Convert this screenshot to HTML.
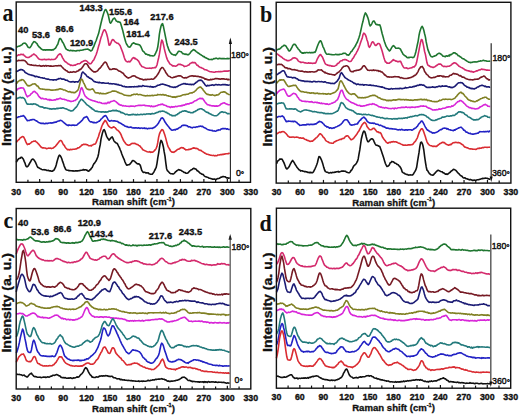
<!DOCTYPE html>
<html><head><meta charset="utf-8"><style>
html,body{margin:0;padding:0;background:#fff;}
svg{display:block;}
.tl{font-family:"Liberation Sans", sans-serif;font-weight:bold;font-size:8.8px;fill:#111;stroke:#111;stroke-width:0.35px;}
.ax{font-family:"Liberation Sans", sans-serif;font-weight:bold;font-size:9.6px;fill:#111;stroke:#111;stroke-width:0.3px;}
.ay{font-family:"Liberation Sans", sans-serif;font-weight:bold;font-size:12.7px;fill:#111;stroke:#111;stroke-width:0.35px;}
.pl{font-family:"Liberation Serif", serif;font-weight:bold;font-size:22px;fill:#111;}
.pk{font-family:"Liberation Sans", sans-serif;font-weight:bold;font-size:9.3px;fill:#111;stroke:#111;stroke-width:0.35px;}
.ang{font-family:"Liberation Sans", sans-serif;font-size:8.8px;fill:#111;stroke:#111;stroke-width:0.4px;}
</style></head><body>
<svg width="520" height="415" viewBox="0 0 520 415">
<polyline points="16.2,47.0 17.0,46.9 17.8,46.6 18.6,46.3 19.4,46.1 20.2,45.7 21.0,45.3 21.8,44.9 22.6,43.9 23.4,43.3 24.2,43.2 25.0,43.1 25.8,43.7 26.6,44.6 27.4,46.0 28.2,47.3 29.0,47.6 29.8,47.8 30.6,46.8 31.4,45.6 32.2,43.9 33.0,42.8 33.8,41.6 34.6,41.7 35.4,42.1 36.2,43.0 37.0,43.7 37.8,45.3 38.6,46.4 39.4,47.3 40.2,47.8 41.0,48.8 41.8,49.3 42.6,49.7 43.4,50.1 44.2,49.7 45.0,49.9 45.8,50.1 46.6,49.8 47.4,49.9 48.2,49.9 49.0,49.9 49.8,49.7 50.6,49.9 51.4,50.2 52.2,49.6 53.0,50.0 53.8,49.5 54.6,48.7 55.4,48.3 56.2,47.0 57.0,45.4 57.8,44.2 58.6,41.6 59.4,39.0 60.2,38.5 61.0,39.1 61.8,40.6 62.6,42.3 63.4,43.3 64.2,45.1 65.0,46.8 65.8,48.6 66.6,49.4 67.4,49.9 68.2,50.1 69.0,50.5 69.8,50.7 70.6,50.3 71.4,50.5 72.2,50.9 73.0,50.4 73.8,50.7 74.6,50.8 75.4,51.0 76.2,50.9 77.0,50.6 77.8,50.5 78.6,50.5 79.4,50.7 80.2,50.3 81.0,50.2 81.8,50.2 82.6,50.0 83.4,49.9 84.2,49.5 85.0,49.5 85.8,49.2 86.6,49.3 87.4,49.1 88.2,49.2 89.0,49.8 89.8,50.2 90.6,50.9 91.4,50.8 92.2,50.0 93.0,47.9 93.8,46.5 94.6,44.3 95.4,42.3 96.2,40.5 97.0,38.0 97.8,35.8 98.6,33.6 99.4,30.1 100.2,26.7 101.0,23.3 101.8,20.0 102.6,17.0 103.4,14.2 104.2,11.8 105.0,10.0 105.8,9.5 106.6,10.9 107.4,12.8 108.2,14.9 109.0,18.5 109.8,22.2 110.6,23.2 111.4,22.1 112.2,20.6 113.0,19.1 113.8,18.4 114.6,18.1 115.4,19.4 116.2,20.9 117.0,21.2 117.8,22.0 118.6,21.6 119.4,22.2 120.2,22.3 121.0,24.5 121.8,27.2 122.6,29.9 123.4,33.2 124.2,36.6 125.0,39.5 125.8,42.3 126.6,44.2 127.4,45.3 128.2,46.7 129.0,47.0 129.8,47.1 130.6,46.2 131.4,45.0 132.2,43.6 133.0,43.2 133.8,42.8 134.6,43.5 135.4,43.9 136.2,44.1 137.0,44.3 137.8,44.4 138.6,44.6 139.4,44.7 140.2,45.6 141.0,47.0 141.8,48.8 142.6,50.8 143.4,51.4 144.2,52.1 145.0,53.2 145.8,54.1 146.6,54.1 147.4,54.7 148.2,54.9 149.0,54.9 149.8,55.6 150.6,55.6 151.4,55.7 152.2,55.7 153.0,56.0 153.8,55.8 154.6,55.2 155.4,53.7 156.2,51.8 157.0,50.1 157.8,46.8 158.6,41.1 159.4,34.2 160.2,29.7 161.0,26.3 161.8,24.1 162.6,23.7 163.4,26.3 164.2,30.3 165.0,34.4 165.8,38.3 166.6,42.4 167.4,45.8 168.2,47.9 169.0,50.2 169.8,51.7 170.6,52.7 171.4,53.7 172.2,54.2 173.0,54.6 173.8,55.0 174.6,54.9 175.4,55.4 176.2,54.4 177.0,53.7 177.8,52.3 178.6,51.3 179.4,51.2 180.2,51.5 181.0,51.7 181.8,52.4 182.6,53.6 183.4,53.6 184.2,54.0 185.0,54.4 185.8,54.1 186.6,54.2 187.4,54.7 188.2,54.7 189.0,54.2 189.8,53.5 190.6,52.4 191.4,51.3 192.2,50.7 193.0,49.9 193.8,49.6 194.6,50.3 195.4,50.8 196.2,51.6 197.0,52.1 197.8,52.8 198.6,53.2 199.4,53.8 200.2,54.5 201.0,54.8 201.8,55.4 202.6,55.9 203.4,56.7 204.2,56.5 205.0,57.5 205.8,57.8 206.6,58.3 207.4,58.5 208.2,59.0 209.0,59.5 209.8,59.5 210.6,59.5 211.4,59.4 212.2,59.6 213.0,59.2 213.8,58.6 214.6,58.8 215.4,58.4 216.2,58.1 217.0,58.5 217.8,58.9 218.6,58.6 219.4,58.4 220.2,58.4 221.0,58.8 221.8,58.6 222.6,58.6 223.4,58.6 224.2,58.6 225.0,58.8 225.8,58.7 226.6,58.6 227.4,58.4 228.2,58.7 229.0,58.4 229.8,58.7" fill="none" stroke="#1f7630" stroke-width="1.6" stroke-linejoin="round"/>
<polyline points="16.2,56.3 17.0,55.9 17.8,55.4 18.6,54.7 19.4,55.0 20.2,54.8 21.0,54.2 21.8,54.5 22.6,54.6 23.4,54.4 24.2,55.6 25.0,56.2 25.8,56.9 26.6,57.2 27.4,57.5 28.2,57.5 29.0,57.4 29.8,56.8 30.6,56.2 31.4,55.9 32.2,55.0 33.0,54.6 33.8,54.0 34.6,54.6 35.4,55.0 36.2,55.8 37.0,56.8 37.8,57.7 38.6,58.7 39.4,59.3 40.2,59.5 41.0,59.5 41.8,59.8 42.6,59.6 43.4,59.5 44.2,59.4 45.0,59.4 45.8,59.8 46.6,59.6 47.4,59.5 48.2,59.4 49.0,59.3 49.8,59.5 50.6,59.7 51.4,59.4 52.2,59.5 53.0,59.5 53.8,59.5 54.6,59.2 55.4,59.0 56.2,58.0 57.0,57.1 57.8,55.5 58.6,54.7 59.4,54.2 60.2,53.7 61.0,54.5 61.8,56.1 62.6,57.8 63.4,59.2 64.2,60.6 65.0,61.6 65.8,61.9 66.6,62.6 67.4,63.1 68.2,64.0 69.0,64.2 69.8,64.6 70.6,65.4 71.4,65.1 72.2,65.5 73.0,65.5 73.8,65.2 74.6,65.1 75.4,65.2 76.2,64.5 77.0,64.2 77.8,63.8 78.6,63.8 79.4,63.8 80.2,63.4 81.0,62.5 81.8,62.0 82.6,61.5 83.4,61.2 84.2,60.7 85.0,60.6 85.8,60.6 86.6,61.0 87.4,61.7 88.2,62.6 89.0,63.2 89.8,63.7 90.6,63.8 91.4,63.1 92.2,62.1 93.0,60.7 93.8,60.0 94.6,58.1 95.4,56.3 96.2,54.5 97.0,52.0 97.8,49.2 98.6,46.3 99.4,43.7 100.2,40.5 101.0,37.6 101.8,35.4 102.6,33.0 103.4,31.0 104.2,29.8 105.0,30.1 105.8,31.6 106.6,33.8 107.4,36.7 108.2,40.5 109.0,45.0 109.8,45.2 110.6,43.7 111.4,41.4 112.2,40.0 113.0,39.5 113.8,40.2 114.6,41.3 115.4,42.1 116.2,42.5 117.0,43.2 117.8,43.3 118.6,43.8 119.4,44.7 120.2,45.7 121.0,47.9 121.8,50.0 122.6,52.1 123.4,54.5 124.2,57.3 125.0,59.5 125.8,60.8 126.6,61.5 127.4,61.9 128.2,61.8 129.0,61.3 129.8,61.9 130.6,61.1 131.4,60.1 132.2,58.6 133.0,57.9 133.8,57.6 134.6,58.6 135.4,58.4 136.2,59.3 137.0,59.5 137.8,60.4 138.6,61.1 139.4,62.7 140.2,64.4 141.0,65.2 141.8,66.5 142.6,66.8 143.4,67.0 144.2,67.4 145.0,67.8 145.8,68.1 146.6,68.2 147.4,68.2 148.2,68.3 149.0,68.2 149.8,68.1 150.6,68.3 151.4,68.4 152.2,67.8 153.0,68.0 153.8,67.8 154.6,67.5 155.4,67.7 156.2,66.7 157.0,65.0 157.8,61.4 158.6,58.0 159.4,54.2 160.2,49.2 161.0,43.5 161.8,40.0 162.6,41.3 163.4,44.4 164.2,48.2 165.0,51.6 165.8,54.6 166.6,57.6 167.4,59.6 168.2,61.3 169.0,62.3 169.8,63.9 170.6,64.4 171.4,64.9 172.2,65.5 173.0,66.1 173.8,65.8 174.6,66.0 175.4,66.2 176.2,65.9 177.0,65.6 177.8,64.8 178.6,64.3 179.4,64.4 180.2,64.3 181.0,64.8 181.8,64.9 182.6,65.3 183.4,65.5 184.2,66.6 185.0,66.2 185.8,66.3 186.6,66.0 187.4,65.6 188.2,65.1 189.0,65.0 189.8,63.9 190.6,63.2 191.4,62.9 192.2,62.4 193.0,62.6 193.8,62.6 194.6,62.5 195.4,63.0 196.2,64.1 197.0,65.3 197.8,65.3 198.6,66.5 199.4,66.7 200.2,67.5 201.0,67.5 201.8,68.0 202.6,68.2 203.4,68.6 204.2,69.4 205.0,69.7 205.8,69.8 206.6,70.1 207.4,70.3 208.2,70.9 209.0,71.3 209.8,71.6 210.6,71.8 211.4,71.7 212.2,72.0 213.0,72.0 213.8,72.2 214.6,72.3 215.4,71.9 216.2,71.7 217.0,71.8 217.8,71.7 218.6,71.6 219.4,71.7 220.2,71.4 221.0,71.7 221.8,71.5 222.6,71.5 223.4,71.3 224.2,71.1 225.0,71.0 225.8,71.1 226.6,71.0 227.4,71.1 228.2,71.1 229.0,70.7 229.8,71.0" fill="none" stroke="#d42a6c" stroke-width="1.6" stroke-linejoin="round"/>
<polyline points="16.2,61.1 17.0,61.0 17.8,60.7 18.6,60.2 19.4,60.5 20.2,60.5 21.0,60.5 21.8,60.4 22.6,60.4 23.4,60.3 24.2,60.5 25.0,60.8 25.8,61.7 26.6,62.4 27.4,63.6 28.2,64.3 29.0,64.5 29.8,64.7 30.6,65.0 31.4,64.7 32.2,65.3 33.0,65.3 33.8,65.4 34.6,65.5 35.4,65.3 36.2,65.5 37.0,65.7 37.8,65.7 38.6,65.7 39.4,65.4 40.2,65.9 41.0,66.1 41.8,66.1 42.6,65.9 43.4,65.6 44.2,66.1 45.0,65.9 45.8,65.5 46.6,66.1 47.4,65.7 48.2,65.7 49.0,65.9 49.8,66.3 50.6,65.9 51.4,66.1 52.2,66.3 53.0,66.3 53.8,66.0 54.6,66.0 55.4,65.7 56.2,65.8 57.0,65.9 57.8,65.8 58.6,65.6 59.4,65.7 60.2,65.4 61.0,65.8 61.8,66.7 62.6,67.5 63.4,68.5 64.2,69.2 65.0,69.7 65.8,70.4 66.6,70.7 67.4,71.2 68.2,72.1 69.0,72.2 69.8,72.4 70.6,71.9 71.4,72.2 72.2,72.1 73.0,72.0 73.8,71.6 74.6,72.0 75.4,72.1 76.2,71.8 77.0,71.3 77.8,71.0 78.6,70.7 79.4,69.5 80.2,69.6 81.0,69.0 81.8,68.1 82.6,67.1 83.4,65.8 84.2,64.6 85.0,63.8 85.8,63.7 86.6,63.7 87.4,64.7 88.2,66.0 89.0,67.5 89.8,68.2 90.6,69.1 91.4,69.9 92.2,70.8 93.0,71.2 93.8,72.0 94.6,71.8 95.4,71.9 96.2,71.6 97.0,71.2 97.8,70.6 98.6,69.3 99.4,68.6 100.2,68.0 101.0,67.0 101.8,65.8 102.6,65.0 103.4,63.7 104.2,62.7 105.0,62.0 105.8,62.4 106.6,63.3 107.4,65.3 108.2,66.8 109.0,68.4 109.8,69.5 110.6,69.3 111.4,69.5 112.2,69.2 113.0,68.8 113.8,68.9 114.6,68.8 115.4,69.2 116.2,69.1 117.0,69.5 117.8,70.2 118.6,70.8 119.4,71.2 120.2,71.3 121.0,71.9 121.8,72.6 122.6,72.9 123.4,73.5 124.2,74.7 125.0,75.7 125.8,76.4 126.6,77.0 127.4,77.6 128.2,78.1 129.0,77.7 129.8,77.5 130.6,77.1 131.4,76.7 132.2,76.1 133.0,76.0 133.8,75.7 134.6,76.0 135.4,76.3 136.2,77.2 137.0,77.4 137.8,77.7 138.6,78.1 139.4,78.5 140.2,79.0 141.0,78.9 141.8,79.2 142.6,79.4 143.4,80.0 144.2,79.7 145.0,79.4 145.8,79.6 146.6,79.8 147.4,79.3 148.2,79.3 149.0,79.5 149.8,79.3 150.6,79.3 151.4,78.9 152.2,79.3 153.0,79.2 153.8,78.8 154.6,78.3 155.4,77.0 156.2,76.7 157.0,75.4 157.8,74.2 158.6,73.0 159.4,71.4 160.2,69.6 161.0,68.6 161.8,67.5 162.6,67.5 163.4,68.3 164.2,69.6 165.0,70.7 165.8,72.6 166.6,73.5 167.4,74.8 168.2,75.9 169.0,76.3 169.8,76.5 170.6,77.2 171.4,77.5 172.2,77.7 173.0,77.7 173.8,77.1 174.6,77.3 175.4,76.6 176.2,76.7 177.0,76.3 177.8,76.0 178.6,75.9 179.4,75.8 180.2,75.9 181.0,76.0 181.8,76.7 182.6,77.4 183.4,77.8 184.2,77.9 185.0,77.9 185.8,77.6 186.6,77.9 187.4,77.3 188.2,77.0 189.0,76.6 189.8,76.3 190.6,76.0 191.4,75.9 192.2,75.7 193.0,75.9 193.8,76.4 194.6,76.0 195.4,76.1 196.2,76.3 197.0,76.5 197.8,76.2 198.6,76.5 199.4,76.9 200.2,76.9 201.0,77.0 201.8,77.6 202.6,77.5 203.4,78.0 204.2,78.3 205.0,79.2 205.8,78.8 206.6,79.4 207.4,79.6 208.2,79.9 209.0,79.9 209.8,80.0 210.6,79.3 211.4,79.7 212.2,79.4 213.0,79.2 213.8,79.3 214.6,78.9 215.4,78.5 216.2,78.8 217.0,78.5 217.8,78.7 218.6,78.9 219.4,78.9 220.2,79.2 221.0,78.9 221.8,78.7 222.6,78.9 223.4,78.9 224.2,78.9 225.0,79.3 225.8,79.2 226.6,79.0 227.4,79.6 228.2,79.4 229.0,79.6 229.8,79.5" fill="none" stroke="#761a24" stroke-width="1.6" stroke-linejoin="round"/>
<polyline points="16.2,72.1 17.0,71.3 17.8,71.0 18.6,70.4 19.4,70.1 20.2,69.9 21.0,69.4 21.8,69.7 22.6,69.9 23.4,70.5 24.2,70.9 25.0,72.3 25.8,72.8 26.6,73.2 27.4,73.6 28.2,74.2 29.0,74.5 29.8,74.6 30.6,75.0 31.4,75.0 32.2,75.5 33.0,75.4 33.8,75.7 34.6,76.2 35.4,76.7 36.2,76.2 37.0,76.6 37.8,76.7 38.6,77.3 39.4,77.1 40.2,77.5 41.0,77.7 41.8,77.7 42.6,77.9 43.4,78.2 44.2,78.0 45.0,78.4 45.8,78.7 46.6,79.0 47.4,79.1 48.2,79.0 49.0,79.4 49.8,79.8 50.6,79.8 51.4,79.8 52.2,79.7 53.0,80.1 53.8,79.9 54.6,79.8 55.4,79.7 56.2,80.0 57.0,79.4 57.8,79.3 58.6,78.6 59.4,78.7 60.2,78.4 61.0,78.5 61.8,79.2 62.6,79.1 63.4,79.0 64.2,79.3 65.0,79.7 65.8,80.2 66.6,80.2 67.4,80.4 68.2,81.1 69.0,81.5 69.8,81.7 70.6,82.0 71.4,81.8 72.2,81.9 73.0,81.5 73.8,81.9 74.6,82.1 75.4,81.9 76.2,81.8 77.0,81.7 77.8,82.1 78.6,81.3 79.4,80.5 80.2,79.3 81.0,77.0 81.8,73.4 82.6,72.1 83.4,72.3 84.2,73.2 85.0,74.0 85.8,74.6 86.6,75.7 87.4,76.7 88.2,76.9 89.0,77.6 89.8,78.3 90.6,78.4 91.4,79.1 92.2,79.4 93.0,80.5 93.8,81.3 94.6,81.8 95.4,81.8 96.2,82.2 97.0,82.2 97.8,82.4 98.6,82.8 99.4,82.3 100.2,82.8 101.0,82.7 101.8,83.1 102.6,82.9 103.4,82.8 104.2,83.0 105.0,83.2 105.8,83.2 106.6,83.3 107.4,83.2 108.2,83.0 109.0,83.6 109.8,83.7 110.6,83.6 111.4,83.7 112.2,84.0 113.0,83.8 113.8,83.8 114.6,84.0 115.4,84.4 116.2,84.0 117.0,84.7 117.8,84.5 118.6,84.6 119.4,85.3 120.2,85.3 121.0,85.3 121.8,85.7 122.6,86.2 123.4,86.5 124.2,86.3 125.0,86.7 125.8,86.9 126.6,86.7 127.4,87.0 128.2,87.0 129.0,86.9 129.8,86.9 130.6,86.9 131.4,86.9 132.2,86.7 133.0,86.7 133.8,86.9 134.6,86.6 135.4,86.7 136.2,86.7 137.0,86.5 137.8,86.8 138.6,86.1 139.4,86.4 140.2,86.1 141.0,86.5 141.8,86.4 142.6,85.6 143.4,85.8 144.2,86.1 145.0,86.2 145.8,86.2 146.6,86.2 147.4,86.4 148.2,86.5 149.0,86.5 149.8,86.9 150.6,86.3 151.4,87.0 152.2,86.7 153.0,87.2 153.8,86.9 154.6,86.7 155.4,86.8 156.2,86.2 157.0,85.8 157.8,85.3 158.6,85.2 159.4,84.9 160.2,84.7 161.0,84.2 161.8,84.3 162.6,84.1 163.4,84.2 164.2,84.5 165.0,84.9 165.8,84.9 166.6,85.2 167.4,85.5 168.2,85.9 169.0,85.9 169.8,86.6 170.6,86.6 171.4,87.0 172.2,87.0 173.0,87.3 173.8,87.4 174.6,87.1 175.4,87.4 176.2,86.8 177.0,86.8 177.8,86.3 178.6,85.6 179.4,85.2 180.2,85.0 181.0,84.6 181.8,84.3 182.6,84.0 183.4,83.6 184.2,83.9 185.0,83.5 185.8,84.1 186.6,84.0 187.4,84.1 188.2,84.3 189.0,84.5 189.8,84.3 190.6,84.4 191.4,84.6 192.2,84.4 193.0,84.5 193.8,84.6 194.6,83.6 195.4,83.3 196.2,82.2 197.0,81.9 197.8,81.1 198.6,80.6 199.4,80.3 200.2,80.4 201.0,80.1 201.8,80.7 202.6,81.3 203.4,82.6 204.2,83.3 205.0,84.8 205.8,85.6 206.6,86.1 207.4,85.4 208.2,85.6 209.0,85.8 209.8,85.4 210.6,85.2 211.4,85.2 212.2,84.8 213.0,85.0 213.8,85.4 214.6,85.1 215.4,84.6 216.2,84.6 217.0,84.7 217.8,85.0 218.6,84.6 219.4,84.7 220.2,85.0 221.0,85.0 221.8,84.7 222.6,84.6 223.4,84.5 224.2,84.7 225.0,84.4 225.8,84.9 226.6,84.7 227.4,84.9 228.2,85.2 229.0,85.0 229.8,84.6" fill="none" stroke="#1b1b74" stroke-width="1.6" stroke-linejoin="round"/>
<polyline points="16.2,84.0 17.0,83.0 17.8,81.8 18.6,81.1 19.4,80.7 20.2,80.1 21.0,80.5 21.8,79.6 22.6,79.8 23.4,80.1 24.2,80.9 25.0,82.0 25.8,83.3 26.6,84.4 27.4,85.6 28.2,85.5 29.0,86.0 29.8,85.6 30.6,85.4 31.4,85.0 32.2,84.3 33.0,84.0 33.8,84.0 34.6,83.9 35.4,84.0 36.2,85.1 37.0,85.9 37.8,86.0 38.6,87.2 39.4,88.5 40.2,88.7 41.0,89.0 41.8,89.0 42.6,89.1 43.4,89.3 44.2,89.3 45.0,89.6 45.8,89.5 46.6,89.6 47.4,89.5 48.2,89.8 49.0,89.6 49.8,89.8 50.6,90.1 51.4,90.0 52.2,90.1 53.0,90.1 53.8,90.0 54.6,90.0 55.4,89.9 56.2,89.9 57.0,89.4 57.8,89.7 58.6,89.2 59.4,88.9 60.2,88.9 61.0,88.9 61.8,89.2 62.6,89.3 63.4,90.0 64.2,90.0 65.0,90.0 65.8,90.7 66.6,90.8 67.4,91.4 68.2,91.8 69.0,91.9 69.8,91.6 70.6,91.9 71.4,92.5 72.2,92.3 73.0,92.4 73.8,92.6 74.6,92.8 75.4,92.3 76.2,91.6 77.0,91.0 77.8,90.3 78.6,88.5 79.4,85.3 80.2,82.1 81.0,79.3 81.8,79.1 82.6,80.3 83.4,82.6 84.2,83.8 85.0,85.6 85.8,87.4 86.6,88.6 87.4,89.2 88.2,89.4 89.0,89.6 89.8,89.6 90.6,89.6 91.4,89.3 92.2,88.9 93.0,89.1 93.8,90.3 94.6,91.6 95.4,92.7 96.2,92.8 97.0,93.0 97.8,92.8 98.6,93.0 99.4,93.7 100.2,93.0 101.0,93.5 101.8,93.6 102.6,93.6 103.4,93.5 104.2,93.7 105.0,93.7 105.8,93.7 106.6,93.2 107.4,93.3 108.2,92.8 109.0,92.5 109.8,92.3 110.6,92.0 111.4,91.6 112.2,91.1 113.0,91.1 113.8,91.0 114.6,91.1 115.4,91.3 116.2,91.4 117.0,91.8 117.8,92.4 118.6,92.4 119.4,93.0 120.2,93.2 121.0,93.5 121.8,93.6 122.6,94.1 123.4,94.5 124.2,95.0 125.0,95.3 125.8,95.3 126.6,95.5 127.4,95.5 128.2,95.8 129.0,95.6 129.8,95.7 130.6,95.8 131.4,95.3 132.2,94.8 133.0,94.7 133.8,94.3 134.6,94.2 135.4,94.6 136.2,94.3 137.0,94.0 137.8,94.5 138.6,94.7 139.4,94.5 140.2,94.5 141.0,94.7 141.8,95.0 142.6,95.2 143.4,95.5 144.2,95.6 145.0,95.7 145.8,95.9 146.6,95.8 147.4,95.4 148.2,95.7 149.0,95.7 149.8,95.6 150.6,95.8 151.4,95.5 152.2,95.3 153.0,95.7 153.8,95.5 154.6,95.3 155.4,95.3 156.2,95.3 157.0,95.1 157.8,94.4 158.6,94.7 159.4,94.7 160.2,94.6 161.0,94.8 161.8,94.9 162.6,94.6 163.4,94.5 164.2,95.3 165.0,94.9 165.8,95.0 166.6,95.5 167.4,95.8 168.2,95.8 169.0,96.3 169.8,96.3 170.6,96.4 171.4,96.8 172.2,97.1 173.0,96.9 173.8,97.1 174.6,96.9 175.4,97.4 176.2,96.6 177.0,96.9 177.8,96.4 178.6,96.2 179.4,96.2 180.2,96.0 181.0,95.9 181.8,95.4 182.6,95.0 183.4,94.8 184.2,94.8 185.0,94.6 185.8,94.6 186.6,94.2 187.4,94.2 188.2,94.1 189.0,93.6 189.8,93.1 190.6,93.0 191.4,92.7 192.2,93.0 193.0,92.2 193.8,92.2 194.6,91.4 195.4,90.9 196.2,90.0 197.0,89.0 197.8,88.3 198.6,87.7 199.4,87.3 200.2,86.9 201.0,87.2 201.8,88.3 202.6,88.9 203.4,90.5 204.2,91.2 205.0,92.3 205.8,93.3 206.6,93.9 207.4,94.5 208.2,94.3 209.0,94.9 209.8,94.7 210.6,95.1 211.4,95.1 212.2,94.6 213.0,95.0 213.8,95.3 214.6,95.6 215.4,95.4 216.2,95.3 217.0,94.8 217.8,95.0 218.6,94.6 219.4,93.7 220.2,93.0 221.0,92.2 221.8,92.2 222.6,92.2 223.4,91.7 224.2,91.9 225.0,92.1 225.8,92.4 226.6,93.5 227.4,93.6 228.2,94.2 229.0,94.5 229.8,94.7" fill="none" stroke="#808024" stroke-width="1.6" stroke-linejoin="round"/>
<polyline points="16.2,90.7 17.0,89.9 17.8,89.0 18.6,88.5 19.4,88.4 20.2,88.1 21.0,87.9 21.8,87.9 22.6,88.0 23.4,88.1 24.2,89.6 25.0,91.6 25.8,94.0 26.6,95.7 27.4,96.9 28.2,96.1 29.0,95.8 29.8,95.4 30.6,94.4 31.4,93.5 32.2,93.1 33.0,92.0 33.8,91.5 34.6,91.4 35.4,92.1 36.2,92.8 37.0,93.4 37.8,94.6 38.6,96.0 39.4,97.0 40.2,97.6 41.0,98.4 41.8,98.6 42.6,98.3 43.4,98.7 44.2,99.0 45.0,99.0 45.8,98.8 46.6,99.3 47.4,99.6 48.2,99.9 49.0,99.3 49.8,100.3 50.6,99.6 51.4,100.1 52.2,100.2 53.0,100.2 53.8,100.0 54.6,99.8 55.4,100.0 56.2,99.5 57.0,98.8 57.8,99.5 58.6,98.7 59.4,98.7 60.2,98.1 61.0,98.7 61.8,98.9 62.6,99.2 63.4,99.2 64.2,99.3 65.0,99.8 65.8,99.7 66.6,100.1 67.4,100.6 68.2,100.5 69.0,100.9 69.8,101.0 70.6,101.5 71.4,101.4 72.2,101.2 73.0,101.3 73.8,100.7 74.6,100.5 75.4,100.4 76.2,99.5 77.0,99.1 77.8,97.7 78.6,96.3 79.4,94.6 80.2,91.0 81.0,88.4 81.8,87.7 82.6,89.3 83.4,91.7 84.2,94.0 85.0,95.8 85.8,96.7 86.6,97.4 87.4,98.3 88.2,98.5 89.0,99.2 89.8,99.5 90.6,99.8 91.4,100.3 92.2,100.4 93.0,100.7 93.8,100.7 94.6,101.2 95.4,101.3 96.2,101.7 97.0,101.8 97.8,102.2 98.6,102.5 99.4,102.3 100.2,102.6 101.0,102.7 101.8,103.2 102.6,103.5 103.4,103.5 104.2,103.3 105.0,103.7 105.8,103.1 106.6,103.6 107.4,102.9 108.2,102.2 109.0,103.0 109.8,102.5 110.6,101.6 111.4,101.5 112.2,101.2 113.0,101.0 113.8,100.6 114.6,100.8 115.4,101.4 116.2,101.9 117.0,102.7 117.8,103.2 118.6,104.4 119.4,104.4 120.2,105.1 121.0,105.0 121.8,105.3 122.6,105.9 123.4,105.6 124.2,106.0 125.0,106.0 125.8,105.9 126.6,106.2 127.4,106.2 128.2,106.2 129.0,106.4 129.8,106.4 130.6,106.1 131.4,106.0 132.2,106.2 133.0,106.1 133.8,106.2 134.6,106.5 135.4,106.1 136.2,105.8 137.0,105.7 137.8,105.5 138.6,105.4 139.4,105.3 140.2,105.4 141.0,105.3 141.8,105.5 142.6,105.2 143.4,105.3 144.2,105.1 145.0,105.7 145.8,105.5 146.6,105.8 147.4,105.7 148.2,106.0 149.0,105.8 149.8,106.1 150.6,106.6 151.4,105.9 152.2,106.5 153.0,106.6 153.8,106.4 154.6,106.4 155.4,106.3 156.2,105.7 157.0,105.7 157.8,105.2 158.6,104.9 159.4,104.7 160.2,104.6 161.0,104.4 161.8,104.4 162.6,104.0 163.4,104.9 164.2,105.0 165.0,105.3 165.8,105.5 166.6,106.0 167.4,106.5 168.2,106.8 169.0,106.6 169.8,107.2 170.6,107.6 171.4,106.6 172.2,107.1 173.0,106.9 173.8,106.7 174.6,106.9 175.4,106.3 176.2,106.5 177.0,106.6 177.8,106.2 178.6,106.0 179.4,106.0 180.2,105.8 181.0,106.0 181.8,105.4 182.6,105.6 183.4,105.0 184.2,105.2 185.0,104.8 185.8,104.1 186.6,104.4 187.4,103.9 188.2,103.8 189.0,104.0 189.8,103.2 190.6,103.0 191.4,103.2 192.2,102.6 193.0,102.4 193.8,101.7 194.6,101.0 195.4,100.7 196.2,100.5 197.0,100.0 197.8,99.3 198.6,99.0 199.4,98.6 200.2,98.3 201.0,98.7 201.8,98.4 202.6,98.6 203.4,99.5 204.2,100.8 205.0,101.9 205.8,102.9 206.6,103.8 207.4,104.7 208.2,104.8 209.0,105.0 209.8,105.5 210.6,105.4 211.4,105.7 212.2,105.9 213.0,105.9 213.8,105.8 214.6,106.3 215.4,106.1 216.2,105.9 217.0,106.1 217.8,106.1 218.6,105.7 219.4,105.5 220.2,104.9 221.0,103.9 221.8,103.7 222.6,103.3 223.4,103.0 224.2,102.8 225.0,103.3 225.8,103.7 226.6,104.1 227.4,104.2 228.2,104.8 229.0,104.7 229.8,105.0" fill="none" stroke="#d826d8" stroke-width="1.6" stroke-linejoin="round"/>
<polyline points="16.2,99.6 17.0,98.5 17.8,98.1 18.6,98.0 19.4,97.5 20.2,97.4 21.0,97.6 21.8,97.9 22.6,97.5 23.4,98.1 24.2,98.4 25.0,99.6 25.8,101.5 26.6,103.2 27.4,104.3 28.2,104.1 29.0,104.3 29.8,104.3 30.6,104.0 31.4,104.1 32.2,104.4 33.0,104.1 33.8,103.9 34.6,104.0 35.4,104.0 36.2,104.5 37.0,105.0 37.8,105.1 38.6,105.8 39.4,106.5 40.2,106.6 41.0,107.0 41.8,106.9 42.6,107.1 43.4,107.4 44.2,108.1 45.0,107.7 45.8,107.9 46.6,108.0 47.4,108.2 48.2,108.5 49.0,108.5 49.8,109.0 50.6,108.7 51.4,109.1 52.2,108.9 53.0,109.0 53.8,108.6 54.6,108.9 55.4,108.9 56.2,108.7 57.0,108.3 57.8,108.7 58.6,108.3 59.4,108.2 60.2,108.1 61.0,108.0 61.8,108.1 62.6,107.8 63.4,107.9 64.2,108.3 65.0,108.6 65.8,108.8 66.6,109.1 67.4,109.4 68.2,109.9 69.0,110.4 69.8,110.2 70.6,111.0 71.4,110.9 72.2,110.7 73.0,110.6 73.8,109.6 74.6,108.8 75.4,107.9 76.2,107.2 77.0,106.1 77.8,104.6 78.6,103.3 79.4,101.5 80.2,100.7 81.0,99.4 81.8,99.4 82.6,100.1 83.4,100.8 84.2,101.7 85.0,102.5 85.8,103.5 86.6,104.4 87.4,105.1 88.2,105.5 89.0,106.2 89.8,106.7 90.6,107.6 91.4,107.7 92.2,109.0 93.0,109.3 93.8,109.8 94.6,110.6 95.4,111.1 96.2,111.1 97.0,111.4 97.8,111.4 98.6,111.7 99.4,111.8 100.2,111.7 101.0,112.1 101.8,111.9 102.6,111.9 103.4,111.8 104.2,111.9 105.0,112.2 105.8,111.7 106.6,112.1 107.4,111.9 108.2,111.8 109.0,111.1 109.8,111.3 110.6,111.3 111.4,110.8 112.2,110.8 113.0,110.2 113.8,110.7 114.6,110.4 115.4,110.7 116.2,110.2 117.0,110.9 117.8,110.9 118.6,111.4 119.4,111.3 120.2,111.7 121.0,112.7 121.8,112.4 122.6,112.8 123.4,113.3 124.2,113.5 125.0,114.2 125.8,114.6 126.6,114.3 127.4,114.3 128.2,114.9 129.0,114.9 129.8,114.9 130.6,114.9 131.4,114.5 132.2,114.6 133.0,114.4 133.8,114.4 134.6,114.8 135.4,114.5 136.2,115.0 137.0,114.6 137.8,114.4 138.6,114.7 139.4,114.8 140.2,114.5 141.0,114.2 141.8,114.5 142.6,114.6 143.4,114.2 144.2,114.1 145.0,114.5 145.8,114.2 146.6,113.9 147.4,114.0 148.2,113.9 149.0,114.0 149.8,113.9 150.6,114.1 151.4,113.9 152.2,113.4 153.0,113.7 153.8,113.7 154.6,113.4 155.4,113.3 156.2,112.8 157.0,112.4 157.8,112.5 158.6,111.8 159.4,111.4 160.2,111.8 161.0,111.3 161.8,111.3 162.6,111.0 163.4,111.2 164.2,111.4 165.0,111.9 165.8,112.4 166.6,112.3 167.4,113.4 168.2,113.4 169.0,113.9 169.8,114.7 170.6,114.9 171.4,115.0 172.2,115.9 173.0,115.5 173.8,115.7 174.6,115.6 175.4,115.6 176.2,114.8 177.0,114.7 177.8,113.8 178.6,113.6 179.4,112.7 180.2,112.2 181.0,112.2 181.8,111.5 182.6,111.1 183.4,111.3 184.2,110.9 185.0,110.7 185.8,111.2 186.6,111.1 187.4,111.8 188.2,112.1 189.0,112.1 189.8,112.3 190.6,112.7 191.4,112.8 192.2,112.6 193.0,112.7 193.8,111.9 194.6,111.8 195.4,111.3 196.2,110.8 197.0,110.4 197.8,109.6 198.6,109.5 199.4,109.0 200.2,108.8 201.0,108.7 201.8,108.9 202.6,109.5 203.4,109.7 204.2,110.4 205.0,111.1 205.8,111.6 206.6,112.3 207.4,112.4 208.2,112.6 209.0,113.4 209.8,113.6 210.6,114.2 211.4,114.4 212.2,115.0 213.0,115.2 213.8,115.5 214.6,115.7 215.4,115.8 216.2,115.7 217.0,115.4 217.8,114.9 218.6,113.9 219.4,113.5 220.2,112.4 221.0,112.2 221.8,111.8 222.6,111.8 223.4,112.4 224.2,112.2 225.0,112.2 225.8,112.6 226.6,113.0 227.4,113.8 228.2,113.6 229.0,113.8 229.8,113.5" fill="none" stroke="#237a7c" stroke-width="1.6" stroke-linejoin="round"/>
<polyline points="16.2,117.7 17.0,117.5 17.8,117.4 18.6,116.7 19.4,116.8 20.2,116.5 21.0,116.1 21.8,116.2 22.6,116.0 23.4,115.5 24.2,116.3 25.0,117.3 25.8,118.5 26.6,119.6 27.4,120.8 28.2,120.5 29.0,120.5 29.8,120.4 30.6,119.9 31.4,119.9 32.2,119.6 33.0,119.5 33.8,119.5 34.6,119.8 35.4,120.4 36.2,120.7 37.0,121.2 37.8,121.8 38.6,122.5 39.4,122.7 40.2,123.1 41.0,123.4 41.8,123.3 42.6,123.4 43.4,123.2 44.2,123.7 45.0,123.6 45.8,123.4 46.6,123.2 47.4,123.6 48.2,123.2 49.0,123.0 49.8,123.0 50.6,122.9 51.4,123.1 52.2,122.7 53.0,123.0 53.8,122.3 54.6,122.5 55.4,122.0 56.2,122.3 57.0,121.5 57.8,121.2 58.6,121.0 59.4,120.9 60.2,120.3 61.0,120.5 61.8,120.7 62.6,121.5 63.4,122.2 64.2,122.9 65.0,123.5 65.8,124.2 66.6,124.7 67.4,125.3 68.2,125.6 69.0,124.9 69.8,125.3 70.6,125.2 71.4,125.4 72.2,125.1 73.0,125.3 73.8,125.1 74.6,125.4 75.4,125.3 76.2,125.2 77.0,124.9 77.8,124.2 78.6,123.2 79.4,122.9 80.2,122.2 81.0,121.4 81.8,120.7 82.6,119.8 83.4,118.4 84.2,117.6 85.0,117.4 85.8,117.0 86.6,116.5 87.4,117.3 88.2,118.9 89.0,120.5 89.8,121.3 90.6,121.9 91.4,121.8 92.2,122.1 93.0,122.6 93.8,122.4 94.6,122.6 95.4,122.8 96.2,122.8 97.0,122.3 97.8,122.0 98.6,121.2 99.4,121.1 100.2,120.2 101.0,119.2 101.8,118.5 102.6,117.7 103.4,116.7 104.2,116.2 105.0,115.7 105.8,115.6 106.6,116.9 107.4,118.2 108.2,120.0 109.0,120.7 109.8,121.3 110.6,120.9 111.4,120.5 112.2,120.8 113.0,121.0 113.8,120.8 114.6,120.9 115.4,121.0 116.2,121.3 117.0,121.3 117.8,121.6 118.6,122.4 119.4,122.6 120.2,123.1 121.0,123.4 121.8,124.0 122.6,124.7 123.4,124.8 124.2,125.5 125.0,126.1 125.8,126.3 126.6,126.7 127.4,126.6 128.2,127.3 129.0,127.4 129.8,127.3 130.6,127.0 131.4,127.3 132.2,127.8 133.0,128.0 133.8,127.8 134.6,128.1 135.4,127.8 136.2,127.9 137.0,128.0 137.8,128.1 138.6,127.8 139.4,128.3 140.2,128.4 141.0,128.0 141.8,128.0 142.6,128.4 143.4,128.2 144.2,127.9 145.0,128.5 145.8,128.4 146.6,128.3 147.4,128.9 148.2,128.5 149.0,128.3 149.8,128.5 150.6,128.3 151.4,128.3 152.2,128.5 153.0,128.0 153.8,127.5 154.6,127.4 155.4,126.5 156.2,125.8 157.0,125.1 157.8,124.1 158.6,123.0 159.4,121.2 160.2,120.2 161.0,118.5 161.8,118.0 162.6,117.9 163.4,118.9 164.2,120.4 165.0,122.1 165.8,123.1 166.6,124.3 167.4,125.3 168.2,126.3 169.0,127.2 169.8,128.5 170.6,128.9 171.4,129.9 172.2,130.2 173.0,130.0 173.8,129.9 174.6,129.6 175.4,130.0 176.2,129.0 177.0,129.3 177.8,128.7 178.6,128.2 179.4,127.5 180.2,127.4 181.0,126.9 181.8,125.8 182.6,125.4 183.4,125.4 184.2,125.1 185.0,125.5 185.8,125.2 186.6,125.8 187.4,125.8 188.2,126.9 189.0,126.7 189.8,126.8 190.6,127.4 191.4,127.5 192.2,127.9 193.0,127.3 193.8,127.3 194.6,127.3 195.4,127.4 196.2,126.9 197.0,127.0 197.8,126.7 198.6,126.4 199.4,126.4 200.2,126.3 201.0,126.1 201.8,126.6 202.6,126.3 203.4,127.2 204.2,127.6 205.0,127.9 205.8,128.3 206.6,128.9 207.4,129.4 208.2,129.8 209.0,129.9 209.8,130.3 210.6,130.2 211.4,130.5 212.2,130.4 213.0,131.0 213.8,131.0 214.6,130.9 215.4,131.2 216.2,131.0 217.0,130.2 217.8,130.5 218.6,129.9 219.4,130.0 220.2,130.0 221.0,129.0 221.8,128.9 222.6,128.6 223.4,128.6 224.2,128.6 225.0,128.8 225.8,128.5 226.6,129.2 227.4,128.8 228.2,129.2 229.0,129.5 229.8,129.4" fill="none" stroke="#2222c4" stroke-width="1.6" stroke-linejoin="round"/>
<polyline points="16.2,142.5 17.0,141.5 17.8,140.5 18.6,139.7 19.4,139.2 20.2,137.9 21.0,137.5 21.8,136.9 22.6,136.6 23.4,136.7 24.2,138.0 25.0,139.6 25.8,141.6 26.6,143.3 27.4,144.6 28.2,143.9 29.0,144.3 29.8,143.6 30.6,143.1 31.4,142.4 32.2,141.7 33.0,141.5 33.8,141.1 34.6,141.2 35.4,140.9 36.2,141.9 37.0,142.4 37.8,143.2 38.6,144.1 39.4,145.1 40.2,146.0 41.0,147.0 41.8,147.6 42.6,147.9 43.4,147.7 44.2,148.0 45.0,148.0 45.8,148.3 46.6,148.7 47.4,148.5 48.2,148.3 49.0,148.1 49.8,148.2 50.6,148.1 51.4,148.6 52.2,148.3 53.0,148.2 53.8,147.5 54.6,146.9 55.4,146.4 56.2,145.3 57.0,144.4 57.8,143.2 58.6,142.4 59.4,141.1 60.2,140.6 61.0,140.5 61.8,141.3 62.6,143.0 63.4,144.8 64.2,145.2 65.0,146.9 65.8,148.0 66.6,148.8 67.4,149.6 68.2,149.6 69.0,149.5 69.8,150.0 70.6,149.2 71.4,149.6 72.2,149.5 73.0,149.2 73.8,149.3 74.6,149.3 75.4,149.0 76.2,148.9 77.0,148.6 77.8,147.7 78.6,147.9 79.4,147.5 80.2,146.6 81.0,146.1 81.8,145.1 82.6,144.9 83.4,144.4 84.2,144.2 85.0,144.5 85.8,144.3 86.6,144.7 87.4,144.7 88.2,145.4 89.0,145.7 89.8,145.7 90.6,145.6 91.4,145.9 92.2,145.0 93.0,144.7 93.8,144.3 94.6,144.2 95.4,143.8 96.2,142.4 97.0,140.3 97.8,138.2 98.6,136.2 99.4,133.2 100.2,131.3 101.0,128.8 101.8,126.3 102.6,124.5 103.4,123.0 104.2,121.8 105.0,120.4 105.8,121.0 106.6,122.2 107.4,123.9 108.2,125.5 109.0,126.4 109.8,127.1 110.6,127.6 111.4,127.9 112.2,127.8 113.0,127.2 113.8,126.8 114.6,127.4 115.4,127.9 116.2,128.9 117.0,129.9 117.8,130.3 118.6,131.1 119.4,132.1 120.2,133.1 121.0,134.5 121.8,136.6 122.6,138.4 123.4,140.3 124.2,141.5 125.0,142.5 125.8,143.7 126.6,144.5 127.4,144.9 128.2,145.1 129.0,145.2 129.8,144.8 130.6,144.6 131.4,143.6 132.2,143.5 133.0,143.3 133.8,143.5 134.6,143.4 135.4,143.6 136.2,144.2 137.0,144.4 137.8,144.5 138.6,145.4 139.4,145.8 140.2,146.3 141.0,147.5 141.8,148.2 142.6,149.5 143.4,150.0 144.2,150.4 145.0,150.8 145.8,151.1 146.6,151.5 147.4,151.8 148.2,152.0 149.0,152.0 149.8,151.6 150.6,152.4 151.4,152.0 152.2,152.3 153.0,152.0 153.8,151.3 154.6,150.4 155.4,149.6 156.2,148.3 157.0,146.3 157.8,142.4 158.6,137.4 159.4,134.1 160.2,132.1 161.0,130.8 161.8,129.6 162.6,129.7 163.4,131.0 164.2,133.3 165.0,135.6 165.8,138.4 166.6,141.6 167.4,144.5 168.2,146.9 169.0,148.1 169.8,149.5 170.6,151.0 171.4,151.8 172.2,152.2 173.0,152.0 173.8,152.4 174.6,151.7 175.4,151.3 176.2,150.6 177.0,149.9 177.8,149.3 178.6,149.2 179.4,148.7 180.2,148.2 181.0,147.8 181.8,147.6 182.6,147.9 183.4,147.9 184.2,148.7 185.0,149.2 185.8,149.9 186.6,149.8 187.4,149.8 188.2,149.8 189.0,149.2 189.8,149.4 190.6,149.1 191.4,148.9 192.2,148.4 193.0,148.1 193.8,147.9 194.6,148.1 195.4,148.4 196.2,148.2 197.0,148.6 197.8,148.8 198.6,149.8 199.4,150.1 200.2,150.4 201.0,150.4 201.8,151.1 202.6,151.6 203.4,152.2 204.2,152.6 205.0,153.3 205.8,153.6 206.6,154.2 207.4,154.3 208.2,154.4 209.0,154.7 209.8,154.9 210.6,155.3 211.4,155.3 212.2,155.5 213.0,155.5 213.8,155.4 214.6,155.9 215.4,155.5 216.2,155.7 217.0,155.6 217.8,155.0 218.6,155.0 219.4,154.9 220.2,154.7 221.0,154.4 221.8,154.7 222.6,154.3 223.4,154.4 224.2,154.1 225.0,154.1 225.8,153.7 226.6,153.7 227.4,153.8 228.2,153.6 229.0,153.4 229.8,153.3" fill="none" stroke="#da2c32" stroke-width="1.6" stroke-linejoin="round"/>
<polyline points="16.2,162.3 17.0,161.0 17.8,159.8 18.6,158.8 19.4,158.4 20.2,158.2 21.0,157.2 21.8,157.4 22.6,158.3 23.4,159.3 24.2,161.4 25.0,163.1 25.8,165.7 26.6,166.7 27.4,166.7 28.2,165.9 29.0,164.5 29.8,163.0 30.6,161.8 31.4,160.1 32.2,159.2 33.0,159.0 33.8,159.8 34.6,160.8 35.4,162.1 36.2,164.0 37.0,165.8 37.8,167.3 38.6,167.8 39.4,168.1 40.2,168.7 41.0,169.0 41.8,169.4 42.6,169.7 43.4,169.7 44.2,169.6 45.0,170.0 45.8,169.9 46.6,170.4 47.4,170.5 48.2,170.3 49.0,170.8 49.8,170.9 50.6,170.8 51.4,171.2 52.2,171.3 53.0,170.6 53.8,170.4 54.6,169.0 55.4,167.4 56.2,165.0 57.0,161.7 57.8,159.1 58.6,156.5 59.4,155.1 60.2,155.7 61.0,157.0 61.8,158.8 62.6,161.4 63.4,163.5 64.2,166.1 65.0,167.9 65.8,169.6 66.6,170.0 67.4,170.3 68.2,170.3 69.0,170.7 69.8,170.6 70.6,170.7 71.4,170.8 72.2,170.9 73.0,170.8 73.8,171.1 74.6,171.0 75.4,170.9 76.2,170.9 77.0,170.9 77.8,170.9 78.6,170.8 79.4,170.6 80.2,170.5 81.0,170.2 81.8,170.3 82.6,170.0 83.4,169.5 84.2,170.1 85.0,169.8 85.8,169.7 86.6,170.2 87.4,170.4 88.2,171.3 89.0,171.0 89.8,170.0 90.6,169.5 91.4,168.3 92.2,167.5 93.0,165.5 93.8,163.9 94.6,163.1 95.4,161.9 96.2,160.7 97.0,158.9 97.8,157.0 98.6,153.7 99.4,148.7 100.2,144.9 101.0,139.2 101.8,135.6 102.6,132.4 103.4,130.2 104.2,129.7 105.0,131.2 105.8,133.7 106.6,136.3 107.4,137.7 108.2,138.9 109.0,140.2 109.8,139.2 110.6,138.2 111.4,137.4 112.2,136.9 113.0,138.4 113.8,140.6 114.6,141.7 115.4,142.4 116.2,143.0 117.0,143.2 117.8,144.5 118.6,146.1 119.4,147.6 120.2,149.7 121.0,151.5 121.8,154.0 122.6,156.0 123.4,157.9 124.2,159.6 125.0,162.0 125.8,163.7 126.6,165.1 127.4,165.1 128.2,164.7 129.0,164.7 129.8,164.3 130.6,163.2 131.4,162.4 132.2,161.0 133.0,160.5 133.8,160.9 134.6,161.3 135.4,162.1 136.2,162.8 137.0,163.6 137.8,163.9 138.6,163.7 139.4,164.4 140.2,165.1 141.0,167.8 141.8,170.6 142.6,171.6 143.4,172.5 144.2,172.3 145.0,172.3 145.8,173.0 146.6,172.8 147.4,173.0 148.2,172.7 149.0,173.8 149.8,174.0 150.6,174.2 151.4,174.3 152.2,174.2 153.0,173.2 153.8,172.3 154.6,170.5 155.4,169.0 156.2,167.3 157.0,163.3 157.8,157.9 158.6,153.4 159.4,148.2 160.2,142.9 161.0,140.4 161.8,141.2 162.6,143.7 163.4,147.0 164.2,151.9 165.0,156.1 165.8,162.9 166.6,168.7 167.4,170.7 168.2,171.3 169.0,172.3 169.8,173.1 170.6,173.7 171.4,173.7 172.2,173.8 173.0,174.1 173.8,173.8 174.6,173.0 175.4,172.0 176.2,171.4 177.0,170.6 177.8,170.2 178.6,169.6 179.4,169.9 180.2,170.1 181.0,170.2 181.8,171.0 182.6,171.4 183.4,171.9 184.2,172.5 185.0,172.5 185.8,173.1 186.6,173.3 187.4,173.1 188.2,172.8 189.0,171.7 189.8,170.9 190.6,170.4 191.4,169.7 192.2,169.4 193.0,168.7 193.8,168.3 194.6,168.8 195.4,168.9 196.2,169.2 197.0,170.7 197.8,170.9 198.6,171.7 199.4,172.4 200.2,173.2 201.0,173.5 201.8,174.2 202.6,174.3 203.4,174.8 204.2,175.9 205.0,176.4 205.8,176.7 206.6,177.0 207.4,177.3 208.2,177.5 209.0,178.2 209.8,178.3 210.6,178.5 211.4,178.8 212.2,179.1 213.0,179.1 213.8,179.3 214.6,179.0 215.4,179.3 216.2,179.5 217.0,178.7 217.8,178.6 218.6,178.5 219.4,178.2 220.2,177.8 221.0,177.0 221.8,177.2 222.6,176.6 223.4,176.6 224.2,176.8 225.0,176.7 225.8,177.2 226.6,178.0 227.4,177.8 228.2,178.1 229.0,178.0 229.8,178.1" fill="none" stroke="#111111" stroke-width="1.6" stroke-linejoin="round"/>
<polyline points="276.6,49.7 277.4,49.7 278.2,49.3 279.0,49.1 279.8,48.9 280.6,48.2 281.4,47.4 282.2,46.5 283.0,46.1 283.8,45.4 284.6,45.3 285.4,45.7 286.2,46.4 287.0,48.0 287.8,48.9 288.6,50.8 289.4,51.0 290.2,50.4 291.0,49.0 291.8,47.7 292.6,45.7 293.4,44.6 294.2,44.3 295.0,44.4 295.8,45.2 296.6,46.7 297.4,47.7 298.2,49.0 299.0,49.8 299.8,50.8 300.6,52.0 301.4,52.4 302.2,53.2 303.0,52.7 303.8,53.2 304.6,52.6 305.4,52.9 306.2,52.5 307.0,52.5 307.8,52.8 308.6,52.8 309.4,52.4 310.2,52.9 311.0,52.5 311.8,52.6 312.6,52.6 313.4,52.6 314.2,52.1 315.0,52.5 315.8,50.9 316.6,48.6 317.4,46.3 318.2,44.3 319.0,42.5 319.8,41.3 320.6,40.8 321.4,42.0 322.2,44.2 323.0,46.8 323.8,48.2 324.6,50.2 325.4,52.4 326.2,53.7 327.0,54.3 327.8,54.2 328.6,54.1 329.4,54.2 330.2,54.4 331.0,54.5 331.8,54.6 332.6,54.7 333.4,54.7 334.2,54.7 335.0,54.5 335.8,54.2 336.6,54.6 337.4,54.5 338.2,54.6 339.0,54.6 339.8,54.4 340.6,54.3 341.4,54.2 342.2,53.9 343.0,53.4 343.8,53.4 344.6,53.2 345.4,53.3 346.2,54.0 347.0,55.0 347.8,54.9 348.6,55.2 349.4,54.2 350.2,53.1 351.0,51.7 351.8,51.3 352.6,49.9 353.4,48.8 354.2,47.6 355.0,46.5 355.8,45.0 356.6,43.4 357.4,42.0 358.2,39.7 359.0,37.5 359.8,34.9 360.6,31.5 361.4,27.9 362.2,24.1 363.0,21.3 363.8,17.5 364.6,14.7 365.4,12.9 366.2,13.9 367.0,15.6 367.8,17.6 368.6,20.2 369.4,24.1 370.2,25.9 371.0,25.2 371.8,23.8 372.6,22.0 373.4,21.0 374.2,21.1 375.0,22.6 375.8,24.2 376.6,24.6 377.4,24.6 378.2,24.9 379.0,25.0 379.8,24.9 380.6,27.0 381.4,30.5 382.2,33.8 383.0,36.5 383.8,39.4 384.6,41.9 385.4,44.2 386.2,46.4 387.0,47.6 387.8,49.0 388.6,49.9 389.4,51.0 390.2,50.3 391.0,48.8 391.8,47.4 392.6,46.3 393.4,45.6 394.2,46.2 395.0,47.1 395.8,48.2 396.6,48.2 397.4,48.2 398.2,48.1 399.0,48.2 399.8,48.6 400.6,49.4 401.4,51.2 402.2,52.5 403.0,54.2 403.8,54.8 404.6,55.6 405.4,55.9 406.2,56.6 407.0,57.4 407.8,57.7 408.6,57.4 409.4,57.6 410.2,57.3 411.0,57.3 411.8,57.3 412.6,57.6 413.4,57.5 414.2,56.8 415.0,54.8 415.8,52.0 416.6,48.4 417.4,44.5 418.2,40.8 419.0,35.5 419.8,31.7 420.6,29.3 421.4,27.2 422.2,26.3 423.0,27.8 423.8,30.3 424.6,33.8 425.4,36.9 426.2,41.9 427.0,45.7 427.8,49.4 428.6,51.4 429.4,53.4 430.2,55.3 431.0,56.4 431.8,56.7 432.6,56.9 433.4,56.4 434.2,56.3 435.0,55.7 435.8,55.6 436.6,55.0 437.4,54.1 438.2,53.6 439.0,53.2 439.8,53.3 440.6,53.9 441.4,54.5 442.2,55.3 443.0,56.3 443.8,56.2 444.6,56.5 445.4,56.8 446.2,55.8 447.0,56.1 447.8,56.1 448.6,55.4 449.4,56.0 450.2,54.5 451.0,54.8 451.8,54.2 452.6,53.6 453.4,52.9 454.2,52.9 455.0,52.8 455.8,53.6 456.6,53.8 457.4,54.7 458.2,55.6 459.0,55.8 459.8,56.5 460.6,57.1 461.4,57.4 462.2,58.4 463.0,58.8 463.8,58.9 464.6,59.6 465.4,60.0 466.2,60.6 467.0,61.2 467.8,61.5 468.6,62.3 469.4,62.2 470.2,62.6 471.0,62.4 471.8,62.5 472.6,62.1 473.4,62.0 474.2,61.8 475.0,62.0 475.8,61.9 476.6,62.0 477.4,61.7 478.2,61.4 479.0,61.2 479.8,61.1 480.6,60.9 481.4,61.0 482.2,60.8 483.0,60.4 483.8,60.4 484.6,60.8 485.4,60.8 486.2,60.9 487.0,61.3 487.8,61.2 488.6,61.3 489.4,61.3 490.2,61.0" fill="none" stroke="#1f7630" stroke-width="1.6" stroke-linejoin="round"/>
<polyline points="276.6,53.9 277.4,54.0 278.2,54.7 279.0,55.2 279.8,56.0 280.6,56.4 281.4,57.1 282.2,57.4 283.0,58.4 283.8,58.8 284.6,59.5 285.4,59.8 286.2,60.0 287.0,60.6 287.8,60.5 288.6,60.6 289.4,60.5 290.2,60.1 291.0,59.8 291.8,59.2 292.6,58.1 293.4,58.1 294.2,57.7 295.0,57.9 295.8,58.3 296.6,58.6 297.4,59.5 298.2,60.9 299.0,61.4 299.8,61.7 300.6,62.4 301.4,62.4 302.2,62.2 303.0,62.2 303.8,62.5 304.6,62.9 305.4,62.9 306.2,63.0 307.0,63.2 307.8,63.3 308.6,62.8 309.4,63.2 310.2,63.1 311.0,63.1 311.8,63.3 312.6,63.4 313.4,63.3 314.2,63.1 315.0,63.2 315.8,62.8 316.6,60.7 317.4,58.8 318.2,57.4 319.0,56.0 319.8,55.0 320.6,54.5 321.4,55.7 322.2,56.7 323.0,58.4 323.8,60.4 324.6,62.3 325.4,63.8 326.2,64.5 327.0,64.7 327.8,65.2 328.6,65.3 329.4,65.8 330.2,65.5 331.0,65.7 331.8,66.3 332.6,66.0 333.4,66.2 334.2,66.3 335.0,65.9 335.8,65.4 336.6,65.1 337.4,63.6 338.2,63.4 339.0,62.9 339.8,61.7 340.6,61.0 341.4,60.7 342.2,60.6 343.0,59.7 343.8,59.8 344.6,59.5 345.4,59.6 346.2,59.7 347.0,60.2 347.8,60.6 348.6,61.2 349.4,61.5 350.2,61.5 351.0,61.2 351.8,60.2 352.6,58.7 353.4,57.9 354.2,56.3 355.0,54.8 355.8,54.0 356.6,52.2 357.4,50.9 358.2,49.1 359.0,47.3 359.8,45.1 360.6,42.6 361.4,40.2 362.2,38.3 363.0,34.6 363.8,33.2 364.6,33.7 365.4,34.9 366.2,36.9 367.0,40.0 367.8,42.0 368.6,46.1 369.4,47.3 370.2,46.2 371.0,44.5 371.8,42.6 372.6,41.7 373.4,42.1 374.2,43.6 375.0,45.0 375.8,45.5 376.6,45.0 377.4,44.0 378.2,43.5 379.0,43.5 379.8,44.3 380.6,46.4 381.4,48.8 382.2,51.2 383.0,54.2 383.8,57.3 384.6,59.8 385.4,61.9 386.2,62.1 387.0,63.2 387.8,63.1 388.6,63.2 389.4,63.1 390.2,62.4 391.0,62.1 391.8,61.1 392.6,60.5 393.4,59.5 394.2,60.4 395.0,60.5 395.8,61.2 396.6,61.0 397.4,61.7 398.2,61.5 399.0,61.6 399.8,61.3 400.6,61.4 401.4,63.1 402.2,64.8 403.0,66.4 403.8,67.6 404.6,68.0 405.4,68.0 406.2,67.9 407.0,68.1 407.8,68.7 408.6,68.5 409.4,68.3 410.2,68.0 411.0,67.9 411.8,67.7 412.6,67.2 413.4,66.8 414.2,66.9 415.0,65.9 415.8,65.0 416.6,62.3 417.4,58.4 418.2,54.1 419.0,50.2 419.8,45.9 420.6,42.0 421.4,39.5 422.2,39.9 423.0,43.2 423.8,47.1 424.6,51.5 425.4,54.4 426.2,58.7 427.0,62.8 427.8,65.1 428.6,65.5 429.4,66.0 430.2,66.6 431.0,66.9 431.8,67.0 432.6,67.4 433.4,67.4 434.2,67.1 435.0,66.7 435.8,66.0 436.6,65.5 437.4,65.0 438.2,64.3 439.0,64.1 439.8,64.0 440.6,64.1 441.4,64.7 442.2,65.7 443.0,66.1 443.8,66.6 444.6,66.3 445.4,66.5 446.2,66.6 447.0,66.5 447.8,66.2 448.6,66.3 449.4,66.2 450.2,65.6 451.0,65.2 451.8,64.5 452.6,63.5 453.4,63.4 454.2,62.7 455.0,62.9 455.8,63.3 456.6,63.8 457.4,64.7 458.2,65.3 459.0,66.3 459.8,66.6 460.6,67.1 461.4,67.5 462.2,67.8 463.0,68.5 463.8,68.8 464.6,69.6 465.4,69.8 466.2,70.4 467.0,70.5 467.8,70.7 468.6,70.9 469.4,71.1 470.2,71.4 471.0,71.6 471.8,71.4 472.6,71.7 473.4,72.2 474.2,71.7 475.0,71.5 475.8,71.2 476.6,70.7 477.4,70.9 478.2,70.3 479.0,70.0 479.8,69.9 480.6,69.8 481.4,69.0 482.2,69.4 483.0,69.4 483.8,69.5 484.6,69.6 485.4,69.7 486.2,70.1 487.0,70.1 487.8,70.1 488.6,70.3 489.4,70.3 490.2,70.2" fill="none" stroke="#d42a6c" stroke-width="1.6" stroke-linejoin="round"/>
<polyline points="276.6,64.4 277.4,64.7 278.2,64.4 279.0,64.4 279.8,64.3 280.6,64.5 281.4,64.4 282.2,64.9 283.0,65.7 283.8,66.1 284.6,67.2 285.4,67.7 286.2,67.9 287.0,67.9 287.8,68.7 288.6,68.5 289.4,68.6 290.2,68.8 291.0,69.2 291.8,69.6 292.6,69.8 293.4,69.8 294.2,69.6 295.0,69.9 295.8,70.0 296.6,70.3 297.4,70.2 298.2,70.7 299.0,71.0 299.8,71.0 300.6,71.3 301.4,71.1 302.2,71.1 303.0,71.4 303.8,71.8 304.6,71.9 305.4,71.6 306.2,72.0 307.0,71.7 307.8,72.1 308.6,72.0 309.4,71.8 310.2,72.1 311.0,71.8 311.8,71.8 312.6,71.7 313.4,72.0 314.2,72.0 315.0,71.9 315.8,71.5 316.6,71.4 317.4,70.5 318.2,69.9 319.0,70.0 319.8,70.0 320.6,70.0 321.4,69.9 322.2,70.6 323.0,71.4 323.8,71.8 324.6,72.6 325.4,72.4 326.2,73.2 327.0,73.2 327.8,73.8 328.6,73.8 329.4,74.3 330.2,74.2 331.0,74.3 331.8,74.5 332.6,74.7 333.4,74.7 334.2,75.1 335.0,74.9 335.8,74.3 336.6,73.5 337.4,73.0 338.2,72.2 339.0,71.9 339.8,71.0 340.6,70.2 341.4,69.1 342.2,67.8 343.0,67.1 343.8,66.4 344.6,66.3 345.4,66.1 346.2,65.8 347.0,65.8 347.8,66.4 348.6,67.1 349.4,68.9 350.2,70.7 351.0,71.5 351.8,71.6 352.6,71.6 353.4,71.7 354.2,70.7 355.0,70.8 355.8,70.6 356.6,70.4 357.4,70.2 358.2,70.0 359.0,70.1 359.8,69.6 360.6,69.4 361.4,68.7 362.2,67.5 363.0,66.2 363.8,65.8 364.6,65.9 365.4,66.9 366.2,68.2 367.0,69.3 367.8,70.2 368.6,70.3 369.4,70.5 370.2,70.3 371.0,70.2 371.8,70.4 372.6,70.4 373.4,69.9 374.2,70.5 375.0,70.2 375.8,70.2 376.6,70.6 377.4,70.5 378.2,70.6 379.0,71.4 379.8,71.0 380.6,71.5 381.4,72.0 382.2,72.1 383.0,73.0 383.8,73.8 384.6,75.0 385.4,75.1 386.2,76.0 387.0,76.7 387.8,76.9 388.6,76.8 389.4,77.1 390.2,77.0 391.0,77.0 391.8,77.1 392.6,77.0 393.4,76.9 394.2,76.8 395.0,76.5 395.8,76.7 396.6,76.8 397.4,76.7 398.2,76.9 399.0,76.9 399.8,77.6 400.6,77.9 401.4,77.6 402.2,78.0 403.0,78.1 403.8,78.5 404.6,78.5 405.4,78.5 406.2,78.5 407.0,78.5 407.8,78.1 408.6,78.3 409.4,77.8 410.2,77.8 411.0,77.4 411.8,77.2 412.6,76.6 413.4,76.4 414.2,75.6 415.0,75.4 415.8,74.8 416.6,73.9 417.4,72.6 418.2,71.3 419.0,69.2 419.8,68.3 420.6,66.9 421.4,66.9 422.2,66.4 423.0,67.6 423.8,69.0 424.6,71.4 425.4,72.4 426.2,73.9 427.0,74.6 427.8,75.1 428.6,76.2 429.4,77.1 430.2,77.4 431.0,77.9 431.8,77.7 432.6,77.7 433.4,77.4 434.2,77.4 435.0,77.4 435.8,76.8 436.6,76.5 437.4,76.1 438.2,75.9 439.0,76.2 439.8,75.7 440.6,75.8 441.4,76.1 442.2,76.1 443.0,76.8 443.8,76.1 444.6,76.8 445.4,76.9 446.2,76.7 447.0,76.8 447.8,76.8 448.6,76.8 449.4,75.8 450.2,75.2 451.0,75.2 451.8,74.8 452.6,74.0 453.4,73.3 454.2,73.9 455.0,73.6 455.8,74.0 456.6,74.1 457.4,74.3 458.2,74.7 459.0,75.5 459.8,75.9 460.6,75.6 461.4,76.3 462.2,77.2 463.0,77.1 463.8,77.2 464.6,77.9 465.4,78.3 466.2,78.7 467.0,79.0 467.8,79.3 468.6,79.5 469.4,79.8 470.2,79.6 471.0,79.7 471.8,79.7 472.6,79.9 473.4,79.7 474.2,79.4 475.0,79.4 475.8,79.3 476.6,79.3 477.4,79.0 478.2,79.1 479.0,78.7 479.8,78.0 480.6,77.4 481.4,77.2 482.2,76.7 483.0,76.4 483.8,76.0 484.6,76.2 485.4,77.2 486.2,78.1 487.0,78.8 487.8,79.1 488.6,79.9 489.4,79.7 490.2,79.9" fill="none" stroke="#761a24" stroke-width="1.6" stroke-linejoin="round"/>
<polyline points="276.6,75.0 277.4,74.3 278.2,73.9 279.0,73.1 279.8,72.9 280.6,72.1 281.4,71.7 282.2,71.0 283.0,70.7 283.8,70.8 284.6,71.7 285.4,73.6 286.2,75.1 287.0,76.6 287.8,77.0 288.6,76.9 289.4,77.2 290.2,77.3 291.0,77.3 291.8,77.6 292.6,77.9 293.4,77.6 294.2,77.7 295.0,77.5 295.8,78.3 296.6,78.7 297.4,78.8 298.2,79.7 299.0,80.2 299.8,80.3 300.6,80.6 301.4,80.6 302.2,81.0 303.0,80.7 303.8,81.0 304.6,81.5 305.4,81.2 306.2,81.4 307.0,81.4 307.8,81.2 308.6,81.5 309.4,81.6 310.2,81.4 311.0,81.7 311.8,81.9 312.6,81.9 313.4,81.4 314.2,81.5 315.0,81.4 315.8,81.9 316.6,81.8 317.4,81.8 318.2,81.5 319.0,81.5 319.8,81.7 320.6,81.7 321.4,81.6 322.2,81.8 323.0,82.0 323.8,82.1 324.6,81.9 325.4,81.9 326.2,82.4 327.0,82.7 327.8,82.7 328.6,82.9 329.4,83.0 330.2,83.4 331.0,83.4 331.8,83.5 332.6,83.4 333.4,83.5 334.2,83.6 335.0,83.0 335.8,82.3 336.6,81.6 337.4,80.9 338.2,79.5 339.0,78.5 339.8,75.9 340.6,73.6 341.4,72.7 342.2,73.4 343.0,74.8 343.8,75.8 344.6,77.1 345.4,77.9 346.2,78.4 347.0,78.9 347.8,79.5 348.6,80.0 349.4,80.4 350.2,80.8 351.0,81.2 351.8,81.5 352.6,82.2 353.4,82.6 354.2,83.5 355.0,83.3 355.8,83.9 356.6,84.6 357.4,84.1 358.2,84.1 359.0,84.4 359.8,84.7 360.6,84.5 361.4,84.7 362.2,84.6 363.0,84.6 363.8,85.3 364.6,84.8 365.4,84.7 366.2,84.7 367.0,85.0 367.8,85.0 368.6,85.2 369.4,85.1 370.2,84.9 371.0,85.4 371.8,85.4 372.6,85.5 373.4,85.4 374.2,85.7 375.0,85.8 375.8,86.0 376.6,85.9 377.4,86.3 378.2,86.5 379.0,86.4 379.8,86.7 380.6,86.8 381.4,87.3 382.2,86.8 383.0,87.5 383.8,87.5 384.6,88.0 385.4,88.5 386.2,88.5 387.0,88.8 387.8,88.7 388.6,89.3 389.4,89.1 390.2,89.1 391.0,88.6 391.8,88.6 392.6,89.1 393.4,88.8 394.2,88.7 395.0,88.8 395.8,88.5 396.6,88.8 397.4,88.6 398.2,88.7 399.0,88.4 399.8,88.6 400.6,88.3 401.4,88.6 402.2,88.6 403.0,88.5 403.8,88.3 404.6,88.2 405.4,87.4 406.2,88.0 407.0,87.7 407.8,87.7 408.6,87.5 409.4,87.1 410.2,87.1 411.0,87.3 411.8,87.3 412.6,86.7 413.4,86.4 414.2,86.7 415.0,86.0 415.8,86.3 416.6,85.6 417.4,85.2 418.2,85.4 419.0,85.3 419.8,84.5 420.6,85.0 421.4,84.6 422.2,85.1 423.0,85.0 423.8,85.1 424.6,85.9 425.4,86.4 426.2,87.1 427.0,87.4 427.8,87.5 428.6,87.4 429.4,87.4 430.2,87.4 431.0,87.3 431.8,87.3 432.6,86.8 433.4,87.2 434.2,87.1 435.0,87.5 435.8,87.1 436.6,86.8 437.4,86.9 438.2,86.4 439.0,86.4 439.8,86.1 440.6,86.6 441.4,86.4 442.2,85.9 443.0,86.1 443.8,86.2 444.6,86.1 445.4,86.1 446.2,85.9 447.0,86.2 447.8,86.6 448.6,87.0 449.4,86.9 450.2,87.1 451.0,87.7 451.8,87.3 452.6,87.6 453.4,87.1 454.2,86.7 455.0,86.3 455.8,85.4 456.6,84.7 457.4,83.6 458.2,83.1 459.0,82.8 459.8,82.7 460.6,82.5 461.4,82.8 462.2,82.9 463.0,83.6 463.8,84.6 464.6,85.3 465.4,86.0 466.2,86.3 467.0,87.1 467.8,87.0 468.6,87.7 469.4,87.6 470.2,88.4 471.0,88.2 471.8,88.7 472.6,88.4 473.4,88.7 474.2,89.0 475.0,88.5 475.8,88.3 476.6,87.8 477.4,87.0 478.2,87.0 479.0,86.5 479.8,85.8 480.6,85.8 481.4,85.4 482.2,85.3 483.0,85.6 483.8,85.7 484.6,86.5 485.4,86.1 486.2,86.8 487.0,87.1 487.8,86.7 488.6,86.8 489.4,87.3 490.2,87.1" fill="none" stroke="#1b1b74" stroke-width="1.6" stroke-linejoin="round"/>
<polyline points="276.6,83.3 277.4,82.4 278.2,81.3 279.0,80.6 279.8,79.8 280.6,80.2 281.4,79.8 282.2,80.0 283.0,79.9 283.8,79.8 284.6,81.3 285.4,82.5 286.2,83.9 287.0,84.9 287.8,86.1 288.6,86.5 289.4,86.4 290.2,86.1 291.0,86.1 291.8,85.8 292.6,85.6 293.4,85.2 294.2,85.5 295.0,85.4 295.8,85.4 296.6,86.7 297.4,87.9 298.2,89.1 299.0,89.9 299.8,90.8 300.6,91.2 301.4,91.7 302.2,91.6 303.0,91.8 303.8,91.9 304.6,92.3 305.4,92.2 306.2,92.1 307.0,92.6 307.8,92.5 308.6,92.8 309.4,92.9 310.2,93.1 311.0,93.1 311.8,92.9 312.6,93.0 313.4,92.9 314.2,93.5 315.0,93.3 315.8,93.6 316.6,93.3 317.4,93.0 318.2,93.8 319.0,93.5 319.8,93.6 320.6,93.7 321.4,93.8 322.2,93.8 323.0,93.5 323.8,94.0 324.6,93.8 325.4,93.8 326.2,94.3 327.0,94.1 327.8,93.9 328.6,93.6 329.4,94.0 330.2,94.1 331.0,93.9 331.8,93.5 332.6,93.3 333.4,92.8 334.2,92.6 335.0,92.2 335.8,91.6 336.6,90.5 337.4,89.9 338.2,88.5 339.0,85.1 339.8,81.9 340.6,80.9 341.4,81.0 342.2,82.3 343.0,83.7 343.8,85.5 344.6,86.9 345.4,88.5 346.2,89.8 347.0,91.1 347.8,92.0 348.6,92.9 349.4,93.6 350.2,94.0 351.0,94.4 351.8,94.4 352.6,93.8 353.4,93.9 354.2,93.7 355.0,94.2 355.8,95.2 356.6,95.9 357.4,96.7 358.2,97.7 359.0,97.6 359.8,97.6 360.6,97.8 361.4,97.9 362.2,97.5 363.0,97.9 363.8,97.7 364.6,97.6 365.4,97.7 366.2,97.2 367.0,97.2 367.8,97.0 368.6,96.8 369.4,96.2 370.2,95.9 371.0,95.8 371.8,95.6 372.6,95.3 373.4,95.4 374.2,95.2 375.0,95.4 375.8,95.9 376.6,96.2 377.4,96.7 378.2,97.6 379.0,97.7 379.8,98.0 380.6,98.6 381.4,99.1 382.2,99.1 383.0,99.6 383.8,99.5 384.6,99.7 385.4,99.9 386.2,100.2 387.0,100.8 387.8,100.2 388.6,100.8 389.4,100.3 390.2,100.4 391.0,100.6 391.8,100.4 392.6,100.3 393.4,99.8 394.2,100.1 395.0,99.7 395.8,100.3 396.6,99.7 397.4,99.7 398.2,99.3 399.0,99.4 399.8,99.2 400.6,99.7 401.4,99.5 402.2,99.7 403.0,99.5 403.8,99.5 404.6,100.0 405.4,99.6 406.2,99.5 407.0,100.0 407.8,99.7 408.6,99.9 409.4,100.2 410.2,99.9 411.0,100.3 411.8,100.0 412.6,100.4 413.4,100.3 414.2,99.9 415.0,99.9 415.8,99.8 416.6,99.9 417.4,100.0 418.2,99.5 419.0,99.9 419.8,99.4 420.6,99.4 421.4,99.2 422.2,99.9 423.0,99.5 423.8,99.6 424.6,99.4 425.4,99.9 426.2,99.4 427.0,100.0 427.8,100.6 428.6,100.3 429.4,100.6 430.2,100.9 431.0,100.8 431.8,101.2 432.6,101.5 433.4,101.5 434.2,101.6 435.0,101.5 435.8,101.7 436.6,101.5 437.4,101.6 438.2,101.3 439.0,100.8 439.8,100.1 440.6,100.5 441.4,100.2 442.2,99.6 443.0,99.2 443.8,99.2 444.6,99.5 445.4,99.1 446.2,99.2 447.0,99.3 447.8,99.5 448.6,99.3 449.4,99.3 450.2,99.2 451.0,99.6 451.8,99.5 452.6,99.3 453.4,98.9 454.2,98.5 455.0,98.1 455.8,96.9 456.6,96.3 457.4,95.1 458.2,94.2 459.0,93.4 459.8,92.8 460.6,92.2 461.4,92.4 462.2,93.4 463.0,93.4 463.8,94.4 464.6,95.7 465.4,96.5 466.2,97.3 467.0,98.1 467.8,99.2 468.6,99.7 469.4,100.3 470.2,100.4 471.0,101.0 471.8,100.9 472.6,101.4 473.4,101.4 474.2,101.6 475.0,101.7 475.8,101.5 476.6,100.8 477.4,100.9 478.2,100.2 479.0,99.7 479.8,99.4 480.6,98.7 481.4,98.5 482.2,98.2 483.0,97.8 483.8,97.7 484.6,97.3 485.4,97.3 486.2,97.2 487.0,98.1 487.8,98.6 488.6,99.1 489.4,99.3 490.2,99.3" fill="none" stroke="#808024" stroke-width="1.6" stroke-linejoin="round"/>
<polyline points="276.6,94.1 277.4,92.7 278.2,91.8 279.0,91.1 279.8,90.4 280.6,90.0 281.4,89.8 282.2,89.5 283.0,89.3 283.8,89.1 284.6,89.9 285.4,91.3 286.2,93.1 287.0,94.7 287.8,95.8 288.6,96.2 289.4,96.2 290.2,95.7 291.0,95.2 291.8,94.6 292.6,93.9 293.4,93.4 294.2,93.5 295.0,93.7 295.8,94.2 296.6,95.2 297.4,97.0 298.2,97.7 299.0,99.0 299.8,100.0 300.6,100.3 301.4,100.8 302.2,101.3 303.0,101.2 303.8,101.3 304.6,101.4 305.4,101.4 306.2,101.6 307.0,101.5 307.8,101.5 308.6,101.7 309.4,101.9 310.2,101.8 311.0,102.0 311.8,101.5 312.6,102.2 313.4,102.5 314.2,102.4 315.0,102.2 315.8,102.2 316.6,102.6 317.4,102.4 318.2,102.9 319.0,102.8 319.8,103.3 320.6,103.5 321.4,103.0 322.2,103.6 323.0,103.5 323.8,103.5 324.6,103.7 325.4,103.9 326.2,104.2 327.0,103.8 327.8,104.3 328.6,104.5 329.4,104.1 330.2,104.0 331.0,103.6 331.8,103.1 332.6,103.1 333.4,102.6 334.2,102.2 335.0,102.0 335.8,101.0 336.6,100.3 337.4,99.9 338.2,98.2 339.0,96.1 339.8,93.6 340.6,91.2 341.4,90.2 342.2,90.4 343.0,92.4 343.8,94.5 344.6,96.4 345.4,97.6 346.2,98.7 347.0,99.5 347.8,99.8 348.6,100.6 349.4,101.2 350.2,101.6 351.0,102.3 351.8,102.7 352.6,102.7 353.4,103.2 354.2,103.5 355.0,104.1 355.8,104.2 356.6,104.9 357.4,105.1 358.2,105.5 359.0,105.5 359.8,105.4 360.6,106.2 361.4,105.9 362.2,106.2 363.0,105.9 363.8,105.9 364.6,105.9 365.4,105.5 366.2,105.5 367.0,104.7 367.8,105.0 368.6,104.6 369.4,104.4 370.2,104.3 371.0,104.2 371.8,104.4 372.6,103.6 373.4,104.0 374.2,104.0 375.0,104.6 375.8,104.7 376.6,105.3 377.4,105.6 378.2,106.2 379.0,106.7 379.8,106.8 380.6,107.2 381.4,107.0 382.2,107.5 383.0,107.8 383.8,107.6 384.6,108.1 385.4,107.6 386.2,107.8 387.0,107.9 387.8,108.2 388.6,108.4 389.4,108.5 390.2,108.5 391.0,108.7 391.8,108.5 392.6,108.3 393.4,108.3 394.2,108.9 395.0,108.0 395.8,108.3 396.6,108.5 397.4,108.1 398.2,107.7 399.0,107.8 399.8,107.8 400.6,107.7 401.4,107.2 402.2,107.4 403.0,107.3 403.8,107.4 404.6,107.5 405.4,107.1 406.2,106.9 407.0,107.3 407.8,107.6 408.6,107.3 409.4,107.2 410.2,107.7 411.0,107.0 411.8,107.4 412.6,107.1 413.4,107.2 414.2,107.2 415.0,107.5 415.8,107.0 416.6,107.0 417.4,106.7 418.2,106.9 419.0,106.6 419.8,106.5 420.6,106.0 421.4,106.0 422.2,106.2 423.0,105.9 423.8,106.1 424.6,106.2 425.4,106.3 426.2,106.4 427.0,107.3 427.8,107.6 428.6,108.2 429.4,108.1 430.2,108.6 431.0,108.9 431.8,109.4 432.6,110.0 433.4,110.0 434.2,109.9 435.0,109.9 435.8,109.9 436.6,109.6 437.4,109.7 438.2,109.5 439.0,108.9 439.8,109.1 440.6,109.2 441.4,108.7 442.2,108.6 443.0,108.3 443.8,108.2 444.6,108.3 445.4,107.9 446.2,107.6 447.0,107.0 447.8,107.3 448.6,106.8 449.4,106.7 450.2,107.0 451.0,106.7 451.8,105.9 452.6,106.2 453.4,105.8 454.2,105.0 455.0,104.6 455.8,103.4 456.6,102.8 457.4,102.0 458.2,101.5 459.0,101.4 459.8,100.6 460.6,100.6 461.4,100.8 462.2,101.5 463.0,102.1 463.8,103.1 464.6,103.7 465.4,104.5 466.2,105.5 467.0,106.3 467.8,106.6 468.6,107.2 469.4,107.8 470.2,107.6 471.0,108.0 471.8,108.5 472.6,108.3 473.4,108.5 474.2,108.6 475.0,108.9 475.8,109.0 476.6,108.8 477.4,108.6 478.2,108.5 479.0,108.0 479.8,107.1 480.6,106.9 481.4,106.4 482.2,106.0 483.0,105.4 483.8,104.9 484.6,104.7 485.4,104.3 486.2,104.9 487.0,105.3 487.8,106.2 488.6,106.3 489.4,106.5 490.2,106.4" fill="none" stroke="#d826d8" stroke-width="1.6" stroke-linejoin="round"/>
<polyline points="276.6,103.9 277.4,103.9 278.2,103.4 279.0,103.4 279.8,103.0 280.6,103.2 281.4,102.8 282.2,103.0 283.0,103.0 283.8,103.5 284.6,105.1 285.4,107.1 286.2,108.8 287.0,108.9 287.8,109.0 288.6,109.0 289.4,108.9 290.2,108.8 291.0,109.0 291.8,108.8 292.6,109.0 293.4,109.1 294.2,109.1 295.0,108.9 295.8,109.0 296.6,109.7 297.4,110.2 298.2,111.0 299.0,111.2 299.8,111.6 300.6,111.9 301.4,111.5 302.2,111.0 303.0,110.6 303.8,110.2 304.6,110.0 305.4,110.0 306.2,109.9 307.0,110.3 307.8,110.3 308.6,110.5 309.4,110.6 310.2,110.9 311.0,111.0 311.8,111.3 312.6,111.7 313.4,111.7 314.2,111.4 315.0,111.7 315.8,111.7 316.6,112.0 317.4,112.4 318.2,112.5 319.0,112.4 319.8,112.7 320.6,112.6 321.4,112.6 322.2,112.7 323.0,113.0 323.8,113.5 324.6,113.1 325.4,113.7 326.2,113.8 327.0,113.5 327.8,113.6 328.6,113.5 329.4,113.7 330.2,113.8 331.0,113.6 331.8,113.7 332.6,113.5 333.4,113.1 334.2,112.8 335.0,112.4 335.8,112.0 336.6,111.3 337.4,111.1 338.2,110.2 339.0,108.1 339.8,106.3 340.6,103.6 341.4,102.6 342.2,102.9 343.0,103.2 343.8,104.6 344.6,105.6 345.4,106.9 346.2,107.9 347.0,108.4 347.8,109.0 348.6,109.3 349.4,109.7 350.2,109.9 351.0,110.0 351.8,110.6 352.6,110.6 353.4,111.0 354.2,112.0 355.0,112.5 355.8,113.0 356.6,113.7 357.4,114.1 358.2,113.8 359.0,114.1 359.8,114.0 360.6,114.3 361.4,114.2 362.2,114.7 363.0,114.6 363.8,114.3 364.6,114.5 365.4,114.3 366.2,114.6 367.0,114.8 367.8,114.8 368.6,114.4 369.4,114.8 370.2,115.1 371.0,115.2 371.8,115.6 372.6,115.3 373.4,115.9 374.2,115.9 375.0,116.3 375.8,116.6 376.6,116.9 377.4,116.9 378.2,117.3 379.0,117.2 379.8,117.3 380.6,117.9 381.4,117.8 382.2,117.6 383.0,117.9 383.8,118.2 384.6,118.6 385.4,118.6 386.2,118.6 387.0,118.2 387.8,118.6 388.6,118.7 389.4,118.8 390.2,118.8 391.0,118.7 391.8,119.1 392.6,119.1 393.4,118.8 394.2,118.6 395.0,119.1 395.8,118.6 396.6,118.9 397.4,119.0 398.2,118.4 399.0,118.5 399.8,118.4 400.6,118.5 401.4,118.3 402.2,118.6 403.0,118.2 403.8,118.0 404.6,118.2 405.4,117.8 406.2,117.7 407.0,118.1 407.8,117.4 408.6,117.3 409.4,117.2 410.2,116.8 411.0,116.5 411.8,116.9 412.6,116.4 413.4,116.2 414.2,116.1 415.0,115.8 415.8,115.6 416.6,115.7 417.4,115.9 418.2,115.4 419.0,115.2 419.8,114.6 420.6,114.7 421.4,114.4 422.2,114.7 423.0,114.6 423.8,114.9 424.6,115.2 425.4,115.6 426.2,116.0 427.0,117.0 427.8,117.2 428.6,117.9 429.4,118.6 430.2,119.1 431.0,119.8 431.8,120.3 432.6,120.4 433.4,120.5 434.2,120.5 435.0,120.5 435.8,119.8 436.6,120.0 437.4,119.4 438.2,119.0 439.0,118.9 439.8,118.5 440.6,118.3 441.4,118.0 442.2,117.0 443.0,117.1 443.8,117.3 444.6,116.9 445.4,116.8 446.2,116.4 447.0,116.0 447.8,116.0 448.6,116.3 449.4,116.3 450.2,115.9 451.0,115.9 451.8,115.9 452.6,115.4 453.4,115.4 454.2,115.5 455.0,115.1 455.8,114.1 456.6,113.9 457.4,112.9 458.2,112.3 459.0,111.7 459.8,112.0 460.6,111.7 461.4,112.4 462.2,112.3 463.0,112.8 463.8,112.9 464.6,114.2 465.4,114.5 466.2,115.2 467.0,115.4 467.8,116.6 468.6,117.0 469.4,117.2 470.2,117.8 471.0,118.3 471.8,118.9 472.6,119.2 473.4,119.9 474.2,119.8 475.0,119.9 475.8,120.0 476.6,119.5 477.4,119.6 478.2,119.7 479.0,119.1 479.8,118.3 480.6,118.0 481.4,117.0 482.2,116.8 483.0,116.5 483.8,116.2 484.6,115.6 485.4,115.9 486.2,116.3 487.0,116.3 487.8,117.2 488.6,117.2 489.4,117.2 490.2,117.7" fill="none" stroke="#237a7c" stroke-width="1.6" stroke-linejoin="round"/>
<polyline points="276.6,117.6 277.4,117.2 278.2,116.6 279.0,116.5 279.8,116.5 280.6,116.6 281.4,116.2 282.2,115.9 283.0,116.5 283.8,117.2 284.6,118.8 285.4,120.2 286.2,121.7 287.0,121.4 287.8,121.5 288.6,121.0 289.4,121.3 290.2,121.3 291.0,121.4 291.8,121.5 292.6,121.2 293.4,121.7 294.2,121.2 295.0,121.4 295.8,121.9 296.6,122.2 297.4,123.3 298.2,124.0 299.0,124.5 299.8,125.4 300.6,125.3 301.4,125.3 302.2,125.0 303.0,124.8 303.8,124.9 304.6,124.9 305.4,124.7 306.2,124.9 307.0,124.2 307.8,124.4 308.6,124.2 309.4,124.8 310.2,124.4 311.0,124.4 311.8,124.3 312.6,124.6 313.4,124.3 314.2,124.4 315.0,123.8 315.8,124.1 316.6,123.4 317.4,122.8 318.2,122.3 319.0,121.6 319.8,121.4 320.6,121.7 321.4,122.0 322.2,122.6 323.0,123.5 323.8,124.2 324.6,125.3 325.4,126.0 326.2,126.3 327.0,127.1 327.8,126.8 328.6,127.4 329.4,128.1 330.2,127.9 331.0,127.8 331.8,128.5 332.6,128.3 333.4,127.8 334.2,128.0 335.0,127.4 335.8,127.0 336.6,126.8 337.4,126.4 338.2,125.8 339.0,125.6 339.8,125.0 340.6,124.6 341.4,123.8 342.2,123.0 343.0,121.8 343.8,120.8 344.6,120.0 345.4,119.7 346.2,119.8 347.0,119.9 347.8,120.6 348.6,122.1 349.4,123.1 350.2,124.6 351.0,124.9 351.8,125.1 352.6,125.0 353.4,124.7 354.2,124.7 355.0,124.2 355.8,124.2 356.6,124.0 357.4,124.0 358.2,122.5 359.0,121.5 359.8,120.4 360.6,120.0 361.4,118.8 362.2,118.1 363.0,117.7 363.8,117.0 364.6,117.7 365.4,118.6 366.2,119.6 367.0,121.0 367.8,121.9 368.6,122.3 369.4,122.9 370.2,123.0 371.0,123.1 371.8,123.2 372.6,123.1 373.4,123.4 374.2,123.1 375.0,123.6 375.8,124.1 376.6,124.3 377.4,124.2 378.2,124.5 379.0,125.1 379.8,125.5 380.6,125.1 381.4,125.6 382.2,126.0 383.0,126.6 383.8,126.5 384.6,127.1 385.4,127.3 386.2,128.1 387.0,128.0 387.8,128.1 388.6,128.2 389.4,128.7 390.2,128.7 391.0,128.5 391.8,128.9 392.6,128.8 393.4,129.0 394.2,129.0 395.0,129.1 395.8,129.3 396.6,129.4 397.4,129.7 398.2,129.9 399.0,129.7 399.8,129.6 400.6,130.0 401.4,129.4 402.2,129.5 403.0,130.0 403.8,130.0 404.6,130.1 405.4,129.9 406.2,129.7 407.0,129.9 407.8,130.1 408.6,129.8 409.4,129.8 410.2,129.7 411.0,129.8 411.8,130.2 412.6,129.9 413.4,129.3 414.2,128.8 415.0,128.3 415.8,127.9 416.6,126.9 417.4,126.4 418.2,124.9 419.0,123.8 419.8,123.0 420.6,122.1 421.4,121.1 422.2,121.1 423.0,122.4 423.8,123.8 424.6,125.5 425.4,127.1 426.2,128.3 427.0,129.6 427.8,130.3 428.6,130.6 429.4,131.3 430.2,131.8 431.0,132.0 431.8,132.5 432.6,133.1 433.4,132.7 434.2,133.1 435.0,132.8 435.8,132.5 436.6,132.2 437.4,131.8 438.2,131.4 439.0,130.6 439.8,130.1 440.6,129.6 441.4,129.6 442.2,129.0 443.0,128.3 443.8,128.2 444.6,128.1 445.4,128.2 446.2,128.4 447.0,129.1 447.8,128.6 448.6,129.5 449.4,129.7 450.2,129.8 451.0,130.2 451.8,130.3 452.6,130.5 453.4,130.6 454.2,129.9 455.0,130.1 455.8,129.3 456.6,129.2 457.4,128.5 458.2,128.3 459.0,127.7 459.8,127.6 460.6,127.3 461.4,127.3 462.2,128.2 463.0,129.0 463.8,130.2 464.6,130.3 465.4,131.4 466.2,132.2 467.0,132.1 467.8,132.6 468.6,133.3 469.4,133.5 470.2,133.2 471.0,133.9 471.8,134.0 472.6,134.1 473.4,134.1 474.2,134.0 475.0,133.7 475.8,133.6 476.6,133.5 477.4,133.1 478.2,133.1 479.0,132.3 479.8,131.6 480.6,131.8 481.4,131.8 482.2,131.8 483.0,131.7 483.8,131.5 484.6,131.9 485.4,131.5 486.2,131.8 487.0,131.5 487.8,131.4 488.6,131.9 489.4,131.1 490.2,131.4" fill="none" stroke="#2222c4" stroke-width="1.6" stroke-linejoin="round"/>
<polyline points="276.6,134.2 277.4,133.3 278.2,133.0 279.0,132.4 279.8,132.1 280.6,132.5 281.4,131.9 282.2,131.8 283.0,131.6 283.8,131.7 284.6,132.3 285.4,133.0 286.2,133.8 287.0,134.7 287.8,136.0 288.6,136.4 289.4,137.1 290.2,137.2 291.0,137.1 291.8,137.3 292.6,137.0 293.4,137.0 294.2,137.4 295.0,137.2 295.8,137.2 296.6,137.0 297.4,137.3 298.2,137.4 299.0,137.7 299.8,138.1 300.6,137.8 301.4,138.2 302.2,138.3 303.0,137.9 303.8,138.5 304.6,139.1 305.4,139.5 306.2,139.6 307.0,140.3 307.8,140.6 308.6,140.6 309.4,141.2 310.2,141.4 311.0,141.3 311.8,141.0 312.6,141.1 313.4,140.3 314.2,139.6 315.0,139.0 315.8,138.0 316.6,137.6 317.4,136.8 318.2,135.9 319.0,134.8 319.8,133.9 320.6,133.9 321.4,134.7 322.2,135.3 323.0,137.0 323.8,137.4 324.6,138.4 325.4,139.9 326.2,140.9 327.0,141.4 327.8,141.8 328.6,142.3 329.4,142.8 330.2,143.0 331.0,143.0 331.8,143.3 332.6,143.3 333.4,143.1 334.2,141.9 335.0,141.8 335.8,141.3 336.6,140.8 337.4,140.5 338.2,140.3 339.0,139.9 339.8,139.5 340.6,139.3 341.4,139.4 342.2,138.6 343.0,138.5 343.8,138.4 344.6,137.6 345.4,136.4 346.2,136.3 347.0,135.7 347.8,135.8 348.6,136.7 349.4,137.8 350.2,138.7 351.0,139.7 351.8,139.6 352.6,139.1 353.4,138.5 354.2,137.6 355.0,136.6 355.8,135.6 356.6,134.6 357.4,133.2 358.2,131.8 359.0,130.9 359.8,129.2 360.6,127.7 361.4,126.1 362.2,124.7 363.0,123.7 363.8,122.9 364.6,122.3 365.4,123.0 366.2,124.1 367.0,126.4 367.8,127.4 368.6,128.4 369.4,129.5 370.2,129.8 371.0,129.7 371.8,129.5 372.6,128.5 373.4,128.4 374.2,128.3 375.0,129.4 375.8,130.3 376.6,131.4 377.4,132.0 378.2,131.9 379.0,132.6 379.8,132.5 380.6,133.0 381.4,134.2 382.2,136.5 383.0,137.8 383.8,139.0 384.6,140.0 385.4,140.9 386.2,142.2 387.0,142.6 387.8,143.3 388.6,142.8 389.4,142.2 390.2,142.6 391.0,142.0 391.8,141.8 392.6,142.0 393.4,141.5 394.2,141.9 395.0,141.8 395.8,141.8 396.6,142.3 397.4,142.3 398.2,143.0 399.0,143.2 399.8,143.4 400.6,143.9 401.4,144.3 402.2,144.6 403.0,145.2 403.8,145.1 404.6,145.3 405.4,145.0 406.2,145.2 407.0,145.2 407.8,144.9 408.6,144.9 409.4,144.8 410.2,145.0 411.0,144.6 411.8,144.7 412.6,144.5 413.4,143.6 414.2,142.3 415.0,141.6 415.8,140.7 416.6,139.1 417.4,137.8 418.2,135.3 419.0,132.9 419.8,131.2 420.6,129.8 421.4,128.9 422.2,128.8 423.0,130.0 423.8,132.1 424.6,134.4 425.4,136.8 426.2,139.6 427.0,141.8 427.8,143.4 428.6,144.3 429.4,145.1 430.2,145.5 431.0,145.8 431.8,145.9 432.6,146.4 433.4,146.4 434.2,146.1 435.0,146.5 435.8,146.2 436.6,146.5 437.4,145.6 438.2,145.0 439.0,144.4 439.8,143.7 440.6,143.2 441.4,143.0 442.2,142.4 443.0,142.4 443.8,142.6 444.6,142.6 445.4,143.7 446.2,144.1 447.0,144.7 447.8,144.7 448.6,145.2 449.4,144.9 450.2,144.4 451.0,144.6 451.8,143.8 452.6,143.1 453.4,142.8 454.2,142.6 455.0,142.5 455.8,142.3 456.6,142.5 457.4,142.7 458.2,142.4 459.0,142.7 459.8,142.9 460.6,143.4 461.4,144.0 462.2,144.5 463.0,144.9 463.8,145.9 464.6,146.9 465.4,147.1 466.2,147.5 467.0,147.9 467.8,147.8 468.6,148.5 469.4,148.7 470.2,148.9 471.0,148.8 471.8,149.0 472.6,149.1 473.4,149.3 474.2,149.3 475.0,149.2 475.8,149.4 476.6,149.2 477.4,148.5 478.2,148.3 479.0,148.6 479.8,148.0 480.6,148.2 481.4,148.1 482.2,147.6 483.0,147.6 483.8,147.6 484.6,147.3 485.4,147.2 486.2,147.3 487.0,147.5 487.8,147.2 488.6,147.3 489.4,147.2 490.2,147.0" fill="none" stroke="#da2c32" stroke-width="1.6" stroke-linejoin="round"/>
<polyline points="276.6,163.8 277.4,161.5 278.2,160.6 279.0,160.1 279.8,159.1 280.6,159.1 281.4,159.1 282.2,159.3 283.0,161.0 283.8,162.4 284.6,164.4 285.4,166.6 286.2,168.4 287.0,169.0 287.8,168.2 288.6,167.4 289.4,166.2 290.2,164.3 291.0,162.8 291.8,161.4 292.6,160.4 293.4,161.5 294.2,162.6 295.0,164.2 295.8,165.4 296.6,166.7 297.4,167.8 298.2,168.7 299.0,169.7 299.8,170.0 300.6,171.1 301.4,170.8 302.2,170.8 303.0,171.2 303.8,171.3 304.6,171.7 305.4,171.5 306.2,171.9 307.0,171.8 307.8,172.5 308.6,172.4 309.4,172.8 310.2,172.3 311.0,172.8 311.8,172.5 312.6,172.7 313.4,172.0 314.2,170.3 315.0,168.8 315.8,167.0 316.6,165.0 317.4,162.7 318.2,159.3 319.0,156.6 319.8,156.7 320.6,158.1 321.4,159.8 322.2,162.0 323.0,164.6 323.8,167.6 324.6,170.0 325.4,171.5 326.2,171.9 327.0,172.2 327.8,172.3 328.6,173.0 329.4,173.0 330.2,172.6 331.0,172.6 331.8,172.9 332.6,172.4 333.4,172.5 334.2,172.4 335.0,172.1 335.8,172.1 336.6,171.7 337.4,171.8 338.2,171.4 339.0,172.1 339.8,171.7 340.6,171.5 341.4,171.1 342.2,171.1 343.0,171.1 343.8,171.0 344.6,171.2 345.4,171.2 346.2,171.9 347.0,172.2 347.8,172.5 348.6,172.7 349.4,172.7 350.2,172.0 351.0,170.5 351.8,169.9 352.6,168.4 353.4,166.6 354.2,165.6 355.0,164.8 355.8,164.2 356.6,162.9 357.4,161.4 358.2,158.9 359.0,154.1 359.8,149.9 360.6,144.2 361.4,138.7 362.2,135.5 363.0,132.6 363.8,131.1 364.6,131.4 365.4,133.5 366.2,136.8 367.0,139.7 367.8,141.6 368.6,141.6 369.4,140.8 370.2,139.8 371.0,139.0 371.8,138.7 372.6,139.0 373.4,140.0 374.2,141.9 375.0,143.6 375.8,144.9 376.6,145.2 377.4,145.4 378.2,145.7 379.0,146.3 379.8,146.6 380.6,148.7 381.4,151.1 382.2,153.4 383.0,155.8 383.8,158.3 384.6,160.9 385.4,163.5 386.2,165.2 387.0,166.5 387.8,166.3 388.6,165.7 389.4,164.7 390.2,162.7 391.0,162.4 391.8,161.4 392.6,161.8 393.4,161.9 394.2,162.5 395.0,163.3 395.8,163.2 396.6,164.0 397.4,164.5 398.2,164.7 399.0,165.9 399.8,166.5 400.6,167.7 401.4,169.3 402.2,171.9 403.0,172.6 403.8,173.0 404.6,173.5 405.4,174.0 406.2,174.2 407.0,174.6 407.8,174.6 408.6,175.1 409.4,175.0 410.2,174.9 411.0,175.0 411.8,175.0 412.6,174.9 413.4,174.0 414.2,172.7 415.0,171.4 415.8,169.9 416.6,167.6 417.4,162.4 418.2,157.4 419.0,152.7 419.8,146.8 420.6,142.7 421.4,142.0 422.2,143.3 423.0,145.8 423.8,150.0 424.6,156.4 425.4,162.0 426.2,166.7 427.0,170.2 427.8,170.9 428.6,172.4 429.4,173.5 430.2,174.1 431.0,174.8 431.8,175.0 432.6,175.1 433.4,174.9 434.2,173.9 435.0,173.2 435.8,172.2 436.6,171.3 437.4,170.7 438.2,170.2 439.0,170.6 439.8,171.0 440.6,171.4 441.4,171.7 442.2,171.8 443.0,172.8 443.8,172.9 444.6,173.5 445.4,174.2 446.2,173.9 447.0,174.4 447.8,174.1 448.6,173.5 449.4,172.7 450.2,172.2 451.0,171.2 451.8,170.8 452.6,170.2 453.4,169.4 454.2,169.5 455.0,169.9 455.8,170.4 456.6,171.2 457.4,172.3 458.2,173.2 459.0,173.8 459.8,174.8 460.6,175.6 461.4,175.9 462.2,176.5 463.0,177.6 463.8,178.0 464.6,177.8 465.4,178.1 466.2,178.8 467.0,178.8 467.8,179.2 468.6,179.4 469.4,179.9 470.2,179.4 471.0,179.7 471.8,180.0 472.6,180.5 473.4,180.4 474.2,180.0 475.0,180.4 475.8,180.3 476.6,180.0 477.4,179.8 478.2,179.7 479.0,179.6 479.8,179.2 480.6,179.1 481.4,178.8 482.2,178.6 483.0,178.4 483.8,178.5 484.6,178.2 485.4,178.1 486.2,178.3 487.0,178.2 487.8,178.6 488.6,178.7 489.4,179.3 490.2,179.1" fill="none" stroke="#111111" stroke-width="1.6" stroke-linejoin="round"/>
<polyline points="16.2,239.1 17.0,239.3 17.8,239.9 18.6,239.9 19.4,239.7 20.2,239.7 21.0,240.0 21.8,239.9 22.6,240.3 23.4,239.6 24.2,239.5 25.0,239.7 25.8,239.6 26.6,239.3 27.4,238.9 28.2,238.7 29.0,237.7 29.8,237.3 30.6,237.0 31.4,237.7 32.2,238.4 33.0,238.9 33.8,239.9 34.6,240.3 35.4,240.9 36.2,240.9 37.0,240.8 37.8,241.1 38.6,241.0 39.4,241.2 40.2,241.7 41.0,241.9 41.8,242.2 42.6,241.9 43.4,241.9 44.2,241.8 45.0,242.2 45.8,242.1 46.6,241.8 47.4,242.0 48.2,241.9 49.0,241.3 49.8,241.7 50.6,241.4 51.4,241.2 52.2,240.9 53.0,240.9 53.8,240.3 54.6,239.8 55.4,238.7 56.2,238.6 57.0,239.0 57.8,238.9 58.6,239.7 59.4,240.2 60.2,241.7 61.0,242.2 61.8,242.5 62.6,242.6 63.4,242.5 64.2,242.6 65.0,242.9 65.8,242.7 66.6,243.2 67.4,242.9 68.2,242.8 69.0,243.3 69.8,243.0 70.6,243.2 71.4,243.0 72.2,242.6 73.0,243.2 73.8,242.8 74.6,243.2 75.4,242.6 76.2,242.4 77.0,242.8 77.8,242.6 78.6,242.4 79.4,242.0 80.2,242.2 81.0,241.5 81.8,241.3 82.6,240.3 83.4,238.9 84.2,237.4 85.0,235.4 85.8,234.2 86.6,232.7 87.4,231.6 88.2,232.5 89.0,234.2 89.8,235.9 90.6,237.5 91.4,238.7 92.2,240.7 93.0,241.3 93.8,241.1 94.6,240.8 95.4,240.9 96.2,240.7 97.0,240.7 97.8,240.4 98.6,240.4 99.4,240.0 100.2,240.1 101.0,239.2 101.8,239.3 102.6,239.4 103.4,239.0 104.2,239.5 105.0,239.3 105.8,239.8 106.6,239.9 107.4,240.2 108.2,240.5 109.0,240.5 109.8,240.5 110.6,241.0 111.4,240.6 112.2,240.4 113.0,240.8 113.8,240.8 114.6,241.0 115.4,241.4 116.2,241.1 117.0,241.8 117.8,242.1 118.6,242.3 119.4,242.6 120.2,242.3 121.0,243.0 121.8,243.8 122.6,243.4 123.4,243.9 124.2,244.4 125.0,244.8 125.8,245.3 126.6,244.8 127.4,245.3 128.2,245.6 129.0,245.1 129.8,245.4 130.6,245.8 131.4,245.7 132.2,245.5 133.0,244.9 133.8,245.4 134.6,245.5 135.4,245.3 136.2,245.4 137.0,246.0 137.8,245.4 138.6,245.2 139.4,245.4 140.2,245.3 141.0,245.3 141.8,245.4 142.6,245.5 143.4,245.4 144.2,245.0 145.0,245.2 145.8,245.2 146.6,245.0 147.4,245.3 148.2,245.1 149.0,244.7 149.8,244.9 150.6,245.1 151.4,244.9 152.2,244.4 153.0,244.5 153.8,244.1 154.6,243.8 155.4,244.0 156.2,243.8 157.0,243.7 157.8,243.4 158.6,243.2 159.4,242.8 160.2,242.8 161.0,242.8 161.8,242.5 162.6,242.7 163.4,242.5 164.2,243.2 165.0,244.3 165.8,244.9 166.6,245.0 167.4,245.2 168.2,245.3 169.0,245.9 169.8,246.3 170.6,246.0 171.4,246.5 172.2,246.5 173.0,246.4 173.8,245.9 174.6,246.0 175.4,245.3 176.2,245.6 177.0,245.1 177.8,244.5 178.6,244.6 179.4,244.1 180.2,243.0 181.0,242.9 181.8,241.5 182.6,241.2 183.4,241.0 184.2,240.1 185.0,241.0 185.8,241.1 186.6,241.7 187.4,242.1 188.2,243.0 189.0,243.3 189.8,244.1 190.6,244.9 191.4,245.4 192.2,246.2 193.0,245.7 193.8,245.9 194.6,246.1 195.4,246.2 196.2,246.4 197.0,246.5 197.8,246.3 198.6,246.3 199.4,246.5 200.2,246.7 201.0,246.7 201.8,246.5 202.6,246.3 203.4,247.2 204.2,247.0 205.0,246.9 205.8,247.0 206.6,246.8 207.4,246.8 208.2,246.9 209.0,247.0 209.8,246.9 210.6,246.8 211.4,247.1 212.2,247.3 213.0,247.1 213.8,247.2 214.6,246.8 215.4,247.2 216.2,247.3 217.0,247.1 217.8,247.0 218.6,247.4 219.4,247.1 220.2,247.4 221.0,247.2 221.8,247.3 222.6,247.1 223.4,246.8 224.2,247.1 225.0,247.0 225.8,247.2 226.6,246.9 227.4,246.9 228.2,247.2 229.0,247.2 229.8,247.2" fill="none" stroke="#1f7630" stroke-width="1.6" stroke-linejoin="round"/>
<polyline points="16.2,254.3 17.0,251.8 17.8,249.7 18.6,248.0 19.4,246.4 20.2,244.9 21.0,243.9 21.8,244.0 22.6,244.1 23.4,245.5 24.2,247.3 25.0,249.2 25.8,251.9 26.6,254.3 27.4,255.6 28.2,255.8 29.0,254.6 29.8,253.9 30.6,252.5 31.4,251.6 32.2,250.8 33.0,250.3 33.8,250.7 34.6,251.9 35.4,253.7 36.2,255.6 37.0,256.4 37.8,257.4 38.6,258.0 39.4,258.6 40.2,258.9 41.0,259.4 41.8,259.6 42.6,259.9 43.4,259.9 44.2,260.4 45.0,260.8 45.8,260.6 46.6,260.7 47.4,260.5 48.2,261.0 49.0,260.6 49.8,260.9 50.6,260.8 51.4,260.6 52.2,261.0 53.0,260.7 53.8,260.3 54.6,259.7 55.4,258.9 56.2,258.5 57.0,258.6 57.8,258.6 58.6,259.0 59.4,259.3 60.2,259.5 61.0,260.1 61.8,260.5 62.6,260.9 63.4,261.5 64.2,261.3 65.0,262.0 65.8,261.9 66.6,262.4 67.4,262.7 68.2,262.3 69.0,262.4 69.8,262.8 70.6,262.7 71.4,262.5 72.2,262.3 73.0,262.7 73.8,262.1 74.6,261.8 75.4,262.1 76.2,261.7 77.0,261.3 77.8,261.4 78.6,260.9 79.4,260.6 80.2,260.0 81.0,259.1 81.8,258.8 82.6,257.9 83.4,256.5 84.2,255.0 85.0,253.7 85.8,252.4 86.6,252.3 87.4,253.3 88.2,254.8 89.0,256.2 89.8,257.9 90.6,258.5 91.4,258.9 92.2,259.4 93.0,259.4 93.8,259.8 94.6,260.1 95.4,259.8 96.2,260.2 97.0,260.0 97.8,259.5 98.6,259.3 99.4,258.6 100.2,257.7 101.0,257.6 101.8,257.0 102.6,256.6 103.4,256.2 104.2,256.3 105.0,256.3 105.8,256.6 106.6,257.8 107.4,258.6 108.2,258.7 109.0,258.5 109.8,257.6 110.6,256.3 111.4,255.2 112.2,254.3 113.0,253.9 113.8,253.9 114.6,254.5 115.4,255.5 116.2,256.5 117.0,256.9 117.8,257.8 118.6,258.3 119.4,258.8 120.2,259.2 121.0,259.7 121.8,260.3 122.6,260.5 123.4,261.2 124.2,261.5 125.0,261.9 125.8,262.2 126.6,262.6 127.4,262.6 128.2,262.8 129.0,262.5 129.8,262.2 130.6,262.0 131.4,262.4 132.2,261.4 133.0,261.5 133.8,261.3 134.6,260.7 135.4,260.9 136.2,260.9 137.0,260.8 137.8,261.4 138.6,261.4 139.4,261.7 140.2,262.4 141.0,262.7 141.8,262.9 142.6,263.1 143.4,264.0 144.2,263.7 145.0,264.0 145.8,264.1 146.6,264.4 147.4,264.5 148.2,264.5 149.0,264.4 149.8,264.4 150.6,264.5 151.4,264.7 152.2,264.9 153.0,264.5 153.8,264.5 154.6,264.0 155.4,263.6 156.2,263.0 157.0,262.9 157.8,261.6 158.6,260.9 159.4,260.2 160.2,259.0 161.0,258.6 161.8,258.3 162.6,258.5 163.4,259.2 164.2,260.0 165.0,261.0 165.8,261.8 166.6,261.8 167.4,262.5 168.2,263.2 169.0,263.5 169.8,263.5 170.6,263.7 171.4,263.6 172.2,263.5 173.0,262.9 173.8,262.9 174.6,262.4 175.4,262.6 176.2,262.0 177.0,261.8 177.8,261.5 178.6,261.1 179.4,260.6 180.2,260.0 181.0,260.3 181.8,259.6 182.6,259.4 183.4,259.7 184.2,259.4 185.0,259.9 185.8,260.1 186.6,260.8 187.4,261.0 188.2,261.2 189.0,261.2 189.8,261.2 190.6,261.2 191.4,260.4 192.2,260.6 193.0,260.5 193.8,260.4 194.6,260.2 195.4,260.9 196.2,260.9 197.0,261.3 197.8,261.7 198.6,261.8 199.4,262.5 200.2,262.6 201.0,263.1 201.8,263.5 202.6,263.8 203.4,263.9 204.2,264.1 205.0,264.7 205.8,264.5 206.6,264.3 207.4,264.6 208.2,264.7 209.0,264.9 209.8,264.9 210.6,264.9 211.4,265.4 212.2,265.1 213.0,265.0 213.8,264.9 214.6,264.8 215.4,265.0 216.2,264.6 217.0,264.6 217.8,263.6 218.6,264.1 219.4,264.1 220.2,264.2 221.0,263.7 221.8,263.4 222.6,263.9 223.4,263.7 224.2,263.6 225.0,264.0 225.8,264.5 226.6,264.7 227.4,264.7 228.2,264.5 229.0,265.2 229.8,264.5" fill="none" stroke="#d42a6c" stroke-width="1.6" stroke-linejoin="round"/>
<polyline points="16.2,280.1 17.0,279.1 17.8,277.8 18.6,275.2 19.4,272.0 20.2,266.6 21.0,261.0 21.8,256.5 22.6,251.6 23.4,250.4 24.2,252.9 25.0,257.2 25.8,262.7 26.6,270.1 27.4,276.1 28.2,278.4 29.0,280.3 29.8,281.0 30.6,279.5 31.4,276.2 32.2,273.0 33.0,270.6 33.8,268.7 34.6,268.5 35.4,269.7 36.2,271.7 37.0,273.9 37.8,276.4 38.6,279.3 39.4,281.9 40.2,282.8 41.0,284.2 41.8,284.4 42.6,285.5 43.4,285.8 44.2,286.5 45.0,286.6 45.8,286.6 46.6,287.1 47.4,286.9 48.2,286.9 49.0,286.9 49.8,287.1 50.6,287.1 51.4,287.0 52.2,286.6 53.0,286.8 53.8,286.9 54.6,287.3 55.4,286.7 56.2,286.1 57.0,285.6 57.8,284.4 58.6,283.6 59.4,283.0 60.2,282.2 61.0,282.6 61.8,283.0 62.6,283.7 63.4,284.6 64.2,286.0 65.0,287.2 65.8,287.5 66.6,287.8 67.4,288.4 68.2,288.3 69.0,288.5 69.8,289.1 70.6,289.3 71.4,289.5 72.2,289.6 73.0,289.8 73.8,289.8 74.6,289.5 75.4,289.0 76.2,288.5 77.0,287.7 77.8,286.7 78.6,285.7 79.4,284.1 80.2,283.9 81.0,283.6 81.8,283.7 82.6,283.7 83.4,285.0 84.2,285.6 85.0,286.3 85.8,287.4 86.6,288.0 87.4,288.6 88.2,289.6 89.0,290.1 89.8,290.2 90.6,290.3 91.4,290.1 92.2,289.5 93.0,289.3 93.8,288.1 94.6,287.8 95.4,286.7 96.2,285.4 97.0,284.7 97.8,284.1 98.6,282.9 99.4,281.5 100.2,280.5 101.0,279.6 101.8,277.8 102.6,277.2 103.4,276.3 104.2,275.9 105.0,276.0 105.8,276.6 106.6,277.9 107.4,278.8 108.2,279.4 109.0,280.4 109.8,279.5 110.6,278.1 111.4,275.4 112.2,272.8 113.0,270.2 113.8,269.0 114.6,268.7 115.4,269.6 116.2,270.5 117.0,272.1 117.8,272.9 118.6,274.6 119.4,275.5 120.2,276.7 121.0,277.7 121.8,279.2 122.6,280.0 123.4,281.3 124.2,282.9 125.0,283.9 125.8,286.0 126.6,287.0 127.4,288.2 128.2,288.8 129.0,288.9 129.8,288.5 130.6,288.0 131.4,287.4 132.2,287.0 133.0,286.3 133.8,285.7 134.6,285.0 135.4,284.5 136.2,284.1 137.0,284.6 137.8,284.8 138.6,284.8 139.4,285.3 140.2,285.8 141.0,285.9 141.8,286.7 142.6,287.5 143.4,288.3 144.2,289.8 145.0,290.9 145.8,291.8 146.6,291.8 147.4,292.2 148.2,292.4 149.0,292.9 149.8,293.1 150.6,293.5 151.4,293.6 152.2,293.6 153.0,293.6 153.8,293.6 154.6,293.2 155.4,292.6 156.2,290.7 157.0,290.0 157.8,289.0 158.6,287.9 159.4,285.8 160.2,284.5 161.0,283.3 161.8,282.4 162.6,282.3 163.4,283.6 164.2,285.0 165.0,287.0 165.8,288.2 166.6,289.8 167.4,290.5 168.2,290.8 169.0,291.3 169.8,291.6 170.6,292.2 171.4,292.7 172.2,292.5 173.0,292.9 173.8,292.5 174.6,292.5 175.4,292.5 176.2,291.3 177.0,291.3 177.8,290.8 178.6,289.8 179.4,289.8 180.2,290.0 181.0,290.5 181.8,290.4 182.6,290.6 183.4,291.0 184.2,291.2 185.0,291.4 185.8,291.6 186.6,292.0 187.4,291.8 188.2,292.4 189.0,292.0 189.8,291.6 190.6,291.2 191.4,290.2 192.2,288.7 193.0,288.5 193.8,287.9 194.6,288.1 195.4,288.5 196.2,288.4 197.0,288.8 197.8,288.9 198.6,289.6 199.4,289.5 200.2,289.5 201.0,289.7 201.8,290.1 202.6,290.6 203.4,290.9 204.2,291.4 205.0,291.6 205.8,291.9 206.6,292.2 207.4,292.4 208.2,292.8 209.0,293.1 209.8,293.4 210.6,293.4 211.4,293.4 212.2,293.8 213.0,294.3 213.8,293.9 214.6,294.4 215.4,294.7 216.2,294.5 217.0,294.4 217.8,294.9 218.6,294.8 219.4,294.5 220.2,294.7 221.0,294.7 221.8,294.1 222.6,294.8 223.4,294.1 224.2,294.1 225.0,293.9 225.8,294.1 226.6,293.8 227.4,294.0 228.2,294.2 229.0,294.1 229.8,294.0" fill="none" stroke="#761a24" stroke-width="1.6" stroke-linejoin="round"/>
<polyline points="16.2,292.0 17.0,288.3 17.8,285.7 18.6,282.8 19.4,280.2 20.2,277.4 21.0,275.2 21.8,274.3 22.6,274.6 23.4,275.8 24.2,277.5 25.0,280.6 25.8,284.6 26.6,287.7 27.4,289.1 28.2,290.5 29.0,291.4 29.8,291.7 30.6,290.9 31.4,289.2 32.2,286.7 33.0,284.5 33.8,284.4 34.6,284.7 35.4,286.2 36.2,287.7 37.0,289.6 37.8,290.4 38.6,291.9 39.4,292.9 40.2,293.7 41.0,294.3 41.8,295.0 42.6,295.2 43.4,295.6 44.2,296.0 45.0,295.9 45.8,296.1 46.6,296.1 47.4,296.3 48.2,296.3 49.0,296.3 49.8,296.9 50.6,296.1 51.4,296.5 52.2,296.4 53.0,296.1 53.8,295.5 54.6,295.4 55.4,295.0 56.2,294.5 57.0,294.4 57.8,293.8 58.6,293.3 59.4,293.2 60.2,292.5 61.0,292.9 61.8,293.4 62.6,294.9 63.4,296.3 64.2,297.6 65.0,298.2 65.8,298.4 66.6,298.5 67.4,298.9 68.2,299.1 69.0,299.3 69.8,299.1 70.6,299.3 71.4,299.0 72.2,298.9 73.0,299.2 73.8,299.3 74.6,298.9 75.4,298.4 76.2,298.2 77.0,297.1 77.8,296.0 78.6,295.9 79.4,294.7 80.2,294.0 81.0,293.8 81.8,293.5 82.6,294.8 83.4,295.4 84.2,296.8 85.0,298.1 85.8,298.4 86.6,299.1 87.4,298.7 88.2,299.0 89.0,299.4 89.8,299.5 90.6,299.7 91.4,299.6 92.2,299.7 93.0,298.8 93.8,298.3 94.6,297.7 95.4,296.7 96.2,295.9 97.0,295.1 97.8,294.4 98.6,293.5 99.4,292.8 100.2,291.7 101.0,291.2 101.8,290.0 102.6,290.0 103.4,289.4 104.2,289.0 105.0,288.8 105.8,289.2 106.6,290.2 107.4,290.8 108.2,291.4 109.0,291.5 109.8,291.6 110.6,289.7 111.4,287.7 112.2,285.0 113.0,283.1 113.8,282.2 114.6,282.0 115.4,282.6 116.2,283.8 117.0,284.9 117.8,286.4 118.6,286.9 119.4,288.6 120.2,289.7 121.0,290.5 121.8,291.8 122.6,293.3 123.4,294.0 124.2,295.0 125.0,296.3 125.8,297.2 126.6,298.3 127.4,298.8 128.2,299.4 129.0,299.6 129.8,299.3 130.6,298.5 131.4,298.6 132.2,298.1 133.0,297.4 133.8,297.5 134.6,296.5 135.4,297.0 136.2,296.4 137.0,296.9 137.8,296.8 138.6,296.8 139.4,297.5 140.2,298.0 141.0,298.5 141.8,299.1 142.6,299.4 143.4,300.4 144.2,301.2 145.0,301.7 145.8,302.0 146.6,302.4 147.4,303.0 148.2,303.3 149.0,303.2 149.8,303.4 150.6,304.1 151.4,303.7 152.2,304.1 153.0,304.0 153.8,303.8 154.6,303.9 155.4,303.3 156.2,302.9 157.0,302.2 157.8,300.9 158.6,300.0 159.4,298.6 160.2,296.9 161.0,295.8 161.8,296.0 162.6,296.5 163.4,298.1 164.2,299.6 165.0,300.7 165.8,301.3 166.6,302.2 167.4,302.7 168.2,302.4 169.0,302.2 169.8,302.4 170.6,302.1 171.4,302.2 172.2,302.5 173.0,302.6 173.8,302.1 174.6,301.7 175.4,302.0 176.2,301.3 177.0,301.5 177.8,301.8 178.6,301.5 179.4,300.9 180.2,300.7 181.0,301.0 181.8,300.7 182.6,300.5 183.4,300.7 184.2,300.5 185.0,300.2 185.8,300.8 186.6,300.6 187.4,300.5 188.2,300.5 189.0,300.9 189.8,300.8 190.6,301.1 191.4,301.0 192.2,301.3 193.0,301.1 193.8,301.2 194.6,301.0 195.4,301.4 196.2,301.9 197.0,302.5 197.8,301.9 198.6,302.1 199.4,302.5 200.2,302.7 201.0,302.7 201.8,303.0 202.6,302.8 203.4,303.2 204.2,303.6 205.0,303.9 205.8,303.7 206.6,303.8 207.4,304.1 208.2,304.4 209.0,304.4 209.8,304.2 210.6,304.5 211.4,304.7 212.2,304.3 213.0,304.2 213.8,304.5 214.6,304.4 215.4,304.4 216.2,304.1 217.0,303.8 217.8,303.8 218.6,303.5 219.4,303.4 220.2,303.4 221.0,303.4 221.8,303.7 222.6,303.3 223.4,303.7 224.2,303.9 225.0,304.6 225.8,304.6 226.6,304.8 227.4,305.2 228.2,305.3 229.0,305.2 229.8,305.6" fill="none" stroke="#1b1b74" stroke-width="1.6" stroke-linejoin="round"/>
<polyline points="16.2,303.6 17.0,303.5 17.8,303.1 18.6,302.8 19.4,302.6 20.2,302.3 21.0,302.6 21.8,302.5 22.6,302.9 23.4,303.4 24.2,304.0 25.0,304.7 25.8,305.7 26.6,306.0 27.4,305.6 28.2,305.3 29.0,304.9 29.8,303.9 30.6,303.6 31.4,303.3 32.2,303.8 33.0,304.0 33.8,304.3 34.6,304.6 35.4,305.4 36.2,306.1 37.0,306.3 37.8,306.5 38.6,306.9 39.4,306.8 40.2,307.2 41.0,307.6 41.8,307.5 42.6,307.6 43.4,308.0 44.2,308.1 45.0,308.1 45.8,308.3 46.6,308.3 47.4,308.1 48.2,308.1 49.0,308.1 49.8,308.1 50.6,307.9 51.4,307.3 52.2,307.4 53.0,307.1 53.8,306.7 54.6,306.7 55.4,306.6 56.2,306.8 57.0,306.2 57.8,306.7 58.6,306.8 59.4,307.1 60.2,307.7 61.0,308.0 61.8,308.0 62.6,308.5 63.4,308.8 64.2,308.6 65.0,309.1 65.8,309.0 66.6,309.1 67.4,309.2 68.2,309.5 69.0,309.2 69.8,309.1 70.6,309.6 71.4,309.2 72.2,309.2 73.0,309.0 73.8,309.5 74.6,309.3 75.4,309.2 76.2,308.9 77.0,308.5 77.8,308.1 78.6,307.6 79.4,307.4 80.2,306.9 81.0,306.7 81.8,305.7 82.6,305.2 83.4,304.4 84.2,303.9 85.0,302.5 85.8,302.0 86.6,301.7 87.4,301.6 88.2,302.6 89.0,303.3 89.8,304.9 90.6,305.5 91.4,306.5 92.2,307.1 93.0,307.4 93.8,308.2 94.6,308.4 95.4,308.6 96.2,308.9 97.0,308.9 97.8,309.3 98.6,309.8 99.4,309.3 100.2,309.6 101.0,309.4 101.8,309.8 102.6,309.7 103.4,309.6 104.2,309.3 105.0,309.6 105.8,309.9 106.6,309.6 107.4,309.7 108.2,309.4 109.0,309.0 109.8,309.3 110.6,309.2 111.4,308.9 112.2,308.9 113.0,309.0 113.8,308.8 114.6,309.1 115.4,309.2 116.2,309.1 117.0,309.8 117.8,310.0 118.6,310.3 119.4,310.9 120.2,310.9 121.0,311.3 121.8,311.6 122.6,311.6 123.4,311.5 124.2,311.8 125.0,312.3 125.8,312.2 126.6,312.3 127.4,312.6 128.2,312.8 129.0,312.9 129.8,313.1 130.6,312.9 131.4,313.0 132.2,313.0 133.0,313.1 133.8,312.7 134.6,313.0 135.4,312.8 136.2,313.4 137.0,313.4 137.8,313.4 138.6,313.3 139.4,313.0 140.2,313.3 141.0,313.1 141.8,313.2 142.6,312.9 143.4,313.0 144.2,313.2 145.0,313.4 145.8,313.1 146.6,313.5 147.4,313.6 148.2,312.7 149.0,312.9 149.8,312.7 150.6,312.8 151.4,312.7 152.2,312.8 153.0,312.9 153.8,312.9 154.6,312.8 155.4,312.7 156.2,312.7 157.0,312.7 157.8,312.8 158.6,312.7 159.4,312.8 160.2,312.4 161.0,312.9 161.8,313.0 162.6,312.7 163.4,312.4 164.2,313.0 165.0,312.7 165.8,312.3 166.6,313.0 167.4,313.3 168.2,313.3 169.0,313.6 169.8,313.6 170.6,313.5 171.4,313.1 172.2,313.2 173.0,313.3 173.8,313.2 174.6,312.7 175.4,312.6 176.2,312.6 177.0,311.8 177.8,311.4 178.6,311.3 179.4,311.0 180.2,310.4 181.0,309.7 181.8,309.8 182.6,309.3 183.4,309.5 184.2,309.3 185.0,309.6 185.8,310.2 186.6,310.7 187.4,311.8 188.2,312.6 189.0,312.9 189.8,313.4 190.6,313.0 191.4,313.2 192.2,313.1 193.0,312.8 193.8,312.9 194.6,312.8 195.4,312.7 196.2,312.8 197.0,312.9 197.8,312.6 198.6,312.7 199.4,312.4 200.2,312.8 201.0,313.1 201.8,313.1 202.6,313.1 203.4,313.1 204.2,313.1 205.0,313.4 205.8,313.3 206.6,313.5 207.4,314.0 208.2,313.7 209.0,314.4 209.8,313.8 210.6,314.2 211.4,313.9 212.2,314.2 213.0,314.0 213.8,314.3 214.6,314.3 215.4,314.3 216.2,314.5 217.0,314.7 217.8,314.3 218.6,314.7 219.4,314.5 220.2,314.5 221.0,315.0 221.8,314.2 222.6,314.5 223.4,314.3 224.2,314.6 225.0,314.6 225.8,315.4 226.6,314.8 227.4,315.0 228.2,315.0 229.0,314.6 229.8,314.8" fill="none" stroke="#808024" stroke-width="1.6" stroke-linejoin="round"/>
<polyline points="16.2,314.4 17.0,313.9 17.8,313.8 18.6,313.7 19.4,313.2 20.2,313.3 21.0,313.6 21.8,313.6 22.6,313.5 23.4,314.1 24.2,314.7 25.0,315.3 25.8,316.0 26.6,316.0 27.4,315.9 28.2,315.3 29.0,314.9 29.8,314.7 30.6,313.8 31.4,313.7 32.2,313.2 33.0,313.0 33.8,313.3 34.6,313.4 35.4,314.0 36.2,314.8 37.0,315.7 37.8,316.9 38.6,316.4 39.4,317.0 40.2,317.1 41.0,317.5 41.8,317.4 42.6,317.1 43.4,317.9 44.2,317.5 45.0,317.8 45.8,317.6 46.6,317.7 47.4,317.9 48.2,318.2 49.0,318.2 49.8,317.7 50.6,317.7 51.4,317.1 52.2,316.8 53.0,316.4 53.8,316.0 54.6,315.4 55.4,315.2 56.2,315.1 57.0,315.2 57.8,315.3 58.6,316.4 59.4,316.6 60.2,317.5 61.0,318.0 61.8,318.6 62.6,318.1 63.4,319.1 64.2,318.8 65.0,318.8 65.8,319.2 66.6,319.8 67.4,319.5 68.2,319.3 69.0,319.5 69.8,320.0 70.6,319.5 71.4,319.8 72.2,319.8 73.0,320.3 73.8,319.8 74.6,320.1 75.4,319.6 76.2,319.4 77.0,319.5 77.8,319.1 78.6,318.3 79.4,318.4 80.2,317.9 81.0,317.2 81.8,316.8 82.6,315.6 83.4,313.7 84.2,311.8 85.0,309.9 85.8,308.5 86.6,307.5 87.4,308.0 88.2,309.3 89.0,311.7 89.8,313.5 90.6,314.2 91.4,315.2 92.2,316.0 93.0,316.4 93.8,316.3 94.6,317.1 95.4,317.0 96.2,317.0 97.0,316.9 97.8,317.0 98.6,317.3 99.4,317.1 100.2,316.9 101.0,316.9 101.8,316.9 102.6,317.1 103.4,317.4 104.2,316.8 105.0,317.0 105.8,316.9 106.6,316.9 107.4,317.2 108.2,317.3 109.0,317.1 109.8,317.3 110.6,317.9 111.4,317.8 112.2,318.0 113.0,317.9 113.8,318.0 114.6,318.2 115.4,318.1 116.2,318.0 117.0,318.3 117.8,318.6 118.6,318.2 119.4,318.7 120.2,318.7 121.0,318.5 121.8,318.8 122.6,318.9 123.4,319.2 124.2,319.4 125.0,319.4 125.8,319.7 126.6,320.6 127.4,320.6 128.2,320.9 129.0,320.9 129.8,321.1 130.6,320.6 131.4,321.0 132.2,320.6 133.0,320.9 133.8,321.1 134.6,320.5 135.4,320.9 136.2,320.7 137.0,320.7 137.8,320.8 138.6,320.6 139.4,320.6 140.2,320.9 141.0,321.0 141.8,320.6 142.6,320.4 143.4,321.1 144.2,320.8 145.0,320.6 145.8,320.3 146.6,320.3 147.4,320.4 148.2,320.0 149.0,320.5 149.8,320.1 150.6,320.1 151.4,319.7 152.2,319.7 153.0,319.6 153.8,319.7 154.6,319.5 155.4,319.4 156.2,319.4 157.0,319.3 157.8,319.4 158.6,319.0 159.4,318.8 160.2,318.9 161.0,319.2 161.8,318.8 162.6,319.2 163.4,319.5 164.2,320.2 165.0,320.7 165.8,321.0 166.6,321.5 167.4,322.0 168.2,322.0 169.0,321.9 169.8,321.9 170.6,321.5 171.4,321.4 172.2,321.6 173.0,321.0 173.8,321.1 174.6,320.6 175.4,320.7 176.2,320.5 177.0,320.1 177.8,320.0 178.6,319.4 179.4,319.0 180.2,318.6 181.0,318.1 181.8,318.2 182.6,317.5 183.4,317.5 184.2,317.1 185.0,317.5 185.8,318.1 186.6,318.9 187.4,319.6 188.2,320.4 189.0,321.3 189.8,321.2 190.6,321.2 191.4,321.1 192.2,321.7 193.0,321.5 193.8,321.3 194.6,321.3 195.4,321.1 196.2,321.2 197.0,321.2 197.8,321.2 198.6,321.0 199.4,321.1 200.2,321.4 201.0,321.4 201.8,321.0 202.6,321.6 203.4,321.9 204.2,321.7 205.0,322.0 205.8,321.8 206.6,322.4 207.4,322.1 208.2,322.2 209.0,322.5 209.8,323.1 210.6,322.6 211.4,322.5 212.2,322.9 213.0,322.8 213.8,323.1 214.6,322.5 215.4,322.5 216.2,322.7 217.0,322.9 217.8,322.9 218.6,323.0 219.4,322.5 220.2,322.6 221.0,322.8 221.8,323.0 222.6,322.9 223.4,322.7 224.2,322.6 225.0,323.0 225.8,323.0 226.6,323.3 227.4,322.8 228.2,323.1 229.0,322.6 229.8,322.7" fill="none" stroke="#d826d8" stroke-width="1.6" stroke-linejoin="round"/>
<polyline points="16.2,336.9 17.0,335.5 17.8,333.0 18.6,329.8 19.4,325.0 20.2,321.6 21.0,319.2 21.8,317.0 22.6,316.0 23.4,317.5 24.2,320.9 25.0,324.3 25.8,328.1 26.6,331.7 27.4,334.2 28.2,334.9 29.0,336.0 29.8,336.5 30.6,336.5 31.4,334.4 32.2,331.1 33.0,328.6 33.8,327.6 34.6,328.7 35.4,330.4 36.2,332.7 37.0,335.1 37.8,336.1 38.6,337.9 39.4,339.3 40.2,340.1 41.0,341.5 41.8,342.2 42.6,342.7 43.4,342.7 44.2,342.9 45.0,343.5 45.8,343.4 46.6,343.7 47.4,343.5 48.2,343.7 49.0,343.8 49.8,343.6 50.6,343.6 51.4,344.1 52.2,344.0 53.0,343.8 53.8,343.4 54.6,342.7 55.4,341.8 56.2,339.9 57.0,338.9 57.8,337.9 58.6,336.4 59.4,335.9 60.2,334.8 61.0,335.9 61.8,336.5 62.6,337.4 63.4,339.5 64.2,341.1 65.0,342.6 65.8,343.6 66.6,343.9 67.4,344.3 68.2,344.9 69.0,345.4 69.8,345.9 70.6,346.1 71.4,346.5 72.2,346.9 73.0,346.9 73.8,347.3 74.6,347.3 75.4,346.6 76.2,346.5 77.0,346.2 77.8,346.0 78.6,346.1 79.4,345.6 80.2,345.3 81.0,345.0 81.8,344.6 82.6,343.7 83.4,342.9 84.2,342.4 85.0,341.6 85.8,341.0 86.6,340.8 87.4,340.3 88.2,340.8 89.0,341.1 89.8,341.9 90.6,342.1 91.4,341.6 92.2,341.3 93.0,339.8 93.8,339.3 94.6,338.3 95.4,337.6 96.2,337.2 97.0,336.9 97.8,336.4 98.6,335.4 99.4,334.1 100.2,331.9 101.0,329.6 101.8,326.6 102.6,324.2 103.4,323.0 104.2,321.6 105.0,321.5 105.8,322.7 106.6,324.0 107.4,325.3 108.2,325.6 109.0,325.6 109.8,324.2 110.6,322.4 111.4,320.7 112.2,319.3 113.0,318.8 113.8,319.9 114.6,321.5 115.4,323.3 116.2,325.1 117.0,326.3 117.8,327.8 118.6,328.8 119.4,329.4 120.2,330.6 121.0,331.6 121.8,332.4 122.6,333.7 123.4,334.9 124.2,335.7 125.0,337.1 125.8,338.2 126.6,339.0 127.4,339.5 128.2,338.7 129.0,338.7 129.8,338.4 130.6,337.9 131.4,337.4 132.2,336.4 133.0,336.2 133.8,336.1 134.6,336.6 135.4,336.5 136.2,337.3 137.0,337.7 137.8,338.1 138.6,338.0 139.4,339.0 140.2,340.2 141.0,340.7 141.8,341.9 142.6,342.8 143.4,343.8 144.2,344.2 145.0,344.6 145.8,344.9 146.6,345.4 147.4,345.8 148.2,346.3 149.0,346.4 149.8,346.9 150.6,346.5 151.4,347.1 152.2,346.8 153.0,346.8 153.8,346.0 154.6,345.5 155.4,344.8 156.2,343.5 157.0,342.6 157.8,341.3 158.6,339.1 159.4,335.8 160.2,333.2 161.0,331.1 161.8,330.4 162.6,331.3 163.4,332.7 164.2,335.2 165.0,336.9 165.8,338.9 166.6,340.1 167.4,341.7 168.2,343.6 169.0,344.6 169.8,346.1 170.6,347.0 171.4,347.7 172.2,347.8 173.0,347.5 173.8,347.6 174.6,346.9 175.4,346.1 176.2,346.1 177.0,345.2 177.8,345.2 178.6,344.7 179.4,344.7 180.2,345.2 181.0,345.0 181.8,345.3 182.6,345.6 183.4,345.9 184.2,346.6 185.0,346.3 185.8,346.5 186.6,347.0 187.4,346.6 188.2,346.7 189.0,346.9 189.8,346.5 190.6,346.2 191.4,345.9 192.2,345.7 193.0,345.6 193.8,345.6 194.6,345.7 195.4,345.7 196.2,345.5 197.0,345.7 197.8,346.2 198.6,346.0 199.4,346.6 200.2,347.0 201.0,347.1 201.8,347.4 202.6,347.9 203.4,347.7 204.2,348.1 205.0,348.4 205.8,348.8 206.6,348.8 207.4,349.5 208.2,349.5 209.0,349.7 209.8,349.8 210.6,349.9 211.4,349.9 212.2,350.3 213.0,350.1 213.8,350.0 214.6,350.2 215.4,349.9 216.2,350.1 217.0,349.9 217.8,349.7 218.6,350.0 219.4,349.5 220.2,349.9 221.0,349.6 221.8,349.9 222.6,350.2 223.4,350.2 224.2,350.3 225.0,350.7 225.8,351.0 226.6,351.2 227.4,351.5 228.2,351.9 229.0,352.1 229.8,351.6" fill="none" stroke="#237a7c" stroke-width="1.6" stroke-linejoin="round"/>
<polyline points="16.2,353.0 17.0,351.5 17.8,349.1 18.6,346.0 19.4,342.5 20.2,338.4 21.0,334.9 21.8,331.7 22.6,329.1 23.4,330.7 24.2,334.5 25.0,338.9 25.8,342.5 26.6,347.0 27.4,350.3 28.2,351.9 29.0,352.4 29.8,352.5 30.6,352.4 31.4,350.0 32.2,345.7 33.0,341.6 33.8,340.1 34.6,341.6 35.4,344.4 36.2,347.4 37.0,350.2 37.8,351.9 38.6,352.7 39.4,354.0 40.2,355.1 41.0,355.7 41.8,355.7 42.6,356.0 43.4,355.8 44.2,356.0 45.0,356.1 45.8,356.0 46.6,356.4 47.4,356.4 48.2,356.5 49.0,356.3 49.8,356.6 50.6,356.2 51.4,356.5 52.2,355.9 53.0,356.3 53.8,356.6 54.6,356.4 55.4,355.8 56.2,353.8 57.0,352.3 57.8,349.7 58.6,347.4 59.4,345.8 60.2,345.1 61.0,345.8 61.8,347.3 62.6,349.4 63.4,352.3 64.2,355.0 65.0,356.4 65.8,357.0 66.6,357.9 67.4,358.5 68.2,359.2 69.0,359.2 69.8,359.7 70.6,360.3 71.4,360.3 72.2,360.4 73.0,360.8 73.8,360.3 74.6,360.4 75.4,360.3 76.2,360.3 77.0,360.4 77.8,360.1 78.6,360.0 79.4,360.6 80.2,360.4 81.0,360.6 81.8,360.4 82.6,360.3 83.4,360.3 84.2,360.1 85.0,359.5 85.8,359.7 86.6,358.9 87.4,358.8 88.2,358.9 89.0,358.0 89.8,357.6 90.6,356.5 91.4,356.0 92.2,355.3 93.0,354.7 93.8,353.8 94.6,353.0 95.4,352.2 96.2,350.6 97.0,349.2 97.8,347.7 98.6,345.4 99.4,343.2 100.2,341.0 101.0,338.6 101.8,334.7 102.6,330.9 103.4,328.1 104.2,328.1 105.0,328.8 105.8,330.5 106.6,333.2 107.4,335.0 108.2,335.9 109.0,334.9 109.8,333.5 110.6,330.6 111.4,328.0 112.2,325.8 113.0,325.8 113.8,326.4 114.6,328.1 115.4,329.6 116.2,331.4 117.0,333.4 117.8,334.9 118.6,336.9 119.4,338.5 120.2,340.6 121.0,342.3 121.8,344.1 122.6,345.5 123.4,346.8 124.2,348.4 125.0,349.7 125.8,351.1 126.6,352.2 127.4,352.6 128.2,353.5 129.0,353.8 129.8,353.0 130.6,352.2 131.4,351.2 132.2,350.3 133.0,349.7 133.8,350.2 134.6,350.3 135.4,350.4 136.2,350.6 137.0,350.8 137.8,351.1 138.6,351.5 139.4,351.8 140.2,352.7 141.0,353.7 141.8,355.1 142.6,356.7 143.4,357.7 144.2,358.1 145.0,359.3 145.8,359.6 146.6,361.1 147.4,361.5 148.2,362.1 149.0,362.3 149.8,362.7 150.6,363.1 151.4,363.3 152.2,363.0 153.0,362.7 153.8,362.0 154.6,361.0 155.4,359.8 156.2,358.6 157.0,358.0 157.8,356.6 158.6,355.2 159.4,352.4 160.2,348.5 161.0,344.7 161.8,343.2 162.6,344.0 163.4,345.9 164.2,348.7 165.0,351.4 165.8,353.5 166.6,356.0 167.4,358.4 168.2,360.4 169.0,361.2 169.8,361.6 170.6,361.6 171.4,362.0 172.2,362.0 173.0,361.5 173.8,361.8 174.6,361.2 175.4,361.1 176.2,360.5 177.0,360.0 177.8,359.8 178.6,359.3 179.4,359.5 180.2,359.6 181.0,359.8 181.8,360.3 182.6,360.6 183.4,361.4 184.2,361.6 185.0,362.4 185.8,362.8 186.6,363.0 187.4,362.8 188.2,363.3 189.0,362.3 189.8,362.0 190.6,361.3 191.4,361.3 192.2,360.5 193.0,360.4 193.8,359.7 194.6,359.8 195.4,359.7 196.2,360.1 197.0,360.0 197.8,360.0 198.6,360.5 199.4,360.4 200.2,360.7 201.0,361.3 201.8,361.1 202.6,361.9 203.4,361.9 204.2,362.1 205.0,362.5 205.8,362.9 206.6,362.9 207.4,363.3 208.2,363.8 209.0,364.0 209.8,364.2 210.6,364.3 211.4,364.5 212.2,364.8 213.0,365.2 213.8,365.3 214.6,365.3 215.4,365.6 216.2,365.3 217.0,365.4 217.8,365.5 218.6,365.9 219.4,365.3 220.2,365.8 221.0,365.8 221.8,365.8 222.6,366.3 223.4,366.1 224.2,366.0 225.0,365.8 225.8,366.0 226.6,365.9 227.4,366.0 228.2,366.0 229.0,365.9 229.8,366.1" fill="none" stroke="#2222c4" stroke-width="1.6" stroke-linejoin="round"/>
<polyline points="16.2,362.3 17.0,360.7 17.8,359.2 18.6,357.3 19.4,356.3 20.2,355.5 21.0,354.7 21.8,354.2 22.6,354.2 23.4,353.9 24.2,355.3 25.0,356.9 25.8,359.1 26.6,360.8 27.4,361.1 28.2,361.5 29.0,361.7 29.8,361.4 30.6,361.8 31.4,360.8 32.2,359.6 33.0,358.0 33.8,356.7 34.6,356.5 35.4,357.5 36.2,359.8 37.0,361.8 37.8,363.4 38.6,363.8 39.4,363.9 40.2,364.8 41.0,365.1 41.8,365.3 42.6,365.7 43.4,366.0 44.2,365.9 45.0,365.9 45.8,366.0 46.6,365.8 47.4,366.0 48.2,365.9 49.0,365.7 49.8,365.6 50.6,365.8 51.4,365.8 52.2,365.6 53.0,365.0 53.8,364.7 54.6,363.7 55.4,362.9 56.2,362.1 57.0,360.6 57.8,359.3 58.6,357.9 59.4,356.8 60.2,356.9 61.0,356.9 61.8,357.1 62.6,358.6 63.4,359.7 64.2,361.3 65.0,362.3 65.8,363.1 66.6,363.6 67.4,364.1 68.2,364.4 69.0,364.8 69.8,365.2 70.6,365.6 71.4,365.5 72.2,365.9 73.0,366.0 73.8,366.0 74.6,366.2 75.4,365.9 76.2,366.0 77.0,365.9 77.8,366.2 78.6,366.0 79.4,366.1 80.2,366.2 81.0,365.8 81.8,366.2 82.6,365.7 83.4,365.2 84.2,364.7 85.0,364.2 85.8,363.6 86.6,363.4 87.4,363.0 88.2,363.0 89.0,363.3 89.8,363.8 90.6,364.2 91.4,364.2 92.2,364.1 93.0,364.1 93.8,363.6 94.6,362.8 95.4,361.7 96.2,360.4 97.0,359.7 97.8,358.9 98.6,357.5 99.4,355.5 100.2,354.3 101.0,352.4 101.8,351.4 102.6,349.3 103.4,347.6 104.2,347.1 105.0,347.0 105.8,348.2 106.6,349.7 107.4,351.1 108.2,352.9 109.0,353.3 109.8,353.5 110.6,351.9 111.4,349.9 112.2,348.0 113.0,347.7 113.8,348.2 114.6,349.4 115.4,352.0 116.2,353.5 117.0,354.4 117.8,355.3 118.6,356.1 119.4,357.1 120.2,357.7 121.0,358.2 121.8,359.8 122.6,360.4 123.4,360.9 124.2,362.0 125.0,363.0 125.8,364.1 126.6,364.8 127.4,365.0 128.2,364.8 129.0,364.6 129.8,364.7 130.6,364.2 131.4,364.4 132.2,363.5 133.0,363.5 133.8,363.2 134.6,362.9 135.4,363.3 136.2,363.2 137.0,363.2 137.8,363.7 138.6,364.4 139.4,364.4 140.2,365.4 141.0,365.7 141.8,366.0 142.6,366.6 143.4,367.0 144.2,367.1 145.0,367.4 145.8,368.0 146.6,368.3 147.4,368.2 148.2,368.6 149.0,368.9 149.8,369.0 150.6,369.0 151.4,369.6 152.2,369.5 153.0,369.5 153.8,369.5 154.6,368.7 155.4,368.2 156.2,367.6 157.0,366.7 157.8,366.0 158.6,365.3 159.4,364.1 160.2,362.9 161.0,360.9 161.8,359.9 162.6,359.1 163.4,360.4 164.2,362.5 165.0,365.4 165.8,367.1 166.6,367.7 167.4,368.3 168.2,368.6 169.0,368.7 169.8,368.7 170.6,368.7 171.4,369.2 172.2,369.2 173.0,369.3 173.8,369.4 174.6,369.2 175.4,369.8 176.2,369.1 177.0,368.9 177.8,368.8 178.6,368.0 179.4,368.1 180.2,367.8 181.0,367.2 181.8,366.9 182.6,366.9 183.4,366.7 184.2,367.3 185.0,367.1 185.8,367.0 186.6,367.0 187.4,367.4 188.2,367.7 189.0,367.3 189.8,367.5 190.6,367.4 191.4,368.0 192.2,368.0 193.0,368.5 193.8,368.2 194.6,368.3 195.4,368.5 196.2,369.0 197.0,368.8 197.8,369.5 198.6,369.6 199.4,369.8 200.2,369.9 201.0,370.6 201.8,371.0 202.6,370.7 203.4,371.1 204.2,371.5 205.0,371.2 205.8,371.4 206.6,371.3 207.4,371.6 208.2,371.7 209.0,371.7 209.8,371.7 210.6,371.7 211.4,371.8 212.2,371.9 213.0,372.3 213.8,372.2 214.6,372.1 215.4,372.5 216.2,372.5 217.0,372.3 217.8,372.4 218.6,372.7 219.4,372.7 220.2,372.5 221.0,372.8 221.8,372.8 222.6,373.0 223.4,372.7 224.2,373.1 225.0,373.0 225.8,372.8 226.6,373.2 227.4,373.2 228.2,372.7 229.0,373.4 229.8,372.8" fill="none" stroke="#da2c32" stroke-width="1.6" stroke-linejoin="round"/>
<polyline points="16.2,374.0 17.0,374.2 17.8,374.4 18.6,374.5 19.4,374.4 20.2,374.8 21.0,374.8 21.8,375.1 22.6,375.6 23.4,375.3 24.2,375.1 25.0,376.0 25.8,376.3 26.6,376.9 27.4,376.9 28.2,376.0 29.0,375.0 29.8,374.2 30.6,373.6 31.4,373.1 32.2,374.5 33.0,375.3 33.8,376.2 34.6,376.6 35.4,376.5 36.2,376.8 37.0,377.1 37.8,377.3 38.6,377.2 39.4,377.2 40.2,377.1 41.0,377.6 41.8,377.5 42.6,377.3 43.4,377.0 44.2,377.2 45.0,377.0 45.8,377.5 46.6,377.2 47.4,376.9 48.2,376.9 49.0,377.3 49.8,376.9 50.6,376.2 51.4,376.3 52.2,375.8 53.0,375.3 53.8,375.3 54.6,375.4 55.4,375.0 56.2,374.6 57.0,374.6 57.8,375.0 58.6,375.6 59.4,375.7 60.2,376.2 61.0,377.4 61.8,377.4 62.6,377.8 63.4,377.6 64.2,377.9 65.0,377.6 65.8,377.9 66.6,378.2 67.4,378.2 68.2,377.9 69.0,378.2 69.8,377.9 70.6,377.8 71.4,378.2 72.2,378.4 73.0,378.2 73.8,377.7 74.6,378.0 75.4,377.8 76.2,377.4 77.0,376.8 77.8,377.3 78.6,377.0 79.4,376.4 80.2,375.2 81.0,374.4 81.8,373.9 82.6,372.8 83.4,371.6 84.2,369.7 85.0,368.4 85.8,367.6 86.6,368.3 87.4,369.5 88.2,371.4 89.0,372.8 89.8,374.2 90.6,375.2 91.4,375.9 92.2,377.3 93.0,377.1 93.8,377.5 94.6,377.5 95.4,377.5 96.2,376.7 97.0,377.1 97.8,377.0 98.6,376.9 99.4,376.0 100.2,376.1 101.0,376.0 101.8,375.9 102.6,376.1 103.4,375.7 104.2,376.0 105.0,375.9 105.8,375.6 106.6,375.7 107.4,375.9 108.2,376.1 109.0,376.4 109.8,376.2 110.6,376.6 111.4,376.3 112.2,376.3 113.0,377.2 113.8,377.7 114.6,377.8 115.4,377.9 116.2,378.4 117.0,378.9 117.8,378.7 118.6,378.7 119.4,378.9 120.2,379.6 121.0,379.4 121.8,379.6 122.6,379.9 123.4,380.0 124.2,379.7 125.0,380.2 125.8,380.3 126.6,380.3 127.4,380.5 128.2,380.3 129.0,380.5 129.8,380.5 130.6,380.8 131.4,380.6 132.2,380.9 133.0,380.7 133.8,381.0 134.6,381.0 135.4,381.1 136.2,381.2 137.0,381.2 137.8,381.2 138.6,380.9 139.4,381.5 140.2,381.2 141.0,381.2 141.8,381.1 142.6,381.4 143.4,381.0 144.2,381.2 145.0,381.2 145.8,381.2 146.6,381.0 147.4,380.8 148.2,380.3 149.0,380.7 149.8,380.6 150.6,380.4 151.4,380.3 152.2,380.1 153.0,379.8 153.8,380.0 154.6,379.9 155.4,379.3 156.2,379.6 157.0,379.3 157.8,379.3 158.6,379.1 159.4,379.1 160.2,379.0 161.0,379.0 161.8,378.6 162.6,379.1 163.4,379.2 164.2,379.2 165.0,379.9 165.8,379.8 166.6,380.6 167.4,381.1 168.2,380.9 169.0,381.4 169.8,381.4 170.6,381.4 171.4,381.0 172.2,381.3 173.0,381.0 173.8,381.0 174.6,380.7 175.4,380.7 176.2,380.3 177.0,380.2 177.8,380.1 178.6,379.6 179.4,379.5 180.2,378.8 181.0,378.4 181.8,377.6 182.6,377.4 183.4,377.3 184.2,377.1 185.0,377.6 185.8,378.2 186.6,378.7 187.4,379.7 188.2,380.5 189.0,380.5 189.8,380.4 190.6,381.0 191.4,381.0 192.2,381.6 193.0,381.4 193.8,381.5 194.6,381.5 195.4,381.8 196.2,381.7 197.0,381.7 197.8,381.9 198.6,381.8 199.4,382.3 200.2,381.8 201.0,382.0 201.8,381.9 202.6,381.7 203.4,382.3 204.2,381.6 205.0,382.3 205.8,381.7 206.6,382.0 207.4,382.5 208.2,381.6 209.0,381.7 209.8,382.3 210.6,382.0 211.4,381.9 212.2,382.0 213.0,381.8 213.8,382.0 214.6,382.3 215.4,381.9 216.2,382.1 217.0,382.3 217.8,382.5 218.6,382.1 219.4,382.3 220.2,382.2 221.0,382.3 221.8,382.4 222.6,382.5 223.4,382.3 224.2,382.4 225.0,382.7 225.8,382.9 226.6,383.2 227.4,382.9 228.2,383.0 229.0,383.1 229.8,383.2" fill="none" stroke="#111111" stroke-width="1.6" stroke-linejoin="round"/>
<polyline points="276.4,243.5 277.2,243.8 278.0,244.4 278.8,244.1 279.6,244.3 280.4,244.1 281.2,244.6 282.0,244.5 282.8,244.8 283.6,244.3 284.4,244.3 285.2,244.2 286.0,244.1 286.8,243.2 287.6,243.3 288.4,242.6 289.2,242.1 290.0,241.7 290.8,241.5 291.6,241.7 292.4,241.8 293.2,243.1 294.0,243.7 294.8,244.1 295.6,244.6 296.4,245.2 297.2,245.0 298.0,245.0 298.8,245.6 299.6,245.2 300.4,245.5 301.2,245.5 302.0,245.6 302.8,245.9 303.6,245.9 304.4,245.7 305.2,245.8 306.0,245.8 306.8,245.7 307.6,245.7 308.4,245.4 309.2,245.3 310.0,245.3 310.8,245.0 311.6,245.1 312.4,244.7 313.2,244.1 314.0,243.6 314.8,243.0 315.6,242.7 316.4,242.5 317.2,242.6 318.0,242.8 318.8,243.8 319.6,244.4 320.4,244.8 321.2,245.6 322.0,245.8 322.8,245.9 323.6,246.1 324.4,246.8 325.2,246.6 326.0,246.7 326.8,246.6 327.6,246.8 328.4,247.3 329.2,247.0 330.0,247.2 330.8,247.2 331.6,247.1 332.4,247.3 333.2,247.0 334.0,247.1 334.8,246.8 335.6,247.4 336.4,246.9 337.2,246.8 338.0,246.9 338.8,246.4 339.6,246.4 340.4,245.9 341.2,245.2 342.0,243.9 342.8,242.8 343.6,241.4 344.4,239.7 345.2,237.8 346.0,236.2 346.8,235.3 347.6,236.2 348.4,237.9 349.2,239.9 350.0,241.4 350.8,242.8 351.6,243.6 352.4,244.8 353.2,245.4 354.0,245.5 354.8,245.4 355.6,245.3 356.4,245.7 357.2,245.0 358.0,244.8 358.8,244.7 359.6,244.3 360.4,244.2 361.2,243.6 362.0,243.4 362.8,244.2 363.6,243.5 364.4,243.6 365.2,244.1 366.0,244.6 366.8,244.6 367.6,245.1 368.4,245.0 369.2,245.0 370.0,244.9 370.8,244.6 371.6,244.4 372.4,244.1 373.2,244.7 374.0,244.3 374.8,244.6 375.6,245.3 376.4,245.2 377.2,245.7 378.0,245.9 378.8,246.4 379.6,246.6 380.4,246.8 381.2,247.4 382.0,247.3 382.8,247.3 383.6,247.8 384.4,248.2 385.2,248.1 386.0,248.7 386.8,248.8 387.6,249.2 388.4,248.8 389.2,249.1 390.0,248.7 390.8,249.0 391.6,249.1 392.4,249.2 393.2,249.1 394.0,249.2 394.8,249.1 395.6,249.2 396.4,249.3 397.2,249.4 398.0,249.4 398.8,249.5 399.6,249.5 400.4,249.0 401.2,249.2 402.0,249.2 402.8,249.1 403.6,249.4 404.4,249.2 405.2,249.0 406.0,249.0 406.8,249.1 407.6,248.7 408.4,248.6 409.2,248.8 410.0,248.6 410.8,248.7 411.6,248.4 412.4,248.4 413.2,248.0 414.0,247.8 414.8,247.8 415.6,247.1 416.4,247.5 417.2,247.5 418.0,247.2 418.8,247.0 419.6,247.1 420.4,246.8 421.2,247.0 422.0,247.2 422.8,247.2 423.6,247.6 424.4,247.9 425.2,248.3 426.0,248.8 426.8,249.1 427.6,249.5 428.4,249.1 429.2,249.4 430.0,249.6 430.8,249.4 431.6,249.6 432.4,249.5 433.2,249.8 434.0,249.9 434.8,250.0 435.6,249.8 436.4,249.3 437.2,249.0 438.0,248.4 438.8,247.9 439.6,246.5 440.4,246.4 441.2,245.3 442.0,245.1 442.8,244.5 443.6,244.1 444.4,244.1 445.2,244.3 446.0,244.6 446.8,245.5 447.6,246.4 448.4,246.9 449.2,247.5 450.0,248.2 450.8,249.4 451.6,249.6 452.4,249.6 453.2,249.6 454.0,249.5 454.8,249.7 455.6,249.9 456.4,249.9 457.2,250.0 458.0,250.0 458.8,249.5 459.6,249.8 460.4,250.0 461.2,250.2 462.0,249.5 462.8,249.6 463.6,250.1 464.4,250.0 465.2,250.0 466.0,250.4 466.8,250.3 467.6,250.2 468.4,250.7 469.2,250.8 470.0,250.9 470.8,251.0 471.6,250.8 472.4,250.7 473.2,250.5 474.0,250.3 474.8,250.4 475.6,250.6 476.4,250.5 477.2,250.7 478.0,250.2 478.8,249.9 479.6,250.4 480.4,250.4 481.2,250.0 482.0,250.0 482.8,250.4 483.6,250.6 484.4,250.3 485.2,250.5 486.0,250.5 486.8,250.5 487.6,250.5 488.4,250.8 489.2,250.7 490.0,250.7" fill="none" stroke="#1f7630" stroke-width="1.6" stroke-linejoin="round"/>
<polyline points="276.4,264.0 277.2,263.8 278.0,261.9 278.8,260.2 279.6,257.4 280.4,254.9 281.2,253.1 282.0,252.6 282.8,253.0 283.6,254.7 284.4,256.5 285.2,259.4 286.0,261.7 286.8,264.2 287.6,264.4 288.4,264.3 289.2,263.2 290.0,262.0 290.8,260.5 291.6,259.0 292.4,258.0 293.2,257.5 294.0,257.7 294.8,259.2 295.6,260.7 296.4,262.6 297.2,263.6 298.0,264.2 298.8,264.8 299.6,265.2 300.4,265.6 301.2,266.1 302.0,265.7 302.8,266.4 303.6,266.5 304.4,266.6 305.2,266.4 306.0,266.7 306.8,266.8 307.6,266.7 308.4,266.5 309.2,266.6 310.0,266.5 310.8,266.6 311.6,266.4 312.4,266.1 313.2,266.0 314.0,265.8 314.8,265.7 315.6,264.6 316.4,263.1 317.2,260.8 318.0,258.7 318.8,257.2 319.6,256.0 320.4,256.1 321.2,256.8 322.0,259.1 322.8,261.0 323.6,263.1 324.4,264.9 325.2,265.8 326.0,266.2 326.8,267.2 327.6,267.2 328.4,267.9 329.2,268.4 330.0,268.2 330.8,268.5 331.6,268.4 332.4,268.8 333.2,268.5 334.0,268.3 334.8,268.8 335.6,268.6 336.4,268.2 337.2,268.5 338.0,268.2 338.8,268.6 339.6,268.3 340.4,267.7 341.2,267.6 342.0,267.2 342.8,266.7 343.6,265.8 344.4,264.8 345.2,263.8 346.0,263.0 346.8,263.1 347.6,264.1 348.4,264.9 349.2,265.3 350.0,265.7 350.8,265.5 351.6,265.1 352.4,264.0 353.2,263.5 354.0,262.2 354.8,261.2 355.6,259.6 356.4,259.0 357.2,257.9 358.0,255.7 358.8,254.9 359.6,253.1 360.4,251.4 361.2,249.7 362.0,248.3 362.8,246.5 363.6,245.6 364.4,245.7 365.2,247.1 366.0,249.6 366.8,251.6 367.6,253.7 368.4,253.8 369.2,253.3 370.0,251.8 370.8,250.6 371.6,248.5 372.4,247.6 373.2,247.9 374.0,248.5 374.8,250.0 375.6,251.3 376.4,252.4 377.2,253.5 378.0,254.0 378.8,255.1 379.6,256.1 380.4,257.1 381.2,257.8 382.0,258.9 382.8,260.3 383.6,262.1 384.4,263.5 385.2,264.6 386.0,265.4 386.8,265.8 387.6,265.5 388.4,265.3 389.2,264.7 390.0,264.8 390.8,264.5 391.6,264.0 392.4,263.7 393.2,263.4 394.0,263.6 394.8,263.3 395.6,263.1 396.4,263.5 397.2,264.2 398.0,264.7 398.8,265.1 399.6,265.6 400.4,265.9 401.2,266.1 402.0,266.8 402.8,267.3 403.6,268.2 404.4,268.7 405.2,269.5 406.0,269.9 406.8,269.9 407.6,270.6 408.4,270.6 409.2,270.2 410.0,270.4 410.8,270.3 411.6,269.9 412.4,269.9 413.2,269.6 414.0,269.4 414.8,269.0 415.6,268.6 416.4,267.9 417.2,266.7 418.0,264.9 418.8,262.9 419.6,261.1 420.4,259.8 421.2,258.9 422.0,259.0 422.8,259.9 423.6,261.3 424.4,263.0 425.2,264.7 426.0,266.3 426.8,267.7 427.6,268.7 428.4,269.9 429.2,270.2 430.0,270.6 430.8,270.9 431.6,271.0 432.4,271.0 433.2,270.9 434.0,271.4 434.8,271.4 435.6,270.6 436.4,270.4 437.2,269.7 438.0,269.3 438.8,268.7 439.6,268.4 440.4,268.1 441.2,267.3 442.0,267.5 442.8,267.2 443.6,266.5 444.4,267.2 445.2,267.5 446.0,268.2 446.8,269.1 447.6,269.8 448.4,270.2 449.2,270.4 450.0,270.3 450.8,270.6 451.6,270.3 452.4,269.6 453.2,269.5 454.0,269.6 454.8,269.7 455.6,269.5 456.4,269.6 457.2,270.4 458.0,270.4 458.8,270.1 459.6,270.3 460.4,270.7 461.2,271.1 462.0,271.4 462.8,271.4 463.6,271.4 464.4,271.9 465.2,272.2 466.0,272.3 466.8,272.4 467.6,272.9 468.4,272.9 469.2,272.9 470.0,273.3 470.8,273.1 471.6,273.6 472.4,273.5 473.2,273.2 474.0,273.4 474.8,273.5 475.6,272.8 476.4,273.1 477.2,273.4 478.0,272.7 478.8,272.9 479.6,272.6 480.4,272.8 481.2,272.3 482.0,272.5 482.8,272.8 483.6,273.0 484.4,273.2 485.2,273.5 486.0,273.8 486.8,273.9 487.6,274.0 488.4,273.8 489.2,274.0 490.0,274.6" fill="none" stroke="#d42a6c" stroke-width="1.6" stroke-linejoin="round"/>
<polyline points="276.4,282.4 277.2,280.7 278.0,277.7 278.8,273.3 279.6,266.1 280.4,261.6 281.2,257.1 282.0,256.1 282.8,259.3 283.6,262.5 284.4,268.2 285.2,272.9 286.0,277.8 286.8,280.3 287.6,281.1 288.4,281.7 289.2,281.8 290.0,281.5 290.8,278.8 291.6,275.4 292.4,271.5 293.2,269.3 294.0,268.5 294.8,270.4 295.6,272.9 296.4,275.9 297.2,278.5 298.0,280.0 298.8,281.4 299.6,283.3 300.4,283.8 301.2,285.0 302.0,285.2 302.8,285.3 303.6,285.8 304.4,286.0 305.2,286.6 306.0,286.3 306.8,287.0 307.6,287.0 308.4,286.7 309.2,286.7 310.0,287.1 310.8,286.9 311.6,286.8 312.4,286.4 313.2,285.7 314.0,285.3 314.8,284.5 315.6,283.6 316.4,282.3 317.2,280.2 318.0,277.3 318.8,274.5 319.6,273.0 320.4,273.2 321.2,275.0 322.0,277.4 322.8,280.2 323.6,282.7 324.4,284.5 325.2,285.8 326.0,286.0 326.8,286.5 327.6,287.8 328.4,288.1 329.2,288.6 330.0,289.0 330.8,289.0 331.6,288.8 332.4,288.8 333.2,289.3 334.0,289.2 334.8,289.6 335.6,289.4 336.4,289.6 337.2,289.4 338.0,289.7 338.8,289.7 339.6,289.9 340.4,290.0 341.2,289.5 342.0,289.1 342.8,289.3 343.6,288.6 344.4,288.3 345.2,288.1 346.0,288.1 346.8,288.0 347.6,287.9 348.4,287.9 349.2,287.6 350.0,287.7 350.8,287.5 351.6,286.9 352.4,286.1 353.2,285.3 354.0,284.1 354.8,282.7 355.6,281.0 356.4,279.6 357.2,277.3 358.0,274.4 358.8,271.8 359.6,269.0 360.4,266.3 361.2,263.2 362.0,260.2 362.8,257.6 363.6,256.4 364.4,256.2 365.2,258.2 366.0,260.7 366.8,263.6 367.6,265.9 368.4,266.2 369.2,265.0 370.0,263.3 370.8,260.4 371.6,257.7 372.4,256.4 373.2,256.4 374.0,257.0 374.8,259.3 375.6,261.7 376.4,263.4 377.2,264.9 378.0,266.2 378.8,266.9 379.6,267.6 380.4,268.7 381.2,269.9 382.0,271.9 382.8,273.4 383.6,275.9 384.4,277.3 385.2,279.3 386.0,280.4 386.8,281.9 387.6,283.5 388.4,284.5 389.2,285.1 390.0,284.7 390.8,283.7 391.6,282.2 392.4,280.7 393.2,279.0 394.0,278.5 394.8,278.3 395.6,278.7 396.4,279.0 397.2,279.6 398.0,280.0 398.8,280.7 399.6,281.2 400.4,282.5 401.2,283.7 402.0,285.2 402.8,286.1 403.6,288.0 404.4,288.1 405.2,289.1 406.0,289.8 406.8,289.8 407.6,290.9 408.4,291.8 409.2,291.5 410.0,292.5 410.8,292.4 411.6,292.6 412.4,292.7 413.2,292.1 414.0,292.2 414.8,291.7 415.6,291.1 416.4,290.8 417.2,290.7 418.0,288.7 418.8,285.2 419.6,280.5 420.4,276.2 421.2,273.9 422.0,274.4 422.8,276.4 423.6,279.9 424.4,282.8 425.2,285.5 426.0,286.8 426.8,289.2 427.6,290.8 428.4,291.6 429.2,291.5 430.0,291.6 430.8,291.9 431.6,292.0 432.4,291.8 433.2,291.8 434.0,292.2 434.8,292.3 435.6,292.0 436.4,291.8 437.2,291.4 438.0,291.5 438.8,290.5 439.6,289.9 440.4,289.6 441.2,289.4 442.0,289.0 442.8,288.6 443.6,289.1 444.4,289.4 445.2,289.9 446.0,290.3 446.8,290.9 447.6,291.2 448.4,291.7 449.2,291.7 450.0,291.1 450.8,290.5 451.6,290.0 452.4,289.5 453.2,288.9 454.0,288.3 454.8,287.5 455.6,288.3 456.4,288.7 457.2,289.3 458.0,289.8 458.8,290.6 459.6,291.1 460.4,292.2 461.2,292.0 462.0,292.1 462.8,292.3 463.6,292.4 464.4,292.7 465.2,292.7 466.0,292.9 466.8,293.2 467.6,293.3 468.4,293.3 469.2,293.7 470.0,293.6 470.8,293.5 471.6,293.6 472.4,294.0 473.2,294.3 474.0,294.6 474.8,295.0 475.6,294.8 476.4,294.9 477.2,295.4 478.0,295.6 478.8,295.4 479.6,295.6 480.4,295.8 481.2,295.6 482.0,295.5 482.8,295.1 483.6,295.8 484.4,295.6 485.2,295.5 486.0,295.4 486.8,295.2 487.6,295.5 488.4,295.5 489.2,295.7 490.0,295.2" fill="none" stroke="#761a24" stroke-width="1.6" stroke-linejoin="round"/>
<polyline points="276.4,292.3 277.2,290.6 278.0,288.6 278.8,284.3 279.6,280.4 280.4,277.6 281.2,274.8 282.0,273.2 282.8,274.2 283.6,277.3 284.4,280.6 285.2,284.0 286.0,288.2 286.8,290.3 287.6,291.9 288.4,292.0 289.2,292.2 290.0,292.5 290.8,291.8 291.6,288.9 292.4,286.4 293.2,284.5 294.0,283.9 294.8,285.6 295.6,287.6 296.4,290.1 297.2,291.4 298.0,292.7 298.8,293.8 299.6,295.5 300.4,296.6 301.2,297.6 302.0,298.4 302.8,298.3 303.6,298.3 304.4,298.5 305.2,298.7 306.0,298.2 306.8,298.5 307.6,298.3 308.4,298.3 309.2,298.6 310.0,298.2 310.8,298.2 311.6,298.5 312.4,298.4 313.2,298.2 314.0,297.7 314.8,297.0 315.6,295.8 316.4,294.9 317.2,293.7 318.0,292.9 318.8,292.0 319.6,291.5 320.4,291.4 321.2,292.4 322.0,293.7 322.8,296.1 323.6,297.3 324.4,298.8 325.2,299.7 326.0,299.5 326.8,300.0 327.6,300.4 328.4,300.5 329.2,300.7 330.0,301.0 330.8,301.5 331.6,301.4 332.4,301.3 333.2,301.2 334.0,300.8 334.8,301.1 335.6,300.8 336.4,300.3 337.2,300.3 338.0,300.0 338.8,299.6 339.6,299.2 340.4,298.9 341.2,298.2 342.0,297.8 342.8,297.0 343.6,296.3 344.4,295.7 345.2,295.4 346.0,295.9 346.8,295.2 347.6,296.0 348.4,295.9 349.2,296.0 350.0,295.9 350.8,295.8 351.6,295.3 352.4,294.7 353.2,294.3 354.0,293.2 354.8,292.9 355.6,292.1 356.4,290.2 357.2,289.5 358.0,288.5 358.8,287.1 359.6,285.6 360.4,284.4 361.2,283.1 362.0,281.6 362.8,280.4 363.6,279.3 364.4,279.6 365.2,279.9 366.0,281.4 366.8,282.4 367.6,283.9 368.4,284.5 369.2,283.3 370.0,281.3 370.8,279.5 371.6,277.6 372.4,276.5 373.2,276.7 374.0,277.5 374.8,278.2 375.6,280.7 376.4,281.9 377.2,283.2 378.0,284.6 378.8,285.2 379.6,285.9 380.4,286.8 381.2,288.0 382.0,289.2 382.8,290.6 383.6,291.7 384.4,293.1 385.2,294.8 386.0,295.2 386.8,295.8 387.6,295.4 388.4,295.1 389.2,294.5 390.0,294.2 390.8,293.5 391.6,293.0 392.4,292.8 393.2,292.6 394.0,292.8 394.8,292.9 395.6,293.2 396.4,293.6 397.2,294.1 398.0,295.0 398.8,295.2 399.6,295.7 400.4,296.7 401.2,298.1 402.0,299.1 402.8,300.2 403.6,301.0 404.4,301.5 405.2,301.9 406.0,302.2 406.8,302.1 407.6,302.4 408.4,302.3 409.2,303.2 410.0,303.4 410.8,303.5 411.6,303.3 412.4,303.4 413.2,302.9 414.0,302.5 414.8,301.7 415.6,301.1 416.4,300.4 417.2,299.9 418.0,298.7 418.8,295.7 419.6,292.8 420.4,289.8 421.2,287.5 422.0,286.9 422.8,288.5 423.6,290.8 424.4,293.9 425.2,296.6 426.0,298.4 426.8,299.6 427.6,300.9 428.4,301.5 429.2,302.4 430.0,302.0 430.8,302.3 431.6,302.4 432.4,302.1 433.2,302.0 434.0,302.4 434.8,302.2 435.6,302.5 436.4,302.4 437.2,302.3 438.0,302.2 438.8,302.1 439.6,301.5 440.4,300.8 441.2,300.5 442.0,300.2 442.8,299.9 443.6,299.9 444.4,299.9 445.2,300.2 446.0,300.4 446.8,300.7 447.6,301.6 448.4,301.6 449.2,302.0 450.0,301.9 450.8,302.3 451.6,302.0 452.4,302.4 453.2,301.2 454.0,300.7 454.8,300.7 455.6,300.6 456.4,300.0 457.2,300.6 458.0,301.0 458.8,300.8 459.6,301.5 460.4,301.7 461.2,301.9 462.0,302.4 462.8,302.7 463.6,302.8 464.4,303.8 465.2,303.4 466.0,303.6 466.8,304.1 467.6,304.1 468.4,304.6 469.2,304.5 470.0,304.8 470.8,304.9 471.6,305.0 472.4,305.1 473.2,305.2 474.0,305.5 474.8,305.0 475.6,305.0 476.4,305.0 477.2,305.0 478.0,304.9 478.8,304.9 479.6,304.3 480.4,304.5 481.2,304.3 482.0,304.2 482.8,304.2 483.6,303.8 484.4,304.3 485.2,304.5 486.0,304.5 486.8,305.1 487.6,305.7 488.4,305.5 489.2,305.7 490.0,305.5" fill="none" stroke="#1b1b74" stroke-width="1.6" stroke-linejoin="round"/>
<polyline points="276.4,304.8 277.2,304.2 278.0,303.8 278.8,303.9 279.6,303.6 280.4,303.1 281.2,303.4 282.0,303.2 282.8,303.2 283.6,304.0 284.4,304.5 285.2,305.1 286.0,306.3 286.8,305.8 287.6,306.1 288.4,305.3 289.2,305.2 290.0,304.7 290.8,304.4 291.6,304.0 292.4,304.7 293.2,305.2 294.0,305.8 294.8,306.7 295.6,307.6 296.4,307.9 297.2,308.3 298.0,308.2 298.8,308.6 299.6,308.8 300.4,309.3 301.2,309.1 302.0,309.0 302.8,309.3 303.6,308.9 304.4,309.3 305.2,309.1 306.0,309.1 306.8,309.4 307.6,309.2 308.4,309.3 309.2,308.6 310.0,308.8 310.8,308.4 311.6,308.2 312.4,307.7 313.2,308.0 314.0,307.6 314.8,307.3 315.6,307.1 316.4,307.1 317.2,307.6 318.0,307.5 318.8,307.8 319.6,308.4 320.4,308.7 321.2,309.1 322.0,309.6 322.8,309.9 323.6,310.3 324.4,310.0 325.2,310.3 326.0,310.3 326.8,310.5 327.6,310.5 328.4,310.5 329.2,310.6 330.0,310.9 330.8,310.6 331.6,310.5 332.4,310.9 333.2,311.0 334.0,310.7 334.8,310.7 335.6,310.4 336.4,310.3 337.2,310.2 338.0,309.7 338.8,309.1 339.6,308.5 340.4,307.7 341.2,307.5 342.0,306.9 342.8,306.4 343.6,305.4 344.4,303.5 345.2,302.1 346.0,300.6 346.8,300.8 347.6,301.5 348.4,303.2 349.2,304.8 350.0,306.2 350.8,307.4 351.6,307.8 352.4,308.8 353.2,309.4 354.0,309.2 354.8,309.2 355.6,309.5 356.4,309.5 357.2,309.7 358.0,309.7 358.8,309.5 359.6,309.7 360.4,309.9 361.2,309.6 362.0,309.6 362.8,309.5 363.6,309.9 364.4,310.0 365.2,309.3 366.0,309.6 366.8,309.5 367.6,309.0 368.4,308.9 369.2,308.6 370.0,308.5 370.8,308.5 371.6,308.5 372.4,308.4 373.2,308.5 374.0,308.4 374.8,308.4 375.6,309.2 376.4,309.5 377.2,309.5 378.0,310.4 378.8,310.5 379.6,310.8 380.4,311.5 381.2,310.8 382.0,311.2 382.8,311.8 383.6,311.8 384.4,311.8 385.2,312.4 386.0,312.3 386.8,312.1 387.6,312.4 388.4,312.8 389.2,313.1 390.0,312.4 390.8,313.0 391.6,312.9 392.4,312.8 393.2,313.2 394.0,313.0 394.8,313.3 395.6,313.8 396.4,313.7 397.2,313.8 398.0,313.9 398.8,313.9 399.6,314.1 400.4,313.7 401.2,313.9 402.0,314.2 402.8,313.9 403.6,314.0 404.4,314.3 405.2,314.3 406.0,313.8 406.8,313.6 407.6,313.7 408.4,313.5 409.2,313.1 410.0,313.2 410.8,313.0 411.6,312.7 412.4,313.2 413.2,312.7 414.0,312.4 414.8,312.3 415.6,312.5 416.4,312.0 417.2,311.5 418.0,311.6 418.8,311.4 419.6,311.2 420.4,311.3 421.2,311.3 422.0,311.2 422.8,311.2 423.6,311.7 424.4,311.4 425.2,312.1 426.0,312.2 426.8,312.5 427.6,312.3 428.4,313.3 429.2,312.9 430.0,313.2 430.8,313.6 431.6,313.4 432.4,313.4 433.2,312.9 434.0,313.1 434.8,313.0 435.6,312.8 436.4,312.3 437.2,312.1 438.0,311.8 438.8,311.3 439.6,311.0 440.4,311.1 441.2,310.1 442.0,310.1 442.8,309.6 443.6,309.6 444.4,309.2 445.2,309.8 446.0,310.5 446.8,311.2 447.6,312.0 448.4,312.4 449.2,312.7 450.0,312.8 450.8,313.1 451.6,313.0 452.4,312.8 453.2,313.0 454.0,313.1 454.8,313.0 455.6,313.5 456.4,313.3 457.2,313.5 458.0,313.2 458.8,313.3 459.6,313.6 460.4,313.2 461.2,313.6 462.0,313.7 462.8,313.6 463.6,313.9 464.4,313.7 465.2,314.1 466.0,313.9 466.8,314.0 467.6,314.6 468.4,314.3 469.2,314.1 470.0,314.8 470.8,314.5 471.6,314.0 472.4,314.7 473.2,314.9 474.0,314.9 474.8,315.2 475.6,314.8 476.4,315.0 477.2,314.7 478.0,315.0 478.8,315.2 479.6,315.1 480.4,315.0 481.2,314.6 482.0,315.0 482.8,314.8 483.6,315.2 484.4,314.9 485.2,315.2 486.0,314.9 486.8,315.5 487.6,314.9 488.4,315.1 489.2,315.6 490.0,315.2" fill="none" stroke="#808024" stroke-width="1.6" stroke-linejoin="round"/>
<polyline points="276.4,310.6 277.2,310.4 278.0,310.1 278.8,309.8 279.6,309.1 280.4,309.4 281.2,308.9 282.0,309.7 282.8,309.3 283.6,309.7 284.4,310.8 285.2,311.8 286.0,312.2 286.8,313.0 287.6,312.6 288.4,312.1 289.2,312.5 290.0,312.3 290.8,311.9 291.6,311.6 292.4,311.1 293.2,311.4 294.0,311.6 294.8,311.6 295.6,312.0 296.4,311.9 297.2,312.7 298.0,313.1 298.8,313.0 299.6,313.3 300.4,313.8 301.2,314.1 302.0,314.4 302.8,314.3 303.6,314.5 304.4,314.6 305.2,314.7 306.0,314.9 306.8,315.0 307.6,315.0 308.4,315.1 309.2,315.0 310.0,315.3 310.8,315.0 311.6,315.3 312.4,314.7 313.2,314.3 314.0,313.6 314.8,313.3 315.6,313.0 316.4,312.8 317.2,312.6 318.0,312.7 318.8,313.4 319.6,313.9 320.4,314.6 321.2,315.4 322.0,315.6 322.8,315.8 323.6,316.5 324.4,316.3 325.2,316.4 326.0,316.9 326.8,316.9 327.6,316.7 328.4,316.8 329.2,316.9 330.0,316.6 330.8,317.1 331.6,316.9 332.4,317.4 333.2,316.8 334.0,317.2 334.8,316.8 335.6,317.0 336.4,316.4 337.2,316.4 338.0,315.9 338.8,315.4 339.6,315.1 340.4,314.7 341.2,314.2 342.0,313.8 342.8,313.0 343.6,311.2 344.4,310.0 345.2,308.0 346.0,307.0 346.8,306.5 347.6,306.8 348.4,308.6 349.2,311.1 350.0,312.8 350.8,314.0 351.6,314.4 352.4,315.0 353.2,315.5 354.0,315.3 354.8,315.7 355.6,315.7 356.4,316.2 357.2,316.5 358.0,316.7 358.8,316.6 359.6,316.6 360.4,316.7 361.2,316.6 362.0,317.0 362.8,317.3 363.6,316.5 364.4,316.5 365.2,317.1 366.0,316.4 366.8,316.6 367.6,316.0 368.4,316.2 369.2,316.0 370.0,315.6 370.8,315.6 371.6,315.3 372.4,315.3 373.2,315.5 374.0,315.4 374.8,315.3 375.6,315.5 376.4,316.0 377.2,316.4 378.0,316.9 378.8,317.1 379.6,317.7 380.4,317.9 381.2,318.2 382.0,318.3 382.8,318.6 383.6,318.4 384.4,319.1 385.2,319.0 386.0,319.2 386.8,319.3 387.6,319.6 388.4,319.6 389.2,319.6 390.0,319.6 390.8,319.4 391.6,319.9 392.4,319.9 393.2,319.9 394.0,320.5 394.8,319.7 395.6,320.2 396.4,320.5 397.2,320.5 398.0,320.6 398.8,320.1 399.6,320.2 400.4,320.6 401.2,320.4 402.0,320.8 402.8,320.6 403.6,320.6 404.4,320.6 405.2,320.4 406.0,320.4 406.8,320.1 407.6,320.1 408.4,319.9 409.2,319.9 410.0,319.4 410.8,319.2 411.6,319.4 412.4,319.3 413.2,318.9 414.0,319.0 414.8,318.7 415.6,319.3 416.4,318.6 417.2,319.3 418.0,318.9 418.8,319.2 419.6,319.1 420.4,319.2 421.2,319.6 422.0,319.6 422.8,319.5 423.6,319.5 424.4,320.2 425.2,320.1 426.0,319.9 426.8,319.8 427.6,320.0 428.4,319.9 429.2,320.1 430.0,319.6 430.8,319.7 431.6,319.5 432.4,319.8 433.2,319.7 434.0,319.2 434.8,319.2 435.6,319.2 436.4,318.6 437.2,318.3 438.0,318.5 438.8,318.2 439.6,317.9 440.4,317.9 441.2,317.3 442.0,316.5 442.8,316.5 443.6,316.0 444.4,316.1 445.2,315.5 446.0,315.4 446.8,316.0 447.6,317.2 448.4,318.3 449.2,319.7 450.0,319.9 450.8,320.2 451.6,320.4 452.4,319.7 453.2,319.7 454.0,319.7 454.8,319.8 455.6,319.8 456.4,319.9 457.2,320.1 458.0,319.7 458.8,319.6 459.6,319.6 460.4,320.1 461.2,320.2 462.0,319.7 462.8,319.7 463.6,320.1 464.4,320.4 465.2,320.4 466.0,320.4 466.8,320.6 467.6,320.6 468.4,320.5 469.2,321.1 470.0,320.7 470.8,320.6 471.6,320.7 472.4,320.5 473.2,320.8 474.0,321.0 474.8,320.5 475.6,320.9 476.4,321.1 477.2,320.7 478.0,320.3 478.8,320.3 479.6,320.4 480.4,320.1 481.2,320.1 482.0,320.2 482.8,320.1 483.6,320.2 484.4,319.8 485.2,320.4 486.0,320.2 486.8,320.1 487.6,319.8 488.4,320.3 489.2,319.9 490.0,320.3" fill="none" stroke="#d826d8" stroke-width="1.6" stroke-linejoin="round"/>
<polyline points="276.4,334.2 277.2,332.9 278.0,331.0 278.8,328.4 279.6,323.1 280.4,319.0 281.2,316.1 282.0,313.9 282.8,312.9 283.6,315.1 284.4,318.9 285.2,323.6 286.0,329.3 286.8,332.9 287.6,335.5 288.4,335.8 289.2,336.3 290.0,336.5 290.8,336.4 291.6,334.5 292.4,331.7 293.2,328.8 294.0,327.3 294.8,327.2 295.6,329.0 296.4,331.6 297.2,333.9 298.0,336.1 298.8,337.1 299.6,338.9 300.4,339.7 301.2,340.9 302.0,341.5 302.8,342.2 303.6,342.1 304.4,342.1 305.2,342.1 306.0,342.5 306.8,342.4 307.6,342.9 308.4,343.1 309.2,342.4 310.0,342.7 310.8,343.0 311.6,343.3 312.4,343.1 313.2,343.0 314.0,342.7 314.8,342.1 315.6,341.6 316.4,340.7 317.2,339.5 318.0,339.0 318.8,338.6 319.6,338.1 320.4,338.2 321.2,338.6 322.0,339.2 322.8,340.3 323.6,341.0 324.4,341.7 325.2,342.4 326.0,343.0 326.8,343.6 327.6,343.4 328.4,343.8 329.2,343.7 330.0,343.3 330.8,343.9 331.6,343.8 332.4,343.7 333.2,343.8 334.0,344.4 334.8,343.4 335.6,343.1 336.4,342.7 337.2,341.8 338.0,340.4 338.8,339.9 339.6,339.0 340.4,338.5 341.2,338.4 342.0,338.1 342.8,338.4 343.6,339.2 344.4,339.0 345.2,339.8 346.0,340.4 346.8,340.4 347.6,340.9 348.4,341.1 349.2,341.7 350.0,341.6 350.8,341.8 351.6,341.8 352.4,341.5 353.2,341.2 354.0,341.1 354.8,340.8 355.6,340.3 356.4,340.4 357.2,339.7 358.0,339.0 358.8,337.8 359.6,337.4 360.4,336.9 361.2,335.9 362.0,334.7 362.8,334.3 363.6,333.7 364.4,333.5 365.2,333.6 366.0,334.5 366.8,335.2 367.6,336.1 368.4,336.2 369.2,335.9 370.0,335.0 370.8,333.2 371.6,331.8 372.4,330.1 373.2,329.0 374.0,328.6 374.8,329.0 375.6,328.8 376.4,329.7 377.2,329.7 378.0,330.6 378.8,331.5 379.6,332.2 380.4,332.7 381.2,333.7 382.0,335.2 382.8,335.9 383.6,337.2 384.4,337.9 385.2,339.1 386.0,340.6 386.8,341.3 387.6,341.9 388.4,341.7 389.2,342.0 390.0,341.7 390.8,341.3 391.6,341.1 392.4,340.0 393.2,339.9 394.0,339.5 394.8,339.1 395.6,339.6 396.4,339.1 397.2,339.5 398.0,339.8 398.8,339.6 399.6,340.1 400.4,340.6 401.2,341.3 402.0,341.8 402.8,342.4 403.6,343.1 404.4,343.4 405.2,344.6 406.0,345.1 406.8,345.9 407.6,346.2 408.4,346.4 409.2,346.0 410.0,346.0 410.8,345.5 411.6,345.7 412.4,345.3 413.2,345.6 414.0,345.0 414.8,345.1 415.6,344.7 416.4,344.3 417.2,343.5 418.0,342.0 418.8,340.8 419.6,339.2 420.4,338.7 421.2,337.7 422.0,338.2 422.8,339.1 423.6,339.2 424.4,340.7 425.2,342.0 426.0,343.2 426.8,343.4 427.6,344.1 428.4,344.3 429.2,345.1 430.0,345.1 430.8,345.9 431.6,345.4 432.4,345.8 433.2,346.7 434.0,346.3 434.8,345.9 435.6,346.1 436.4,345.5 437.2,345.0 438.0,344.2 438.8,343.9 439.6,343.5 440.4,342.8 441.2,343.1 442.0,343.0 442.8,343.5 443.6,343.7 444.4,343.6 445.2,343.9 446.0,344.3 446.8,344.7 447.6,344.7 448.4,344.9 449.2,345.0 450.0,344.8 450.8,344.5 451.6,343.9 452.4,343.1 453.2,342.5 454.0,342.7 454.8,342.3 455.6,342.4 456.4,342.6 457.2,342.5 458.0,343.1 458.8,342.9 459.6,343.7 460.4,344.0 461.2,344.9 462.0,344.9 462.8,345.0 463.6,345.3 464.4,345.7 465.2,345.7 466.0,346.1 466.8,346.3 467.6,347.1 468.4,346.9 469.2,346.7 470.0,347.4 470.8,347.9 471.6,347.2 472.4,348.1 473.2,347.4 474.0,347.6 474.8,347.2 475.6,347.2 476.4,346.9 477.2,346.9 478.0,346.6 478.8,347.3 479.6,346.7 480.4,347.0 481.2,347.0 482.0,346.8 482.8,347.0 483.6,347.0 484.4,347.0 485.2,347.2 486.0,347.2 486.8,347.1 487.6,347.1 488.4,347.2 489.2,347.4 490.0,347.7" fill="none" stroke="#237a7c" stroke-width="1.6" stroke-linejoin="round"/>
<polyline points="276.4,345.3 277.2,343.3 278.0,340.7 278.8,336.2 279.6,331.3 280.4,327.8 281.2,325.1 282.0,323.5 282.8,324.4 283.6,327.8 284.4,330.6 285.2,335.0 286.0,339.2 286.8,343.1 287.6,345.4 288.4,345.4 289.2,345.2 290.0,346.0 290.8,345.8 291.6,343.4 292.4,340.7 293.2,337.9 294.0,335.6 294.8,336.4 295.6,338.2 296.4,340.7 297.2,343.2 298.0,345.4 298.8,346.8 299.6,348.4 300.4,349.4 301.2,350.9 302.0,351.4 302.8,351.2 303.6,352.1 304.4,351.7 305.2,351.6 306.0,351.7 306.8,351.3 307.6,351.7 308.4,351.2 309.2,351.5 310.0,352.0 310.8,352.0 311.6,351.6 312.4,351.5 313.2,351.8 314.0,351.2 314.8,350.5 315.6,349.7 316.4,348.4 317.2,347.9 318.0,346.5 318.8,346.6 319.6,345.6 320.4,345.9 321.2,346.5 322.0,347.7 322.8,348.8 323.6,350.0 324.4,351.1 325.2,352.0 326.0,352.4 326.8,352.3 327.6,352.4 328.4,352.5 329.2,353.2 330.0,353.3 330.8,353.4 331.6,353.6 332.4,353.5 333.2,353.4 334.0,353.3 334.8,352.9 335.6,352.9 336.4,352.0 337.2,350.5 338.0,349.7 338.8,348.8 339.6,348.2 340.4,347.0 341.2,346.8 342.0,347.0 342.8,347.0 343.6,348.3 344.4,349.5 345.2,350.3 346.0,351.5 346.8,351.6 347.6,351.7 348.4,351.7 349.2,352.2 350.0,352.2 350.8,352.0 351.6,351.9 352.4,351.5 353.2,351.7 354.0,351.6 354.8,351.4 355.6,351.0 356.4,350.7 357.2,350.0 358.0,349.3 358.8,348.6 359.6,347.3 360.4,346.0 361.2,345.2 362.0,343.9 362.8,342.7 363.6,341.7 364.4,341.4 365.2,342.2 366.0,343.3 366.8,344.0 367.6,344.6 368.4,345.1 369.2,344.1 370.0,343.0 370.8,341.1 371.6,339.5 372.4,337.8 373.2,337.0 374.0,337.2 374.8,337.0 375.6,337.4 376.4,338.4 377.2,339.2 378.0,340.1 378.8,340.8 379.6,342.0 380.4,343.0 381.2,343.8 382.0,345.5 382.8,346.8 383.6,347.9 384.4,348.4 385.2,349.3 386.0,350.5 386.8,350.8 387.6,351.5 388.4,351.8 389.2,351.8 390.0,351.3 390.8,350.6 391.6,350.5 392.4,349.7 393.2,349.1 394.0,349.2 394.8,348.7 395.6,348.3 396.4,348.6 397.2,348.9 398.0,349.2 398.8,349.4 399.6,350.5 400.4,351.0 401.2,351.4 402.0,351.9 402.8,352.7 403.6,353.6 404.4,354.1 405.2,355.0 406.0,355.6 406.8,356.4 407.6,356.5 408.4,356.2 409.2,356.3 410.0,356.8 410.8,356.1 411.6,356.3 412.4,356.0 413.2,356.3 414.0,355.8 414.8,355.6 415.6,355.3 416.4,355.0 417.2,354.2 418.0,353.0 418.8,351.3 419.6,350.7 420.4,349.5 421.2,348.8 422.0,349.2 422.8,349.6 423.6,350.4 424.4,351.4 425.2,352.6 426.0,353.4 426.8,353.9 427.6,355.2 428.4,355.6 429.2,356.3 430.0,356.4 430.8,356.7 431.6,356.8 432.4,357.2 433.2,356.9 434.0,356.8 434.8,356.8 435.6,355.9 436.4,356.0 437.2,355.6 438.0,355.0 438.8,354.9 439.6,354.5 440.4,354.1 441.2,353.9 442.0,354.3 442.8,354.0 443.6,354.3 444.4,354.7 445.2,354.9 446.0,355.4 446.8,355.2 447.6,355.0 448.4,355.6 449.2,355.8 450.0,355.4 450.8,355.7 451.6,355.6 452.4,354.9 453.2,354.7 454.0,354.3 454.8,354.4 455.6,354.2 456.4,354.0 457.2,353.4 458.0,353.3 458.8,353.0 459.6,352.9 460.4,352.9 461.2,352.9 462.0,353.4 462.8,353.9 463.6,354.3 464.4,354.7 465.2,355.0 466.0,355.6 466.8,356.1 467.6,356.3 468.4,356.6 469.2,356.7 470.0,356.8 470.8,357.1 471.6,357.0 472.4,357.6 473.2,357.2 474.0,357.7 474.8,357.4 475.6,358.1 476.4,358.0 477.2,357.7 478.0,357.8 478.8,357.7 479.6,357.9 480.4,358.0 481.2,358.4 482.0,357.6 482.8,358.2 483.6,357.8 484.4,358.0 485.2,358.1 486.0,358.0 486.8,358.0 487.6,357.9 488.4,357.9 489.2,357.9 490.0,358.1" fill="none" stroke="#2222c4" stroke-width="1.6" stroke-linejoin="round"/>
<polyline points="276.4,358.2 277.2,355.0 278.0,350.5 278.8,344.5 279.6,338.3 280.4,334.7 281.2,331.8 282.0,330.9 282.8,332.0 283.6,335.1 284.4,339.3 285.2,345.9 286.0,351.6 286.8,356.8 287.6,359.6 288.4,360.0 289.2,360.0 290.0,360.2 290.8,359.5 291.6,356.8 292.4,353.5 293.2,350.0 294.0,348.6 294.8,349.3 295.6,351.9 296.4,354.9 297.2,358.0 298.0,360.9 298.8,362.1 299.6,363.3 300.4,364.0 301.2,365.2 302.0,365.5 302.8,365.7 303.6,366.1 304.4,366.0 305.2,366.2 306.0,366.4 306.8,366.1 307.6,366.5 308.4,366.0 309.2,366.3 310.0,365.8 310.8,366.1 311.6,366.0 312.4,366.1 313.2,366.1 314.0,365.0 314.8,364.5 315.6,363.2 316.4,362.2 317.2,361.1 318.0,359.9 318.8,359.1 319.6,358.5 320.4,358.9 321.2,359.3 322.0,360.6 322.8,361.5 323.6,363.4 324.4,364.2 325.2,365.7 326.0,366.0 326.8,366.4 327.6,366.5 328.4,366.9 329.2,366.9 330.0,367.3 330.8,367.3 331.6,367.4 332.4,367.7 333.2,367.2 334.0,367.7 334.8,367.1 335.6,366.2 336.4,365.7 337.2,364.6 338.0,364.1 338.8,362.7 339.6,362.0 340.4,361.6 341.2,361.0 342.0,362.0 342.8,362.5 343.6,364.1 344.4,365.1 345.2,365.4 346.0,365.4 346.8,366.1 347.6,366.4 348.4,366.7 349.2,366.7 350.0,366.7 350.8,367.1 351.6,367.0 352.4,367.6 353.2,366.9 354.0,366.6 354.8,366.3 355.6,365.4 356.4,364.9 357.2,364.1 358.0,363.2 358.8,362.2 359.6,361.2 360.4,358.9 361.2,356.6 362.0,355.4 362.8,354.3 363.6,353.0 364.4,352.7 365.2,353.1 366.0,354.4 366.8,355.7 367.6,356.9 368.4,357.2 369.2,356.9 370.0,355.2 370.8,353.9 371.6,351.5 372.4,349.5 373.2,348.3 374.0,347.5 374.8,347.7 375.6,348.4 376.4,349.4 377.2,350.5 378.0,351.6 378.8,353.2 379.6,354.2 380.4,355.7 381.2,357.2 382.0,358.7 382.8,360.0 383.6,360.5 384.4,361.8 385.2,362.8 386.0,363.6 386.8,364.5 387.6,364.7 388.4,365.4 389.2,365.2 390.0,364.8 390.8,365.0 391.6,364.5 392.4,364.2 393.2,363.3 394.0,363.2 394.8,362.8 395.6,362.8 396.4,362.8 397.2,362.1 398.0,362.7 398.8,363.1 399.6,363.8 400.4,364.1 401.2,364.4 402.0,365.1 402.8,365.5 403.6,366.1 404.4,366.9 405.2,367.4 406.0,368.2 406.8,368.3 407.6,369.4 408.4,369.4 409.2,369.5 410.0,369.2 410.8,369.2 411.6,369.6 412.4,369.8 413.2,370.4 414.0,370.3 414.8,369.9 415.6,369.9 416.4,369.3 417.2,368.2 418.0,367.4 418.8,366.1 419.6,364.6 420.4,362.5 421.2,360.9 422.0,360.9 422.8,361.6 423.6,363.4 424.4,365.7 425.2,366.1 426.0,367.8 426.8,368.0 427.6,368.9 428.4,369.6 429.2,369.3 430.0,369.7 430.8,370.5 431.6,369.9 432.4,369.9 433.2,370.0 434.0,370.1 434.8,370.0 435.6,369.7 436.4,369.5 437.2,369.5 438.0,369.4 438.8,369.5 439.6,369.2 440.4,369.4 441.2,368.8 442.0,368.9 442.8,369.1 443.6,368.9 444.4,368.6 445.2,368.2 446.0,368.1 446.8,368.0 447.6,368.0 448.4,367.7 449.2,367.3 450.0,367.4 450.8,367.5 451.6,367.5 452.4,367.0 453.2,367.1 454.0,366.9 454.8,367.1 455.6,368.0 456.4,367.5 457.2,367.5 458.0,367.7 458.8,367.8 459.6,367.9 460.4,368.5 461.2,368.7 462.0,369.3 462.8,369.0 463.6,369.6 464.4,370.0 465.2,369.6 466.0,370.3 466.8,370.0 467.6,370.6 468.4,371.0 469.2,371.0 470.0,371.2 470.8,371.2 471.6,371.6 472.4,372.0 473.2,371.9 474.0,372.0 474.8,372.2 475.6,372.4 476.4,372.0 477.2,372.3 478.0,372.2 478.8,372.4 479.6,372.5 480.4,372.4 481.2,372.6 482.0,372.1 482.8,372.2 483.6,372.1 484.4,372.3 485.2,372.3 486.0,372.3 486.8,372.1 487.6,372.3 488.4,372.2 489.2,372.4 490.0,372.2" fill="none" stroke="#da2c32" stroke-width="1.6" stroke-linejoin="round"/>
<polyline points="276.4,376.0 277.2,376.2 278.0,376.1 278.8,376.7 279.6,376.7 280.4,377.3 281.2,377.5 282.0,377.3 282.8,377.5 283.6,377.1 284.4,376.9 285.2,377.3 286.0,377.2 286.8,376.6 287.6,376.4 288.4,375.9 289.2,375.4 290.0,375.1 290.8,374.8 291.6,374.8 292.4,375.9 293.2,377.2 294.0,377.7 294.8,378.4 295.6,378.3 296.4,378.1 297.2,378.0 298.0,378.9 298.8,378.3 299.6,378.3 300.4,378.5 301.2,378.3 302.0,378.1 302.8,378.2 303.6,377.9 304.4,378.2 305.2,377.8 306.0,378.2 306.8,378.2 307.6,377.6 308.4,378.2 309.2,377.3 310.0,377.6 310.8,377.0 311.6,376.9 312.4,376.4 313.2,376.8 314.0,376.3 314.8,376.3 315.6,376.0 316.4,375.9 317.2,376.0 318.0,376.2 318.8,376.9 319.6,377.4 320.4,377.9 321.2,378.1 322.0,378.7 322.8,379.1 323.6,379.1 324.4,379.5 325.2,379.6 326.0,379.5 326.8,379.7 327.6,379.9 328.4,380.1 329.2,380.2 330.0,380.6 330.8,380.2 331.6,380.0 332.4,380.5 333.2,380.2 334.0,380.2 334.8,380.6 335.6,380.2 336.4,379.8 337.2,379.7 338.0,379.2 338.8,379.1 339.6,378.4 340.4,378.1 341.2,377.5 342.0,376.7 342.8,375.1 343.6,373.1 344.4,372.0 345.2,370.2 346.0,369.2 346.8,369.0 347.6,370.7 348.4,372.7 349.2,374.7 350.0,375.9 350.8,376.6 351.6,377.0 352.4,377.3 353.2,378.2 354.0,378.0 354.8,377.7 355.6,377.6 356.4,377.4 357.2,377.7 358.0,378.0 358.8,377.2 359.6,377.3 360.4,376.8 361.2,377.2 362.0,376.9 362.8,376.7 363.6,376.8 364.4,376.8 365.2,376.5 366.0,376.1 366.8,375.8 367.6,375.8 368.4,375.6 369.2,376.2 370.0,375.8 370.8,375.8 371.6,376.1 372.4,376.8 373.2,376.8 374.0,377.7 374.8,378.0 375.6,378.2 376.4,378.1 377.2,378.9 378.0,378.8 378.8,379.1 379.6,379.4 380.4,379.6 381.2,379.9 382.0,379.8 382.8,380.1 383.6,380.3 384.4,380.4 385.2,380.7 386.0,380.7 386.8,381.2 387.6,381.0 388.4,381.0 389.2,381.5 390.0,381.9 390.8,381.7 391.6,381.7 392.4,381.9 393.2,382.0 394.0,382.0 394.8,382.1 395.6,381.6 396.4,382.3 397.2,382.0 398.0,381.7 398.8,382.1 399.6,381.9 400.4,382.0 401.2,381.4 402.0,381.9 402.8,381.5 403.6,381.0 404.4,381.6 405.2,381.2 406.0,381.0 406.8,381.1 407.6,380.6 408.4,381.0 409.2,380.7 410.0,380.6 410.8,380.8 411.6,380.4 412.4,380.2 413.2,380.0 414.0,380.1 414.8,380.2 415.6,379.8 416.4,379.6 417.2,380.0 418.0,379.7 418.8,379.7 419.6,380.2 420.4,379.6 421.2,380.1 422.0,380.0 422.8,380.6 423.6,381.1 424.4,381.4 425.2,381.1 426.0,381.7 426.8,381.7 427.6,381.5 428.4,382.0 429.2,381.4 430.0,381.2 430.8,381.4 431.6,380.8 432.4,381.5 433.2,381.3 434.0,380.9 434.8,381.0 435.6,380.8 436.4,381.0 437.2,380.4 438.0,380.1 438.8,379.6 439.6,379.6 440.4,378.9 441.2,378.8 442.0,378.5 442.8,378.1 443.6,377.9 444.4,378.6 445.2,378.7 446.0,379.4 446.8,380.2 447.6,380.4 448.4,381.0 449.2,382.0 450.0,381.6 450.8,381.6 451.6,381.8 452.4,381.9 453.2,381.9 454.0,382.1 454.8,382.3 455.6,382.3 456.4,382.5 457.2,382.1 458.0,382.2 458.8,382.7 459.6,382.5 460.4,382.9 461.2,382.8 462.0,382.5 462.8,382.9 463.6,382.7 464.4,383.0 465.2,383.2 466.0,383.4 466.8,383.0 467.6,383.2 468.4,383.2 469.2,383.3 470.0,382.6 470.8,383.1 471.6,383.3 472.4,383.3 473.2,383.1 474.0,383.5 474.8,383.6 475.6,383.4 476.4,383.3 477.2,383.3 478.0,383.5 478.8,383.7 479.6,383.8 480.4,383.5 481.2,383.4 482.0,383.5 482.8,383.9 483.6,383.7 484.4,383.8 485.2,383.8 486.0,383.8 486.8,383.8 487.6,383.6 488.4,383.7 489.2,383.8 490.0,383.9" fill="none" stroke="#111111" stroke-width="1.6" stroke-linejoin="round"/>
<rect x="16.2" y="2.0" width="234.30" height="180.30" fill="none" stroke="#111" stroke-width="1.4"/>
<line x1="27.93" y1="182.3" x2="27.93" y2="179.70" stroke="#111" stroke-width="1.2"/>
<line x1="39.66" y1="182.3" x2="39.66" y2="179.10" stroke="#111" stroke-width="1.2"/>
<line x1="51.39" y1="182.3" x2="51.39" y2="179.70" stroke="#111" stroke-width="1.2"/>
<line x1="63.12" y1="182.3" x2="63.12" y2="179.10" stroke="#111" stroke-width="1.2"/>
<line x1="74.85" y1="182.3" x2="74.85" y2="179.70" stroke="#111" stroke-width="1.2"/>
<line x1="86.58" y1="182.3" x2="86.58" y2="179.10" stroke="#111" stroke-width="1.2"/>
<line x1="98.31" y1="182.3" x2="98.31" y2="179.70" stroke="#111" stroke-width="1.2"/>
<line x1="110.04" y1="182.3" x2="110.04" y2="179.10" stroke="#111" stroke-width="1.2"/>
<line x1="121.77" y1="182.3" x2="121.77" y2="179.70" stroke="#111" stroke-width="1.2"/>
<line x1="133.50" y1="182.3" x2="133.50" y2="179.10" stroke="#111" stroke-width="1.2"/>
<line x1="145.23" y1="182.3" x2="145.23" y2="179.70" stroke="#111" stroke-width="1.2"/>
<line x1="156.96" y1="182.3" x2="156.96" y2="179.10" stroke="#111" stroke-width="1.2"/>
<line x1="168.69" y1="182.3" x2="168.69" y2="179.70" stroke="#111" stroke-width="1.2"/>
<line x1="180.42" y1="182.3" x2="180.42" y2="179.10" stroke="#111" stroke-width="1.2"/>
<line x1="192.15" y1="182.3" x2="192.15" y2="179.70" stroke="#111" stroke-width="1.2"/>
<line x1="203.88" y1="182.3" x2="203.88" y2="179.10" stroke="#111" stroke-width="1.2"/>
<line x1="215.61" y1="182.3" x2="215.61" y2="179.70" stroke="#111" stroke-width="1.2"/>
<line x1="227.34" y1="182.3" x2="227.34" y2="179.10" stroke="#111" stroke-width="1.2"/>
<line x1="239.07" y1="182.3" x2="239.07" y2="179.70" stroke="#111" stroke-width="1.2"/>
<text transform="translate(16.20,194.50) scale(1,1.08)" text-anchor="middle" class="tl">30</text>
<text transform="translate(39.66,194.50) scale(1,1.08)" text-anchor="middle" class="tl">60</text>
<text transform="translate(63.12,194.50) scale(1,1.08)" text-anchor="middle" class="tl">90</text>
<text transform="translate(86.58,194.50) scale(1,1.08)" text-anchor="middle" class="tl">120</text>
<text transform="translate(110.04,194.50) scale(1,1.08)" text-anchor="middle" class="tl">150</text>
<text transform="translate(133.50,194.50) scale(1,1.08)" text-anchor="middle" class="tl">180</text>
<text transform="translate(156.96,194.50) scale(1,1.08)" text-anchor="middle" class="tl">210</text>
<text transform="translate(180.42,194.50) scale(1,1.08)" text-anchor="middle" class="tl">240</text>
<text transform="translate(203.88,194.50) scale(1,1.08)" text-anchor="middle" class="tl">270</text>
<text transform="translate(227.34,194.50) scale(1,1.08)" text-anchor="middle" class="tl">300</text>
<text transform="translate(250.80,194.50) scale(1,1.08)" text-anchor="middle" class="tl">330</text>
<text transform="translate(133.50,204.80) scale(1,1.04)" text-anchor="middle" class="ax">Raman shift (cm<tspan dy="-4" font-size="5.6">-1</tspan><tspan dy="4">)</tspan></text>
<text transform="translate(11.30,96.25) rotate(-90) scale(1.11,1.0)" text-anchor="middle" class="ay">Intensity (a. u.)</text>
<rect x="276.2" y="2.3" width="234.70" height="180.80" fill="none" stroke="#111" stroke-width="1.4"/>
<line x1="288.31" y1="183.1" x2="288.31" y2="180.50" stroke="#111" stroke-width="1.2"/>
<line x1="300.03" y1="183.1" x2="300.03" y2="179.90" stroke="#111" stroke-width="1.2"/>
<line x1="311.75" y1="183.1" x2="311.75" y2="180.50" stroke="#111" stroke-width="1.2"/>
<line x1="323.46" y1="183.1" x2="323.46" y2="179.90" stroke="#111" stroke-width="1.2"/>
<line x1="335.18" y1="183.1" x2="335.18" y2="180.50" stroke="#111" stroke-width="1.2"/>
<line x1="346.89" y1="183.1" x2="346.89" y2="179.90" stroke="#111" stroke-width="1.2"/>
<line x1="358.61" y1="183.1" x2="358.61" y2="180.50" stroke="#111" stroke-width="1.2"/>
<line x1="370.32" y1="183.1" x2="370.32" y2="179.90" stroke="#111" stroke-width="1.2"/>
<line x1="382.03" y1="183.1" x2="382.03" y2="180.50" stroke="#111" stroke-width="1.2"/>
<line x1="393.75" y1="183.1" x2="393.75" y2="179.90" stroke="#111" stroke-width="1.2"/>
<line x1="405.47" y1="183.1" x2="405.47" y2="180.50" stroke="#111" stroke-width="1.2"/>
<line x1="417.18" y1="183.1" x2="417.18" y2="179.90" stroke="#111" stroke-width="1.2"/>
<line x1="428.89" y1="183.1" x2="428.89" y2="180.50" stroke="#111" stroke-width="1.2"/>
<line x1="440.61" y1="183.1" x2="440.61" y2="179.90" stroke="#111" stroke-width="1.2"/>
<line x1="452.32" y1="183.1" x2="452.32" y2="180.50" stroke="#111" stroke-width="1.2"/>
<line x1="464.04" y1="183.1" x2="464.04" y2="179.90" stroke="#111" stroke-width="1.2"/>
<line x1="475.75" y1="183.1" x2="475.75" y2="180.50" stroke="#111" stroke-width="1.2"/>
<line x1="487.47" y1="183.1" x2="487.47" y2="179.90" stroke="#111" stroke-width="1.2"/>
<line x1="499.18" y1="183.1" x2="499.18" y2="180.50" stroke="#111" stroke-width="1.2"/>
<text transform="translate(276.60,195.30) scale(1,1.08)" text-anchor="middle" class="tl">30</text>
<text transform="translate(300.03,195.30) scale(1,1.08)" text-anchor="middle" class="tl">60</text>
<text transform="translate(323.46,195.30) scale(1,1.08)" text-anchor="middle" class="tl">90</text>
<text transform="translate(346.89,195.30) scale(1,1.08)" text-anchor="middle" class="tl">120</text>
<text transform="translate(370.32,195.30) scale(1,1.08)" text-anchor="middle" class="tl">150</text>
<text transform="translate(393.75,195.30) scale(1,1.08)" text-anchor="middle" class="tl">180</text>
<text transform="translate(417.18,195.30) scale(1,1.08)" text-anchor="middle" class="tl">210</text>
<text transform="translate(440.61,195.30) scale(1,1.08)" text-anchor="middle" class="tl">240</text>
<text transform="translate(464.04,195.30) scale(1,1.08)" text-anchor="middle" class="tl">270</text>
<text transform="translate(487.47,195.30) scale(1,1.08)" text-anchor="middle" class="tl">300</text>
<text transform="translate(510.90,195.30) scale(1,1.08)" text-anchor="middle" class="tl">330</text>
<text transform="translate(393.75,205.60) scale(1,1.04)" text-anchor="middle" class="ax">Raman shift (cm<tspan dy="-4" font-size="5.6">-1</tspan><tspan dy="4">)</tspan></text>
<text transform="translate(271.70,96.80) rotate(-90) scale(1.11,1.0)" text-anchor="middle" class="ay">Intensity (a. u.)</text>
<rect x="16.2" y="208.5" width="234.60" height="180.50" fill="none" stroke="#111" stroke-width="1.4"/>
<line x1="27.93" y1="389.0" x2="27.93" y2="386.40" stroke="#111" stroke-width="1.2"/>
<line x1="39.66" y1="389.0" x2="39.66" y2="385.80" stroke="#111" stroke-width="1.2"/>
<line x1="51.39" y1="389.0" x2="51.39" y2="386.40" stroke="#111" stroke-width="1.2"/>
<line x1="63.12" y1="389.0" x2="63.12" y2="385.80" stroke="#111" stroke-width="1.2"/>
<line x1="74.85" y1="389.0" x2="74.85" y2="386.40" stroke="#111" stroke-width="1.2"/>
<line x1="86.58" y1="389.0" x2="86.58" y2="385.80" stroke="#111" stroke-width="1.2"/>
<line x1="98.31" y1="389.0" x2="98.31" y2="386.40" stroke="#111" stroke-width="1.2"/>
<line x1="110.04" y1="389.0" x2="110.04" y2="385.80" stroke="#111" stroke-width="1.2"/>
<line x1="121.77" y1="389.0" x2="121.77" y2="386.40" stroke="#111" stroke-width="1.2"/>
<line x1="133.50" y1="389.0" x2="133.50" y2="385.80" stroke="#111" stroke-width="1.2"/>
<line x1="145.23" y1="389.0" x2="145.23" y2="386.40" stroke="#111" stroke-width="1.2"/>
<line x1="156.96" y1="389.0" x2="156.96" y2="385.80" stroke="#111" stroke-width="1.2"/>
<line x1="168.69" y1="389.0" x2="168.69" y2="386.40" stroke="#111" stroke-width="1.2"/>
<line x1="180.42" y1="389.0" x2="180.42" y2="385.80" stroke="#111" stroke-width="1.2"/>
<line x1="192.15" y1="389.0" x2="192.15" y2="386.40" stroke="#111" stroke-width="1.2"/>
<line x1="203.88" y1="389.0" x2="203.88" y2="385.80" stroke="#111" stroke-width="1.2"/>
<line x1="215.61" y1="389.0" x2="215.61" y2="386.40" stroke="#111" stroke-width="1.2"/>
<line x1="227.34" y1="389.0" x2="227.34" y2="385.80" stroke="#111" stroke-width="1.2"/>
<line x1="239.07" y1="389.0" x2="239.07" y2="386.40" stroke="#111" stroke-width="1.2"/>
<text transform="translate(16.20,401.20) scale(1,1.08)" text-anchor="middle" class="tl">30</text>
<text transform="translate(39.66,401.20) scale(1,1.08)" text-anchor="middle" class="tl">60</text>
<text transform="translate(63.12,401.20) scale(1,1.08)" text-anchor="middle" class="tl">90</text>
<text transform="translate(86.58,401.20) scale(1,1.08)" text-anchor="middle" class="tl">120</text>
<text transform="translate(110.04,401.20) scale(1,1.08)" text-anchor="middle" class="tl">150</text>
<text transform="translate(133.50,401.20) scale(1,1.08)" text-anchor="middle" class="tl">180</text>
<text transform="translate(156.96,401.20) scale(1,1.08)" text-anchor="middle" class="tl">210</text>
<text transform="translate(180.42,401.20) scale(1,1.08)" text-anchor="middle" class="tl">240</text>
<text transform="translate(203.88,401.20) scale(1,1.08)" text-anchor="middle" class="tl">270</text>
<text transform="translate(227.34,401.20) scale(1,1.08)" text-anchor="middle" class="tl">300</text>
<text transform="translate(250.80,401.20) scale(1,1.08)" text-anchor="middle" class="tl">330</text>
<text transform="translate(133.50,411.50) scale(1,1.04)" text-anchor="middle" class="ax">Raman shift (cm<tspan dy="-4" font-size="5.6">-1</tspan><tspan dy="4">)</tspan></text>
<text transform="translate(11.30,302.85) rotate(-90) scale(1.11,1.0)" text-anchor="middle" class="ay">Intensity (a. u.)</text>
<rect x="276.4" y="208.2" width="234.30" height="180.00" fill="none" stroke="#111" stroke-width="1.4"/>
<line x1="288.11" y1="388.2" x2="288.11" y2="385.60" stroke="#111" stroke-width="1.2"/>
<line x1="299.83" y1="388.2" x2="299.83" y2="385.00" stroke="#111" stroke-width="1.2"/>
<line x1="311.54" y1="388.2" x2="311.54" y2="385.60" stroke="#111" stroke-width="1.2"/>
<line x1="323.26" y1="388.2" x2="323.26" y2="385.00" stroke="#111" stroke-width="1.2"/>
<line x1="334.97" y1="388.2" x2="334.97" y2="385.60" stroke="#111" stroke-width="1.2"/>
<line x1="346.69" y1="388.2" x2="346.69" y2="385.00" stroke="#111" stroke-width="1.2"/>
<line x1="358.40" y1="388.2" x2="358.40" y2="385.60" stroke="#111" stroke-width="1.2"/>
<line x1="370.12" y1="388.2" x2="370.12" y2="385.00" stroke="#111" stroke-width="1.2"/>
<line x1="381.83" y1="388.2" x2="381.83" y2="385.60" stroke="#111" stroke-width="1.2"/>
<line x1="393.55" y1="388.2" x2="393.55" y2="385.00" stroke="#111" stroke-width="1.2"/>
<line x1="405.26" y1="388.2" x2="405.26" y2="385.60" stroke="#111" stroke-width="1.2"/>
<line x1="416.98" y1="388.2" x2="416.98" y2="385.00" stroke="#111" stroke-width="1.2"/>
<line x1="428.69" y1="388.2" x2="428.69" y2="385.60" stroke="#111" stroke-width="1.2"/>
<line x1="440.41" y1="388.2" x2="440.41" y2="385.00" stroke="#111" stroke-width="1.2"/>
<line x1="452.12" y1="388.2" x2="452.12" y2="385.60" stroke="#111" stroke-width="1.2"/>
<line x1="463.84" y1="388.2" x2="463.84" y2="385.00" stroke="#111" stroke-width="1.2"/>
<line x1="475.55" y1="388.2" x2="475.55" y2="385.60" stroke="#111" stroke-width="1.2"/>
<line x1="487.27" y1="388.2" x2="487.27" y2="385.00" stroke="#111" stroke-width="1.2"/>
<line x1="498.99" y1="388.2" x2="498.99" y2="385.60" stroke="#111" stroke-width="1.2"/>
<text transform="translate(276.40,400.40) scale(1,1.08)" text-anchor="middle" class="tl">30</text>
<text transform="translate(299.83,400.40) scale(1,1.08)" text-anchor="middle" class="tl">60</text>
<text transform="translate(323.26,400.40) scale(1,1.08)" text-anchor="middle" class="tl">90</text>
<text transform="translate(346.69,400.40) scale(1,1.08)" text-anchor="middle" class="tl">120</text>
<text transform="translate(370.12,400.40) scale(1,1.08)" text-anchor="middle" class="tl">150</text>
<text transform="translate(393.55,400.40) scale(1,1.08)" text-anchor="middle" class="tl">180</text>
<text transform="translate(416.98,400.40) scale(1,1.08)" text-anchor="middle" class="tl">210</text>
<text transform="translate(440.41,400.40) scale(1,1.08)" text-anchor="middle" class="tl">240</text>
<text transform="translate(463.84,400.40) scale(1,1.08)" text-anchor="middle" class="tl">270</text>
<text transform="translate(487.27,400.40) scale(1,1.08)" text-anchor="middle" class="tl">300</text>
<text transform="translate(510.70,400.40) scale(1,1.08)" text-anchor="middle" class="tl">330</text>
<text transform="translate(393.55,410.70) scale(1,1.04)" text-anchor="middle" class="ax">Raman shift (cm<tspan dy="-4" font-size="5.6">-1</tspan><tspan dy="4">)</tspan></text>
<text transform="translate(271.50,302.30) rotate(-90) scale(1.11,1.0)" text-anchor="middle" class="ay">Intensity (a. u.)</text>
<text transform="translate(18.10,33.20) scale(1,1.07)" text-anchor="start" class="pk">40</text>
<text transform="translate(31.90,38.20) scale(1,1.07)" text-anchor="start" class="pk">53.6</text>
<text transform="translate(55.60,32.00) scale(1,1.07)" text-anchor="start" class="pk">86.6</text>
<text transform="translate(69.90,45.50) scale(1,1.07)" text-anchor="start" class="pk">120.9</text>
<text transform="translate(79.50,11.20) scale(1,1.07)" text-anchor="start" class="pk">143.3</text>
<text transform="translate(109.00,15.10) scale(1,1.07)" text-anchor="start" class="pk">155.6</text>
<text transform="translate(123.40,24.70) scale(1,1.07)" text-anchor="start" class="pk">164</text>
<text transform="translate(126.30,37.20) scale(1,1.07)" text-anchor="start" class="pk">181.4</text>
<text transform="translate(150.30,19.90) scale(1,1.07)" text-anchor="start" class="pk">217.6</text>
<text transform="translate(174.50,45.30) scale(1,1.07)" text-anchor="start" class="pk">243.5</text>
<text transform="translate(18.10,225.50) scale(1,1.07)" text-anchor="start" class="pk">40</text>
<text transform="translate(31.00,235.20) scale(1,1.07)" text-anchor="start" class="pk">53.6</text>
<text transform="translate(53.40,231.90) scale(1,1.07)" text-anchor="start" class="pk">86.6</text>
<text transform="translate(77.70,225.90) scale(1,1.07)" text-anchor="start" class="pk">120.9</text>
<text transform="translate(89.60,237.00) scale(1,1.07)" text-anchor="start" class="pk">143.4</text>
<text transform="translate(148.80,239.20) scale(1,1.07)" text-anchor="start" class="pk">217.6</text>
<text transform="translate(178.80,235.20) scale(1,1.07)" text-anchor="start" class="pk">243.5</text>
<text transform="translate(230.90,58.00) scale(1,1.12)" text-anchor="start" class="ang">180<tspan font-size="8.4" dy="1.4" dx="-0.1">°</tspan></text>
<text transform="translate(235.90,176.20) scale(1,1.12)" text-anchor="start" class="ang">0<tspan font-size="8.4" dy="1.4" dx="-0.1">°</tspan></text>
<text transform="translate(492.40,60.50) scale(1,1.12)" text-anchor="start" class="ang">180<tspan font-size="8.4" dy="1.4" dx="-0.1">°</tspan></text>
<text transform="translate(491.90,176.10) scale(1,1.12)" text-anchor="start" class="ang">360<tspan font-size="8.4" dy="1.4" dx="-0.1">°</tspan></text>
<text transform="translate(231.40,250.30) scale(1,1.12)" text-anchor="start" class="ang">180<tspan font-size="8.4" dy="1.4" dx="-0.1">°</tspan></text>
<text transform="translate(234.60,383.20) scale(1,1.12)" text-anchor="start" class="ang">0<tspan font-size="8.4" dy="1.4" dx="-0.1">°</tspan></text>
<text transform="translate(491.70,249.00) scale(1,1.12)" text-anchor="start" class="ang">180<tspan font-size="8.4" dy="1.4" dx="-0.1">°</tspan></text>
<text transform="translate(492.10,384.10) scale(1,1.12)" text-anchor="start" class="ang">360<tspan font-size="8.4" dy="1.4" dx="-0.1">°</tspan></text>
<line x1="230.4" y1="39.5" x2="230.4" y2="182.3" stroke="#222" stroke-width="1.1"/>
<polygon points="228.8,44.0 230.4,37.6 232.0,44.0" fill="#111"/>
<line x1="230.2" y1="236.0" x2="230.2" y2="389.0" stroke="#666" stroke-width="1.4"/>
<polygon points="228.5,239.8 230.2,234.0 231.89999999999998,239.8" fill="#222"/>
<line x1="491.2" y1="43.3" x2="491.2" y2="179.0" stroke="#3a3a3a" stroke-width="1.3"/>
<polygon points="489.7,176.5 491.2,182.0 492.7,176.5" fill="#111"/>
<line x1="490.8" y1="234.6" x2="490.8" y2="384.0" stroke="#555" stroke-width="1.4"/>
<polygon points="489.3,381.5 490.8,387.0 492.3,381.5" fill="#111"/>
<text transform="translate(2.40,21.40) scale(1,1.1)" text-anchor="start" class="pl">a</text>
<text transform="translate(260.00,22.00) scale(1,1.08)" text-anchor="start" class="pl">b</text>
<text transform="translate(3.40,227.60) scale(1,1.08)" text-anchor="start" class="pl">c</text>
<text transform="translate(259.60,230.60) scale(1,1.08)" text-anchor="start" class="pl">d</text>
</svg>
</body></html>
